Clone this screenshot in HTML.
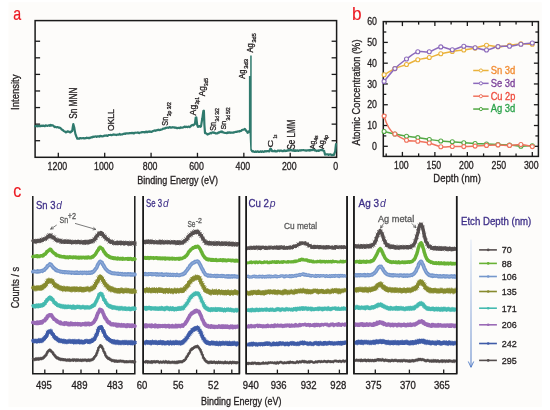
<!DOCTYPE html><html><head><meta charset="utf-8"><style>html,body{margin:0;padding:0;background:#fff;}svg{display:block;will-change:transform;}</style></head><body><svg width="550" height="410" viewBox="0 0 550 410" font-family="Liberation Sans, sans-serif">
<rect x="0" y="0" width="550" height="410" fill="#ffffff"/>
<rect x="8.5" y="2.2" width="533.3" height="405.0" fill="#fdfcfa"/>
<text x="13.3" y="19.7" font-size="18.2" fill="#ec1c24" stroke="#ec1c24" stroke-width="0.2" text-anchor="start" textLength="7.9" lengthAdjust="spacingAndGlyphs" >a</text>
<text x="351.9" y="20.3" font-size="19.0" fill="#ec1c24" stroke="#ec1c24" stroke-width="0.15" text-anchor="start" textLength="9.6" lengthAdjust="spacingAndGlyphs" >b</text>
<text x="13.2" y="197.3" font-size="18.4" fill="#ec1c24" stroke="#ec1c24" stroke-width="0.2" text-anchor="start" textLength="8.0" lengthAdjust="spacingAndGlyphs" >c</text>
<rect x="35.1" y="20.6" width="301.5" height="136.70000000000002" fill="none" stroke="#1a1a1a" stroke-width="1.5"/>
<line x1="35.1" y1="140.72000000000003" x2="40.1" y2="140.72000000000003" stroke="#1a1a1a" stroke-width="1.3"/>
<line x1="331.6" y1="140.72000000000003" x2="336.6" y2="140.72000000000003" stroke="#1a1a1a" stroke-width="1.3"/>
<line x1="35.1" y1="124.14000000000001" x2="40.1" y2="124.14000000000001" stroke="#1a1a1a" stroke-width="1.3"/>
<line x1="331.6" y1="124.14000000000001" x2="336.6" y2="124.14000000000001" stroke="#1a1a1a" stroke-width="1.3"/>
<line x1="35.1" y1="107.56000000000002" x2="40.1" y2="107.56000000000002" stroke="#1a1a1a" stroke-width="1.3"/>
<line x1="331.6" y1="107.56000000000002" x2="336.6" y2="107.56000000000002" stroke="#1a1a1a" stroke-width="1.3"/>
<line x1="35.1" y1="90.98000000000002" x2="40.1" y2="90.98000000000002" stroke="#1a1a1a" stroke-width="1.3"/>
<line x1="331.6" y1="90.98000000000002" x2="336.6" y2="90.98000000000002" stroke="#1a1a1a" stroke-width="1.3"/>
<line x1="35.1" y1="74.40000000000002" x2="40.1" y2="74.40000000000002" stroke="#1a1a1a" stroke-width="1.3"/>
<line x1="331.6" y1="74.40000000000002" x2="336.6" y2="74.40000000000002" stroke="#1a1a1a" stroke-width="1.3"/>
<line x1="35.1" y1="57.82000000000002" x2="40.1" y2="57.82000000000002" stroke="#1a1a1a" stroke-width="1.3"/>
<line x1="331.6" y1="57.82000000000002" x2="336.6" y2="57.82000000000002" stroke="#1a1a1a" stroke-width="1.3"/>
<line x1="35.1" y1="41.24000000000002" x2="40.1" y2="41.24000000000002" stroke="#1a1a1a" stroke-width="1.3"/>
<line x1="331.6" y1="41.24000000000002" x2="336.6" y2="41.24000000000002" stroke="#1a1a1a" stroke-width="1.3"/>
<line x1="58.32000000000005" y1="157.3" x2="58.32000000000005" y2="152.8" stroke="#1a1a1a" stroke-width="1.3"/>
<line x1="104.70000000000002" y1="157.3" x2="104.70000000000002" y2="152.8" stroke="#1a1a1a" stroke-width="1.3"/>
<line x1="151.08000000000004" y1="157.3" x2="151.08000000000004" y2="152.8" stroke="#1a1a1a" stroke-width="1.3"/>
<line x1="197.46000000000004" y1="157.3" x2="197.46000000000004" y2="152.8" stroke="#1a1a1a" stroke-width="1.3"/>
<line x1="243.84000000000003" y1="157.3" x2="243.84000000000003" y2="152.8" stroke="#1a1a1a" stroke-width="1.3"/>
<line x1="290.22" y1="157.3" x2="290.22" y2="152.8" stroke="#1a1a1a" stroke-width="1.3"/>
<text x="57.42" y="170.4" font-size="10.5" fill="#231f20" stroke="#231f20" stroke-width="0.3" text-anchor="middle" textLength="19.6" lengthAdjust="spacingAndGlyphs" >1200</text>
<text x="103.8" y="170.4" font-size="10.5" fill="#231f20" stroke="#231f20" stroke-width="0.3" text-anchor="middle" textLength="19.6" lengthAdjust="spacingAndGlyphs" >1000</text>
<text x="150.18" y="170.4" font-size="10.5" fill="#231f20" stroke="#231f20" stroke-width="0.3" text-anchor="middle" textLength="14.7" lengthAdjust="spacingAndGlyphs" >800</text>
<text x="196.56" y="170.4" font-size="10.5" fill="#231f20" stroke="#231f20" stroke-width="0.3" text-anchor="middle" textLength="14.7" lengthAdjust="spacingAndGlyphs" >600</text>
<text x="242.94" y="170.4" font-size="10.5" fill="#231f20" stroke="#231f20" stroke-width="0.3" text-anchor="middle" textLength="14.7" lengthAdjust="spacingAndGlyphs" >400</text>
<text x="289.32" y="170.4" font-size="10.5" fill="#231f20" stroke="#231f20" stroke-width="0.3" text-anchor="middle" textLength="14.7" lengthAdjust="spacingAndGlyphs" >200</text>
<text x="335.7" y="170.4" font-size="10.5" fill="#231f20" stroke="#231f20" stroke-width="0.3" text-anchor="middle" textLength="4.9" lengthAdjust="spacingAndGlyphs" >0</text>
<text x="137.3" y="184.4" font-size="10.0" fill="#231f20" stroke="#231f20" stroke-width="0.3" text-anchor="start" textLength="80.7" lengthAdjust="spacingAndGlyphs" >Binding Energy (eV)</text>
<text transform="translate(19.4,109.9) rotate(-90)" font-size="10.4" fill="#231f20" stroke="#231f20" stroke-width="0.3" text-anchor="start" textLength="35.4" lengthAdjust="spacingAndGlyphs" >Intensity</text>
<polyline points="35.00,126.20 35.70,126.04 36.40,125.89 37.10,126.34 37.80,125.82 38.50,126.23 39.20,126.08 39.50,126.20 39.90,125.78 40.60,126.16 41.30,125.70 42.00,126.03 42.70,125.67 43.40,125.65 43.90,126.00 44.10,125.91 44.80,126.18 45.50,125.46 46.20,125.46 46.90,125.73 47.60,125.93 48.30,125.51 49.00,125.26 49.40,125.30 49.70,125.73 50.40,124.89 51.10,125.62 51.80,125.11 52.10,125.30 52.50,125.23 53.20,125.65 53.90,126.26 54.60,127.16 54.80,127.00 55.30,126.76 56.00,127.18 56.70,127.30 57.40,127.12 58.10,127.30 58.80,127.68 59.50,127.58 60.20,127.91 60.80,128.60 60.90,128.42 61.60,129.41 62.30,129.76 63.00,130.23 63.50,130.80 63.70,131.00 64.40,131.33 65.10,131.64 65.70,132.20 65.80,132.43 66.50,132.09 67.20,131.42 67.90,131.40 68.60,131.67 69.30,131.84 70.00,132.36 70.60,132.20 70.70,132.31 71.40,131.21 72.10,131.13 72.30,130.50 72.80,127.01 73.30,124.20 73.50,124.82 74.20,127.30 74.90,131.35 75.50,134.40 75.60,134.34 76.30,136.41 77.00,137.78 77.20,138.70 77.70,138.76 78.40,138.72 79.10,138.41 79.80,138.56 79.90,138.20 80.50,138.02 81.20,138.34 81.90,138.23 82.60,138.20 83.30,138.07 84.00,138.40 84.70,138.47 85.40,138.03 86.10,138.18 86.80,137.62 87.50,138.00 88.20,138.07 88.90,137.90 89.60,138.10 90.30,137.83 91.00,137.23 91.70,137.21 92.40,137.35 93.00,137.10 93.10,136.66 93.80,136.97 94.50,136.63 95.20,136.50 95.90,136.36 96.60,136.92 97.30,136.26 98.00,136.29 98.70,136.34 99.40,136.69 100.10,135.89 100.80,136.14 101.50,136.15 102.20,136.37 102.90,136.23 103.60,136.19 104.30,135.58 105.00,135.70 105.70,135.56 106.40,135.44 107.10,135.85 107.80,135.85 108.50,135.06 109.20,135.02 109.90,135.00 110.60,134.94 111.30,135.10 112.00,135.13 112.70,134.77 113.40,134.47 114.10,134.78 114.80,134.67 115.50,134.78 116.20,135.06 116.90,134.76 117.60,134.54 118.30,134.56 119.00,134.55 119.70,133.93 120.00,134.30 120.40,134.63 121.10,134.46 121.80,134.48 122.50,134.36 123.20,133.93 123.90,133.88 124.60,133.55 125.30,133.97 126.00,133.40 126.70,133.34 127.40,133.41 128.10,133.31 128.80,133.41 129.50,133.09 130.20,132.98 130.90,133.06 131.60,132.96 132.30,133.13 133.00,132.77 133.70,133.47 134.40,133.18 135.10,132.70 135.80,132.73 136.50,132.76 137.20,132.72 137.90,132.44 138.60,133.03 139.30,133.10 140.00,132.60 140.70,132.51 141.40,132.46 142.10,132.04 142.80,131.99 143.50,132.14 144.20,132.01 144.90,132.45 145.60,131.79 146.30,131.60 147.00,132.38 147.70,131.93 148.40,131.53 149.10,131.82 149.80,131.29 150.00,131.70 150.50,131.62 151.20,131.87 151.90,131.62 152.60,131.32 153.30,130.78 154.00,130.73 154.70,130.40 155.40,130.79 156.10,130.43 156.80,130.50 157.50,129.95 158.20,129.70 158.90,130.08 159.60,130.09 160.30,129.82 161.00,129.63 161.70,129.49 162.40,129.27 163.10,128.66 163.80,128.77 164.50,128.48 165.00,128.50 165.20,128.02 165.90,127.81 166.60,127.82 167.30,127.59 168.00,127.77 168.70,127.80 169.40,127.13 170.00,127.00 170.10,127.41 170.80,127.57 171.50,127.65 172.20,127.23 172.90,127.21 173.60,127.33 174.30,127.42 175.00,127.80 175.70,127.53 176.40,127.91 177.10,128.16 177.80,128.11 178.50,127.78 179.20,127.94 179.90,128.07 180.00,127.80 180.60,127.31 181.30,127.68 182.00,127.77 182.70,127.51 183.40,127.35 184.10,126.96 184.80,126.55 185.00,126.80 185.50,127.04 186.20,126.60 186.90,126.99 187.60,127.12 188.30,126.57 189.00,126.55 189.70,127.01 190.00,126.60 190.40,126.59 191.10,125.72 191.80,125.31 192.50,124.96 193.20,125.27 193.90,124.81 194.60,123.84 194.90,124.00 195.30,121.04 195.70,117.50 196.00,117.93 196.30,117.50 196.70,120.97 197.20,125.00 197.40,125.38 197.90,126.80 198.10,126.81 198.80,126.32 199.50,126.10 200.20,126.85 200.90,126.45 201.00,126.30 201.60,122.56 202.30,118.53 202.80,115.00 203.00,113.54 203.40,110.80 203.70,111.13 203.90,110.80 204.40,125.00 205.00,132.80 205.10,133.16 205.80,133.08 206.50,133.60 207.20,134.11 207.50,134.50 207.90,134.11 208.60,134.14 209.30,133.56 210.00,133.43 210.70,132.89 211.40,133.31 212.10,132.53 212.80,132.34 213.00,132.30 213.50,132.52 214.20,133.00 214.90,132.76 215.60,133.41 216.30,133.23 216.90,133.40 217.00,133.39 217.70,133.14 218.40,132.45 219.10,132.58 219.80,132.11 220.50,131.70 221.20,132.18 221.80,131.70 221.90,131.45 222.60,132.00 223.30,132.51 224.00,132.64 224.70,132.72 225.00,133.00 225.40,132.99 226.10,132.96 226.80,133.12 227.50,132.45 228.20,132.81 228.90,132.47 229.60,132.44 230.30,132.83 231.00,132.54 231.70,132.53 232.40,132.66 233.10,132.74 233.80,132.26 234.00,132.30 234.50,132.29 235.20,132.04 235.90,131.90 236.60,131.91 237.30,131.54 238.00,131.46 238.70,131.26 239.40,131.53 240.00,131.00 240.10,131.13 240.80,130.97 241.50,130.71 242.20,129.78 242.90,129.73 243.60,129.76 244.30,129.34 244.60,128.90 245.00,129.09 245.70,129.99 246.40,131.19 247.10,131.77 247.60,132.80 247.80,132.24 248.40,131.50" fill="none" stroke="#2f7a6d" stroke-width="2.2" stroke-linejoin="round" stroke-linecap="round" />
<polyline points="252.30,151.20 253.00,151.03 253.60,151.60 253.70,151.75 254.40,151.86 255.10,151.96 255.80,151.29 256.50,151.79 257.20,151.74 257.90,151.28 258.60,151.94 259.30,152.02 260.00,151.60 260.70,151.32 261.40,151.95 262.10,151.42 262.80,151.47 263.50,151.89 264.20,151.72 264.90,151.09 265.60,151.30 266.30,151.35 267.00,151.16 267.70,151.00 268.40,151.08 269.10,151.42 269.50,151.20 269.80,149.87 270.30,148.80 270.50,148.85 271.00,148.80 271.20,149.23 271.90,150.53 272.00,151.20 272.60,151.03 273.30,151.26 274.00,151.14 274.70,150.71 275.40,151.51 276.10,151.31 276.80,151.44 277.50,150.64 278.20,150.76 278.90,150.53 279.60,151.17 280.30,150.68 281.00,150.53 281.70,150.77 282.40,151.18 283.10,151.07 283.80,150.54 284.50,150.42 285.20,151.08 285.90,150.74 286.60,150.83 287.30,150.26 288.00,150.60 288.70,150.06 289.40,150.49 290.10,150.11 290.80,149.66 291.00,150.00 291.50,150.49 292.20,150.36 292.90,150.65 293.60,150.15 294.00,150.60 294.30,150.92 295.00,150.20 295.70,150.92 296.40,150.54 297.10,150.44 297.80,150.62 298.50,150.96 299.20,150.36 299.90,150.23 300.60,150.58 301.30,150.32 302.00,150.20 302.70,150.24 303.40,150.14 304.10,150.27 304.80,150.36 305.50,150.35 306.20,150.76 306.90,150.33 307.60,150.52 308.30,150.22 309.00,150.37 309.70,150.07 310.00,150.50 310.40,150.18 311.10,149.79 311.80,150.26 312.50,149.92 313.20,149.42 313.60,149.60 313.90,149.73 314.60,150.49 315.30,150.10 316.00,150.80 316.70,151.04 317.40,150.65 318.10,150.66 318.80,150.91 319.00,150.60 319.50,150.34 320.20,150.21 320.90,150.14 321.60,150.17 322.00,149.60 322.30,149.65 323.00,150.54 323.70,150.87 324.20,151.00 324.40,152.02 325.00,154.60 325.10,154.52 325.80,154.48 326.50,154.23 327.20,154.32 327.90,154.28 328.60,154.90 329.30,154.48 330.00,154.41 330.70,154.35 331.40,155.05 332.10,155.09 332.80,154.93 333.50,154.59 334.00,154.80 334.20,154.02 334.90,152.14 335.20,151.50 335.60,147.71 336.00,144.00" fill="none" stroke="#2f7a6d" stroke-width="2.2" stroke-linejoin="round" stroke-linecap="round" />
<path d="M247.6,133.6 L248.9,130 L248.9,76 L250.2,76 L250.2,55.6 L251.7,55.6 L251.7,148.5 L253.3,152.3 L252.2,152.4 L250.3,150.5 L249.5,133 Z" fill="#2f7a6d"/>
<text transform="translate(77.2,118.8) rotate(-90)" font-size="10.0" fill="#231f20" stroke="#231f20" stroke-width="0.3" text-anchor="start" textLength="31.2" lengthAdjust="spacingAndGlyphs" >Sn MNN</text>
<text transform="translate(113.5,131.1) rotate(-90)" font-size="9.8" fill="#231f20" stroke="#231f20" stroke-width="0.3" text-anchor="start" textLength="22.0" lengthAdjust="spacingAndGlyphs" >OKLL</text>
<text transform="translate(168.1,125.7) rotate(-90)" font-size="8.8" fill="#231f20" stroke="#231f20" stroke-width="0.3" text-anchor="start" textLength="8.9" lengthAdjust="spacingAndGlyphs" >Sn</text>
<text transform="translate(171.4,116.3) rotate(-90)" font-size="5.6" fill="#231f20" stroke="#231f20" stroke-width="0.3" text-anchor="start" textLength="14.0" lengthAdjust="spacingAndGlyphs" >3p 3/2</text>
<text transform="translate(195.5,115.4) rotate(-90)" font-size="8.9" fill="#231f20" stroke="#231f20" stroke-width="0.3" text-anchor="start" textLength="10.7" lengthAdjust="spacingAndGlyphs" >Ag</text>
<text transform="translate(199.3,104.4) rotate(-90)" font-size="5.6" fill="#231f20" stroke="#231f20" stroke-width="0.3" text-anchor="start" textLength="7.3" lengthAdjust="spacingAndGlyphs" >3p1</text>
<text transform="translate(204.9,96.2) rotate(-90)" font-size="8.4" fill="#231f20" stroke="#231f20" stroke-width="0.3" text-anchor="start" textLength="10.2" lengthAdjust="spacingAndGlyphs" >Ag</text>
<text transform="translate(208.3,86.0) rotate(-90)" font-size="5.4" fill="#231f20" stroke="#231f20" stroke-width="0.3" text-anchor="start" textLength="7.9" lengthAdjust="spacingAndGlyphs" >3d5</text>
<text transform="translate(215.7,130.8) rotate(-90)" font-size="8.4" fill="#231f20" stroke="#231f20" stroke-width="0.3" text-anchor="start" textLength="9.0" lengthAdjust="spacingAndGlyphs" >Sn</text>
<text transform="translate(218.7,121.4) rotate(-90)" font-size="5.4" fill="#231f20" stroke="#231f20" stroke-width="0.3" text-anchor="start" textLength="13.3" lengthAdjust="spacingAndGlyphs" >3d 3/2</text>
<text transform="translate(225.9,129.5) rotate(-90)" font-size="8.0" fill="#231f20" stroke="#231f20" stroke-width="0.3" text-anchor="start" textLength="8.6" lengthAdjust="spacingAndGlyphs" >Sn</text>
<text transform="translate(229.6,120.5) rotate(-90)" font-size="5.4" fill="#231f20" stroke="#231f20" stroke-width="0.3" text-anchor="start" textLength="13.2" lengthAdjust="spacingAndGlyphs" >3d 5/2</text>
<text transform="translate(244.6,78.7) rotate(-90)" font-size="8.4" fill="#231f20" stroke="#231f20" stroke-width="0.3" text-anchor="start" textLength="9.2" lengthAdjust="spacingAndGlyphs" >Ag</text>
<text transform="translate(248.3,68.8) rotate(-90)" font-size="5.4" fill="#231f20" stroke="#231f20" stroke-width="0.3" text-anchor="start" textLength="9.8" lengthAdjust="spacingAndGlyphs" >3d3</text>
<text transform="translate(253.2,52.4) rotate(-90)" font-size="8.4" fill="#231f20" stroke="#231f20" stroke-width="0.3" text-anchor="start" textLength="9.2" lengthAdjust="spacingAndGlyphs" >Ag</text>
<text transform="translate(256.3,42.5) rotate(-90)" font-size="5.4" fill="#231f20" stroke="#231f20" stroke-width="0.3" text-anchor="start" textLength="9.2" lengthAdjust="spacingAndGlyphs" >3d5</text>
<text transform="translate(273.0,147.5) rotate(-90)" font-size="7.5" fill="#231f20" stroke="#231f20" stroke-width="0.3" text-anchor="start" textLength="7.6" lengthAdjust="spacingAndGlyphs" >C</text>
<text transform="translate(277.0,138.6) rotate(-90)" font-size="5.0" fill="#231f20" stroke="#231f20" stroke-width="0.3" text-anchor="start" textLength="3.8" lengthAdjust="spacingAndGlyphs" >1s</text>
<text transform="translate(294.8,149.5) rotate(-90)" font-size="10.0" fill="#231f20" stroke="#231f20" stroke-width="0.3" text-anchor="start" textLength="30.0" lengthAdjust="spacingAndGlyphs" >Se LMM</text>
<text transform="translate(315.0,149.0) rotate(-90)" font-size="8.0" fill="#231f20" stroke="#231f20" stroke-width="0.3" text-anchor="start" textLength="8.4" lengthAdjust="spacingAndGlyphs" >Ag</text>
<text transform="translate(318.0,140.8) rotate(-90)" font-size="5.0" fill="#231f20" stroke="#231f20" stroke-width="0.3" text-anchor="start" textLength="5.3" lengthAdjust="spacingAndGlyphs" >4s</text>
<text transform="translate(324.3,149.0) rotate(-90)" font-size="8.0" fill="#231f20" stroke="#231f20" stroke-width="0.3" text-anchor="start" textLength="8.6" lengthAdjust="spacingAndGlyphs" >Ag</text>
<text transform="translate(327.6,140.4) rotate(-90)" font-size="5.0" fill="#231f20" stroke="#231f20" stroke-width="0.3" text-anchor="start" textLength="5.2" lengthAdjust="spacingAndGlyphs" >4p</text>
<rect x="383.3" y="21.6" width="155.09999999999997" height="134.8" fill="none" stroke="#1a1a1a" stroke-width="1.5"/>
<line x1="383.3" y1="146.3" x2="387.8" y2="146.3" stroke="#1a1a1a" stroke-width="1.3"/>
<line x1="533.9" y1="146.3" x2="538.4" y2="146.3" stroke="#1a1a1a" stroke-width="1.3"/>
<line x1="383.3" y1="135.91000000000003" x2="386.3" y2="135.91000000000003" stroke="#1a1a1a" stroke-width="1.3"/>
<line x1="535.4" y1="135.91000000000003" x2="538.4" y2="135.91000000000003" stroke="#1a1a1a" stroke-width="1.3"/>
<line x1="383.3" y1="125.52000000000001" x2="387.8" y2="125.52000000000001" stroke="#1a1a1a" stroke-width="1.3"/>
<line x1="533.9" y1="125.52000000000001" x2="538.4" y2="125.52000000000001" stroke="#1a1a1a" stroke-width="1.3"/>
<line x1="383.3" y1="115.13000000000001" x2="386.3" y2="115.13000000000001" stroke="#1a1a1a" stroke-width="1.3"/>
<line x1="535.4" y1="115.13000000000001" x2="538.4" y2="115.13000000000001" stroke="#1a1a1a" stroke-width="1.3"/>
<line x1="383.3" y1="104.74000000000001" x2="387.8" y2="104.74000000000001" stroke="#1a1a1a" stroke-width="1.3"/>
<line x1="533.9" y1="104.74000000000001" x2="538.4" y2="104.74000000000001" stroke="#1a1a1a" stroke-width="1.3"/>
<line x1="383.3" y1="94.35000000000002" x2="386.3" y2="94.35000000000002" stroke="#1a1a1a" stroke-width="1.3"/>
<line x1="535.4" y1="94.35000000000002" x2="538.4" y2="94.35000000000002" stroke="#1a1a1a" stroke-width="1.3"/>
<line x1="383.3" y1="83.96000000000001" x2="387.8" y2="83.96000000000001" stroke="#1a1a1a" stroke-width="1.3"/>
<line x1="533.9" y1="83.96000000000001" x2="538.4" y2="83.96000000000001" stroke="#1a1a1a" stroke-width="1.3"/>
<line x1="383.3" y1="73.57000000000002" x2="386.3" y2="73.57000000000002" stroke="#1a1a1a" stroke-width="1.3"/>
<line x1="535.4" y1="73.57000000000002" x2="538.4" y2="73.57000000000002" stroke="#1a1a1a" stroke-width="1.3"/>
<line x1="383.3" y1="63.18000000000002" x2="387.8" y2="63.18000000000002" stroke="#1a1a1a" stroke-width="1.3"/>
<line x1="533.9" y1="63.18000000000002" x2="538.4" y2="63.18000000000002" stroke="#1a1a1a" stroke-width="1.3"/>
<line x1="383.3" y1="52.79000000000002" x2="386.3" y2="52.79000000000002" stroke="#1a1a1a" stroke-width="1.3"/>
<line x1="535.4" y1="52.79000000000002" x2="538.4" y2="52.79000000000002" stroke="#1a1a1a" stroke-width="1.3"/>
<line x1="383.3" y1="42.40000000000002" x2="387.8" y2="42.40000000000002" stroke="#1a1a1a" stroke-width="1.3"/>
<line x1="533.9" y1="42.40000000000002" x2="538.4" y2="42.40000000000002" stroke="#1a1a1a" stroke-width="1.3"/>
<line x1="383.3" y1="32.01000000000002" x2="386.3" y2="32.01000000000002" stroke="#1a1a1a" stroke-width="1.3"/>
<line x1="535.4" y1="32.01000000000002" x2="538.4" y2="32.01000000000002" stroke="#1a1a1a" stroke-width="1.3"/>
<line x1="386.16249999999997" y1="156.4" x2="386.16249999999997" y2="153.4" stroke="#1a1a1a" stroke-width="1.3"/>
<line x1="386.16249999999997" y1="21.6" x2="386.16249999999997" y2="24.6" stroke="#1a1a1a" stroke-width="1.3"/>
<line x1="402.4" y1="156.4" x2="402.4" y2="151.9" stroke="#1a1a1a" stroke-width="1.3"/>
<line x1="402.4" y1="21.6" x2="402.4" y2="26.1" stroke="#1a1a1a" stroke-width="1.3"/>
<line x1="418.6375" y1="156.4" x2="418.6375" y2="153.4" stroke="#1a1a1a" stroke-width="1.3"/>
<line x1="418.6375" y1="21.6" x2="418.6375" y2="24.6" stroke="#1a1a1a" stroke-width="1.3"/>
<line x1="434.875" y1="156.4" x2="434.875" y2="151.9" stroke="#1a1a1a" stroke-width="1.3"/>
<line x1="434.875" y1="21.6" x2="434.875" y2="26.1" stroke="#1a1a1a" stroke-width="1.3"/>
<line x1="451.11249999999995" y1="156.4" x2="451.11249999999995" y2="153.4" stroke="#1a1a1a" stroke-width="1.3"/>
<line x1="451.11249999999995" y1="21.6" x2="451.11249999999995" y2="24.6" stroke="#1a1a1a" stroke-width="1.3"/>
<line x1="467.34999999999997" y1="156.4" x2="467.34999999999997" y2="151.9" stroke="#1a1a1a" stroke-width="1.3"/>
<line x1="467.34999999999997" y1="21.6" x2="467.34999999999997" y2="26.1" stroke="#1a1a1a" stroke-width="1.3"/>
<line x1="483.5875" y1="156.4" x2="483.5875" y2="153.4" stroke="#1a1a1a" stroke-width="1.3"/>
<line x1="483.5875" y1="21.6" x2="483.5875" y2="24.6" stroke="#1a1a1a" stroke-width="1.3"/>
<line x1="499.825" y1="156.4" x2="499.825" y2="151.9" stroke="#1a1a1a" stroke-width="1.3"/>
<line x1="499.825" y1="21.6" x2="499.825" y2="26.1" stroke="#1a1a1a" stroke-width="1.3"/>
<line x1="516.0625" y1="156.4" x2="516.0625" y2="153.4" stroke="#1a1a1a" stroke-width="1.3"/>
<line x1="516.0625" y1="21.6" x2="516.0625" y2="24.6" stroke="#1a1a1a" stroke-width="1.3"/>
<line x1="532.3" y1="156.4" x2="532.3" y2="151.9" stroke="#1a1a1a" stroke-width="1.3"/>
<line x1="532.3" y1="21.6" x2="532.3" y2="26.1" stroke="#1a1a1a" stroke-width="1.3"/>
<text x="377.0" y="149.9" font-size="10.4" fill="#231f20" stroke="#231f20" stroke-width="0.3" text-anchor="end" textLength="4.9" lengthAdjust="spacingAndGlyphs" >0</text>
<text x="377.0" y="129.12" font-size="10.4" fill="#231f20" stroke="#231f20" stroke-width="0.3" text-anchor="end" textLength="9.8" lengthAdjust="spacingAndGlyphs" >10</text>
<text x="377.0" y="108.34" font-size="10.4" fill="#231f20" stroke="#231f20" stroke-width="0.3" text-anchor="end" textLength="9.8" lengthAdjust="spacingAndGlyphs" >20</text>
<text x="377.0" y="87.56" font-size="10.4" fill="#231f20" stroke="#231f20" stroke-width="0.3" text-anchor="end" textLength="9.8" lengthAdjust="spacingAndGlyphs" >30</text>
<text x="377.0" y="66.78" font-size="10.4" fill="#231f20" stroke="#231f20" stroke-width="0.3" text-anchor="end" textLength="9.8" lengthAdjust="spacingAndGlyphs" >40</text>
<text x="377.0" y="46.0" font-size="10.4" fill="#231f20" stroke="#231f20" stroke-width="0.3" text-anchor="end" textLength="9.8" lengthAdjust="spacingAndGlyphs" >50</text>
<text x="377.0" y="25.22" font-size="10.4" fill="#231f20" stroke="#231f20" stroke-width="0.3" text-anchor="end" textLength="9.8" lengthAdjust="spacingAndGlyphs" >60</text>
<text x="401.4" y="169.0" font-size="10.4" fill="#231f20" stroke="#231f20" stroke-width="0.3" text-anchor="middle" textLength="14.6" lengthAdjust="spacingAndGlyphs" >100</text>
<text x="433.88" y="169.0" font-size="10.4" fill="#231f20" stroke="#231f20" stroke-width="0.3" text-anchor="middle" textLength="14.6" lengthAdjust="spacingAndGlyphs" >150</text>
<text x="466.35" y="169.0" font-size="10.4" fill="#231f20" stroke="#231f20" stroke-width="0.3" text-anchor="middle" textLength="14.6" lengthAdjust="spacingAndGlyphs" >200</text>
<text x="498.82" y="169.0" font-size="10.4" fill="#231f20" stroke="#231f20" stroke-width="0.3" text-anchor="middle" textLength="14.6" lengthAdjust="spacingAndGlyphs" >250</text>
<text x="531.3" y="169.0" font-size="10.4" fill="#231f20" stroke="#231f20" stroke-width="0.3" text-anchor="middle" textLength="14.6" lengthAdjust="spacingAndGlyphs" >300</text>
<text transform="translate(359.5,145.5) rotate(-90)" font-size="10.6" fill="#231f20" stroke="#231f20" stroke-width="0.3" text-anchor="start" textLength="106" lengthAdjust="spacingAndGlyphs" >Atomic Concentration (%)</text>
<text x="433.3" y="182.0" font-size="10.4" fill="#231f20" stroke="#231f20" stroke-width="0.3" text-anchor="start" textLength="47.6" lengthAdjust="spacingAndGlyphs" >Depth (nm)</text>
<path d="M384.10,74.80 C386.04,73.68 390.87,70.45 394.90,68.60 C398.93,66.75 402.38,66.08 406.50,64.50 C410.62,62.92 413.70,61.06 417.80,59.80 C421.90,58.54 425.16,58.60 429.30,57.50 C433.44,56.40 436.66,54.80 440.80,53.70 C444.94,52.60 448.16,52.07 452.30,51.40 C456.44,50.73 459.70,50.59 463.80,50.00 C467.90,49.41 471.01,48.95 475.10,48.10 C479.19,47.25 482.38,45.53 486.50,45.30 C490.62,45.07 493.86,46.80 498.00,46.80 C502.14,46.80 505.38,45.82 509.50,45.30 C513.62,44.78 516.80,44.08 520.90,43.90 C525.00,43.72 530.25,44.23 532.30,44.30" fill="none" stroke="#eab23b" stroke-width="1.5"/>
<path d="M384.10,81.40 C386.04,79.10 390.87,72.63 394.90,68.60 C398.93,64.57 402.38,62.02 406.50,59.00 C410.62,55.98 413.70,53.10 417.80,51.80 C421.90,50.50 425.16,52.68 429.30,51.80 C433.44,50.92 436.66,47.28 440.80,46.90 C444.94,46.52 448.16,49.83 452.30,49.70 C456.44,49.57 459.70,46.54 463.80,46.20 C467.90,45.86 471.01,47.12 475.10,47.80 C479.19,48.48 482.38,50.22 486.50,50.00 C490.62,49.78 493.86,47.28 498.00,46.60 C502.14,45.92 505.38,46.61 509.50,46.20 C513.62,45.79 516.80,44.88 520.90,44.30 C525.00,43.72 530.25,43.23 532.30,43.00" fill="none" stroke="#8c6abc" stroke-width="1.5"/>
<path d="M384.10,131.50 C386.04,131.95 390.87,133.15 394.90,134.00 C398.93,134.85 402.38,135.55 406.50,136.20 C410.62,136.85 413.70,137.01 417.80,137.60 C421.90,138.19 425.16,138.89 429.30,139.50 C433.44,140.11 436.66,140.60 440.80,141.00 C444.94,141.40 448.16,141.38 452.30,141.70 C456.44,142.02 459.70,142.48 463.80,142.80 C467.90,143.12 471.01,143.28 475.10,143.50 C479.19,143.72 482.38,143.80 486.50,144.00 C490.62,144.20 493.86,144.42 498.00,144.60 C502.14,144.78 505.38,144.71 509.50,145.00 C513.62,145.29 516.80,146.07 520.90,146.20 C525.00,146.33 530.25,145.79 532.30,145.70" fill="none" stroke="#52a844" stroke-width="1.5"/>
<path d="M384.1,116.1 C386.2,123.5 389.8,131.2 394.8,134.0 C396.99,135.13 402.38,138.99 406.50,140.30 C410.62,141.61 413.70,140.81 417.80,141.30 C421.90,141.79 425.16,142.03 429.30,143.00 C433.44,143.97 436.66,146.07 440.80,146.70 C444.94,147.33 448.16,146.52 452.30,146.50 C456.44,146.48 459.70,146.67 463.80,146.60 C467.90,146.53 471.01,146.32 475.10,146.10 C479.19,145.88 482.38,145.62 486.50,145.40 C490.62,145.18 493.86,144.90 498.00,144.90 C502.14,144.90 505.38,145.47 509.50,145.40 C513.62,145.33 516.80,144.28 520.90,144.50 C525.00,144.72 530.25,146.22 532.30,146.60" fill="none" stroke="#f0735e" stroke-width="1.5"/>
<circle cx="384.1" cy="74.8" r="2.0" fill="#fdfcf9" stroke="#eab23b" stroke-width="1.1"/>
<circle cx="394.9" cy="68.6" r="2.0" fill="#fdfcf9" stroke="#eab23b" stroke-width="1.1"/>
<circle cx="406.5" cy="64.5" r="2.0" fill="#fdfcf9" stroke="#eab23b" stroke-width="1.1"/>
<circle cx="417.8" cy="59.8" r="2.0" fill="#fdfcf9" stroke="#eab23b" stroke-width="1.1"/>
<circle cx="429.3" cy="57.5" r="2.0" fill="#fdfcf9" stroke="#eab23b" stroke-width="1.1"/>
<circle cx="440.8" cy="53.7" r="2.0" fill="#fdfcf9" stroke="#eab23b" stroke-width="1.1"/>
<circle cx="452.3" cy="51.4" r="2.0" fill="#fdfcf9" stroke="#eab23b" stroke-width="1.1"/>
<circle cx="463.8" cy="50.0" r="2.0" fill="#fdfcf9" stroke="#eab23b" stroke-width="1.1"/>
<circle cx="475.1" cy="48.1" r="2.0" fill="#fdfcf9" stroke="#eab23b" stroke-width="1.1"/>
<circle cx="486.5" cy="45.3" r="2.0" fill="#fdfcf9" stroke="#eab23b" stroke-width="1.1"/>
<circle cx="498.0" cy="46.8" r="2.0" fill="#fdfcf9" stroke="#eab23b" stroke-width="1.1"/>
<circle cx="509.5" cy="45.3" r="2.0" fill="#fdfcf9" stroke="#eab23b" stroke-width="1.1"/>
<circle cx="520.9" cy="43.9" r="2.0" fill="#fdfcf9" stroke="#eab23b" stroke-width="1.1"/>
<circle cx="532.3" cy="44.3" r="2.0" fill="#fdfcf9" stroke="#eab23b" stroke-width="1.1"/>
<circle cx="384.1" cy="81.4" r="2.0" fill="#fdfcf9" stroke="#8c6abc" stroke-width="1.1"/>
<circle cx="394.9" cy="68.6" r="2.0" fill="#fdfcf9" stroke="#8c6abc" stroke-width="1.1"/>
<circle cx="406.5" cy="59.0" r="2.0" fill="#fdfcf9" stroke="#8c6abc" stroke-width="1.1"/>
<circle cx="417.8" cy="51.8" r="2.0" fill="#fdfcf9" stroke="#8c6abc" stroke-width="1.1"/>
<circle cx="429.3" cy="51.8" r="2.0" fill="#fdfcf9" stroke="#8c6abc" stroke-width="1.1"/>
<circle cx="440.8" cy="46.9" r="2.0" fill="#fdfcf9" stroke="#8c6abc" stroke-width="1.1"/>
<circle cx="452.3" cy="49.7" r="2.0" fill="#fdfcf9" stroke="#8c6abc" stroke-width="1.1"/>
<circle cx="463.8" cy="46.2" r="2.0" fill="#fdfcf9" stroke="#8c6abc" stroke-width="1.1"/>
<circle cx="475.1" cy="47.8" r="2.0" fill="#fdfcf9" stroke="#8c6abc" stroke-width="1.1"/>
<circle cx="486.5" cy="50.0" r="2.0" fill="#fdfcf9" stroke="#8c6abc" stroke-width="1.1"/>
<circle cx="498.0" cy="46.6" r="2.0" fill="#fdfcf9" stroke="#8c6abc" stroke-width="1.1"/>
<circle cx="509.5" cy="46.2" r="2.0" fill="#fdfcf9" stroke="#8c6abc" stroke-width="1.1"/>
<circle cx="520.9" cy="44.3" r="2.0" fill="#fdfcf9" stroke="#8c6abc" stroke-width="1.1"/>
<circle cx="532.3" cy="43.0" r="2.0" fill="#fdfcf9" stroke="#8c6abc" stroke-width="1.1"/>
<circle cx="384.1" cy="131.5" r="2.0" fill="#fdfcf9" stroke="#52a844" stroke-width="1.1"/>
<circle cx="394.9" cy="134.0" r="2.0" fill="#fdfcf9" stroke="#52a844" stroke-width="1.1"/>
<circle cx="406.5" cy="136.2" r="2.0" fill="#fdfcf9" stroke="#52a844" stroke-width="1.1"/>
<circle cx="417.8" cy="137.6" r="2.0" fill="#fdfcf9" stroke="#52a844" stroke-width="1.1"/>
<circle cx="429.3" cy="139.5" r="2.0" fill="#fdfcf9" stroke="#52a844" stroke-width="1.1"/>
<circle cx="440.8" cy="141.0" r="2.0" fill="#fdfcf9" stroke="#52a844" stroke-width="1.1"/>
<circle cx="452.3" cy="141.7" r="2.0" fill="#fdfcf9" stroke="#52a844" stroke-width="1.1"/>
<circle cx="463.8" cy="142.8" r="2.0" fill="#fdfcf9" stroke="#52a844" stroke-width="1.1"/>
<circle cx="475.1" cy="143.5" r="2.0" fill="#fdfcf9" stroke="#52a844" stroke-width="1.1"/>
<circle cx="486.5" cy="144.0" r="2.0" fill="#fdfcf9" stroke="#52a844" stroke-width="1.1"/>
<circle cx="498.0" cy="144.6" r="2.0" fill="#fdfcf9" stroke="#52a844" stroke-width="1.1"/>
<circle cx="509.5" cy="145.0" r="2.0" fill="#fdfcf9" stroke="#52a844" stroke-width="1.1"/>
<circle cx="520.9" cy="146.2" r="2.0" fill="#fdfcf9" stroke="#52a844" stroke-width="1.1"/>
<circle cx="532.3" cy="145.7" r="2.0" fill="#fdfcf9" stroke="#52a844" stroke-width="1.1"/>
<circle cx="384.1" cy="116.1" r="2.0" fill="#fdfcf9" stroke="#f0735e" stroke-width="1.1"/>
<circle cx="394.9" cy="134.0" r="2.0" fill="#fdfcf9" stroke="#f0735e" stroke-width="1.1"/>
<circle cx="406.5" cy="140.3" r="2.0" fill="#fdfcf9" stroke="#f0735e" stroke-width="1.1"/>
<circle cx="417.8" cy="141.3" r="2.0" fill="#fdfcf9" stroke="#f0735e" stroke-width="1.1"/>
<circle cx="429.3" cy="143.0" r="2.0" fill="#fdfcf9" stroke="#f0735e" stroke-width="1.1"/>
<circle cx="440.8" cy="146.7" r="2.0" fill="#fdfcf9" stroke="#f0735e" stroke-width="1.1"/>
<circle cx="452.3" cy="146.5" r="2.0" fill="#fdfcf9" stroke="#f0735e" stroke-width="1.1"/>
<circle cx="463.8" cy="146.6" r="2.0" fill="#fdfcf9" stroke="#f0735e" stroke-width="1.1"/>
<circle cx="475.1" cy="146.1" r="2.0" fill="#fdfcf9" stroke="#f0735e" stroke-width="1.1"/>
<circle cx="486.5" cy="145.4" r="2.0" fill="#fdfcf9" stroke="#f0735e" stroke-width="1.1"/>
<circle cx="498.0" cy="144.9" r="2.0" fill="#fdfcf9" stroke="#f0735e" stroke-width="1.1"/>
<circle cx="509.5" cy="145.4" r="2.0" fill="#fdfcf9" stroke="#f0735e" stroke-width="1.1"/>
<circle cx="520.9" cy="144.5" r="2.0" fill="#fdfcf9" stroke="#f0735e" stroke-width="1.1"/>
<circle cx="532.3" cy="146.6" r="2.0" fill="#fdfcf9" stroke="#f0735e" stroke-width="1.1"/>
<line x1="473.2" y1="70.5" x2="488.6" y2="70.5" stroke="#eab23b" stroke-width="1.5"/>
<circle cx="480.9" cy="70.5" r="1.6" fill="#fdfcf9" stroke="#eab23b" stroke-width="1.0"/>
<text x="490.7" y="73.9" font-size="10.2" fill="#f28b30" stroke="#f28b30" stroke-width="0.3" text-anchor="start" textLength="24.6" lengthAdjust="spacingAndGlyphs" >Sn 3d</text>
<line x1="473.2" y1="83.35" x2="488.6" y2="83.35" stroke="#8c6abc" stroke-width="1.5"/>
<circle cx="480.9" cy="83.35" r="1.6" fill="#fdfcf9" stroke="#8c6abc" stroke-width="1.0"/>
<text x="490.7" y="86.75" font-size="10.2" fill="#7a3f98" stroke="#7a3f98" stroke-width="0.3" text-anchor="start" textLength="24.6" lengthAdjust="spacingAndGlyphs" >Se 3d</text>
<line x1="473.2" y1="96.2" x2="488.6" y2="96.2" stroke="#f0735e" stroke-width="1.5"/>
<circle cx="480.9" cy="96.2" r="1.6" fill="#fdfcf9" stroke="#f0735e" stroke-width="1.0"/>
<text x="490.7" y="99.6" font-size="10.2" fill="#ee4a3c" stroke="#ee4a3c" stroke-width="0.3" text-anchor="start" textLength="24.6" lengthAdjust="spacingAndGlyphs" >Cu 2p</text>
<line x1="473.2" y1="109.05" x2="488.6" y2="109.05" stroke="#52a844" stroke-width="1.5"/>
<circle cx="480.9" cy="109.05" r="1.6" fill="#fdfcf9" stroke="#52a844" stroke-width="1.0"/>
<text x="490.7" y="112.45" font-size="10.2" fill="#2ba24a" stroke="#2ba24a" stroke-width="0.3" text-anchor="start" textLength="24.6" lengthAdjust="spacingAndGlyphs" >Ag 3d</text>
<path d="M32.8,196.1 L32.8,373.8 L134.8,373.8 L134.8,196.1" fill="none" stroke="#1a1a1a" stroke-width="1.5"/>
<path d="M143.2,196.1 L143.2,373.8 L239.4,373.8 L239.4,196.1" fill="none" stroke="#1a1a1a" stroke-width="1.5"/>
<path d="M246.2,196.1 L246.2,373.8 L347.1,373.8 L347.1,196.1" fill="none" stroke="#1a1a1a" stroke-width="1.5"/>
<path d="M353.9,196.1 L353.9,373.8 L456.7,373.8 L456.7,196.1" fill="none" stroke="#1a1a1a" stroke-width="1.5"/>
<line x1="44.8" y1="373.8" x2="44.8" y2="369.6" stroke="#1a1a1a" stroke-width="1.3"/>
<line x1="63.1" y1="373.8" x2="63.1" y2="369.6" stroke="#1a1a1a" stroke-width="1.3"/>
<line x1="81.0" y1="373.8" x2="81.0" y2="369.6" stroke="#1a1a1a" stroke-width="1.3"/>
<line x1="98.8" y1="373.8" x2="98.8" y2="369.6" stroke="#1a1a1a" stroke-width="1.3"/>
<line x1="116.6" y1="373.8" x2="116.6" y2="369.6" stroke="#1a1a1a" stroke-width="1.3"/>
<line x1="161.4" y1="373.8" x2="161.4" y2="369.6" stroke="#1a1a1a" stroke-width="1.3"/>
<line x1="179.0" y1="373.8" x2="179.0" y2="369.6" stroke="#1a1a1a" stroke-width="1.3"/>
<line x1="196.6" y1="373.8" x2="196.6" y2="369.6" stroke="#1a1a1a" stroke-width="1.3"/>
<line x1="214.2" y1="373.8" x2="214.2" y2="369.6" stroke="#1a1a1a" stroke-width="1.3"/>
<line x1="231.8" y1="373.8" x2="231.8" y2="369.6" stroke="#1a1a1a" stroke-width="1.3"/>
<line x1="277.4" y1="373.8" x2="277.4" y2="369.6" stroke="#1a1a1a" stroke-width="1.3"/>
<line x1="308.4" y1="373.8" x2="308.4" y2="369.6" stroke="#1a1a1a" stroke-width="1.3"/>
<line x1="339.4" y1="373.8" x2="339.4" y2="369.6" stroke="#1a1a1a" stroke-width="1.3"/>
<line x1="375.3" y1="373.8" x2="375.3" y2="369.6" stroke="#1a1a1a" stroke-width="1.3"/>
<line x1="409.4" y1="373.8" x2="409.4" y2="369.6" stroke="#1a1a1a" stroke-width="1.3"/>
<line x1="443.7" y1="373.8" x2="443.7" y2="369.6" stroke="#1a1a1a" stroke-width="1.3"/>
<text x="43.9" y="389.0" font-size="10.2" fill="#231f20" stroke="#231f20" stroke-width="0.3" text-anchor="middle" textLength="15.9" lengthAdjust="spacingAndGlyphs" >495</text>
<text x="79.5" y="389.0" font-size="10.2" fill="#231f20" stroke="#231f20" stroke-width="0.3" text-anchor="middle" textLength="15.9" lengthAdjust="spacingAndGlyphs" >489</text>
<text x="115.0" y="389.0" font-size="10.2" fill="#231f20" stroke="#231f20" stroke-width="0.3" text-anchor="middle" textLength="15.9" lengthAdjust="spacingAndGlyphs" >483</text>
<text x="142.0" y="389.0" font-size="10.2" fill="#231f20" stroke="#231f20" stroke-width="0.3" text-anchor="middle" textLength="10.6" lengthAdjust="spacingAndGlyphs" >60</text>
<text x="178.2" y="389.0" font-size="10.2" fill="#231f20" stroke="#231f20" stroke-width="0.3" text-anchor="middle" textLength="10.6" lengthAdjust="spacingAndGlyphs" >56</text>
<text x="213.4" y="389.0" font-size="10.2" fill="#231f20" stroke="#231f20" stroke-width="0.3" text-anchor="middle" textLength="10.6" lengthAdjust="spacingAndGlyphs" >52</text>
<text x="250.8" y="389.0" font-size="10.2" fill="#231f20" stroke="#231f20" stroke-width="0.3" text-anchor="middle" textLength="15.9" lengthAdjust="spacingAndGlyphs" >940</text>
<text x="278.6" y="389.0" font-size="10.2" fill="#231f20" stroke="#231f20" stroke-width="0.3" text-anchor="middle" textLength="15.9" lengthAdjust="spacingAndGlyphs" >936</text>
<text x="308.6" y="389.0" font-size="10.2" fill="#231f20" stroke="#231f20" stroke-width="0.3" text-anchor="middle" textLength="15.9" lengthAdjust="spacingAndGlyphs" >932</text>
<text x="338.3" y="389.0" font-size="10.2" fill="#231f20" stroke="#231f20" stroke-width="0.3" text-anchor="middle" textLength="15.9" lengthAdjust="spacingAndGlyphs" >928</text>
<text x="373.5" y="389.0" font-size="10.2" fill="#231f20" stroke="#231f20" stroke-width="0.3" text-anchor="middle" textLength="15.9" lengthAdjust="spacingAndGlyphs" >375</text>
<text x="407.9" y="389.0" font-size="10.2" fill="#231f20" stroke="#231f20" stroke-width="0.3" text-anchor="middle" textLength="15.9" lengthAdjust="spacingAndGlyphs" >370</text>
<text x="441.9" y="389.0" font-size="10.2" fill="#231f20" stroke="#231f20" stroke-width="0.3" text-anchor="middle" textLength="15.9" lengthAdjust="spacingAndGlyphs" >365</text>
<text x="201.0" y="405.0" font-size="10.0" fill="#231f20" stroke="#231f20" stroke-width="0.3" text-anchor="start" textLength="80.4" lengthAdjust="spacingAndGlyphs" >Binding Energy (eV)</text>
<text transform="translate(19.0,308.3) rotate(-90)" font-size="10.4" fill="#231f20" stroke="#231f20" stroke-width="0.3" text-anchor="start" textLength="41.5" lengthAdjust="spacingAndGlyphs" >Counts / s</text>
<text x="36.0" y="209.2" font-size="10.6" fill="#3e2f88" stroke="#3e2f88" stroke-width="0.3" text-anchor="start" textLength="19.5" lengthAdjust="spacingAndGlyphs" >Sn 3</text>
<text x="56.3" y="209.2" font-size="10.6" fill="#3e2f88" font-style="italic" textLength="5.6" lengthAdjust="spacingAndGlyphs">d</text>
<text x="146.1" y="207.4" font-size="10.6" fill="#3e2f88" stroke="#3e2f88" stroke-width="0.3" text-anchor="start" textLength="16.0" lengthAdjust="spacingAndGlyphs" >Se 3</text>
<text x="162.9" y="207.4" font-size="10.6" fill="#3e2f88" font-style="italic" textLength="5.6" lengthAdjust="spacingAndGlyphs">d</text>
<text x="248.4" y="206.8" font-size="10.6" fill="#3e2f88" stroke="#3e2f88" stroke-width="0.3" text-anchor="start" textLength="20.5" lengthAdjust="spacingAndGlyphs" >Cu 2</text>
<text x="269.7" y="206.8" font-size="10.6" fill="#3e2f88" font-style="italic" textLength="5.8" lengthAdjust="spacingAndGlyphs">p</text>
<text x="358.6" y="206.8" font-size="10.6" fill="#3e2f88" stroke="#3e2f88" stroke-width="0.3" text-anchor="start" textLength="20.5" lengthAdjust="spacingAndGlyphs" >Ag 3</text>
<text x="379.90000000000003" y="206.8" font-size="10.6" fill="#3e2f88" font-style="italic" textLength="5.8" lengthAdjust="spacingAndGlyphs">d</text>
<text x="59.6" y="222.8" font-size="9.4" fill="#5a5a5a" stroke="#5a5a5a" stroke-width="0.3" text-anchor="start" textLength="8.6" lengthAdjust="spacingAndGlyphs" >Sn</text>
<text x="67.7" y="218.7" font-size="8.2" fill="#5a5a5a" stroke="#5a5a5a" stroke-width="0.3" text-anchor="start" textLength="8.3" lengthAdjust="spacingAndGlyphs" >+2</text>
<text x="187.5" y="227.2" font-size="9.4" fill="#5a5a5a" stroke="#5a5a5a" stroke-width="0.3" text-anchor="start" textLength="8.0" lengthAdjust="spacingAndGlyphs" >Se</text>
<text x="195.8" y="222.6" font-size="8.0" fill="#5a5a5a" stroke="#5a5a5a" stroke-width="0.3" text-anchor="start" textLength="6.2" lengthAdjust="spacingAndGlyphs" >-2</text>
<text x="284.0" y="228.7" font-size="9.6" fill="#5a5a5a" stroke="#5a5a5a" stroke-width="0.3" text-anchor="start" textLength="33.2" lengthAdjust="spacingAndGlyphs" >Cu metal</text>
<text x="378.0" y="221.6" font-size="9.4" fill="#5a5a5a" stroke="#5a5a5a" stroke-width="0.3" text-anchor="start" textLength="36.2" lengthAdjust="spacingAndGlyphs" >Ag metal</text>
<line x1="56.7" y1="225.0" x2="50.6" y2="229.2" stroke="#444444" stroke-width="0.7"/>
<path d="M52.18,226.42 L50.6,229.2 L53.76,228.71" fill="none" stroke="#444444" stroke-width="0.7"/>
<line x1="75.0" y1="223.4" x2="95.8" y2="229.4" stroke="#444444" stroke-width="0.7"/>
<path d="M92.65,229.94 L95.8,229.4 L93.42,227.26" fill="none" stroke="#444444" stroke-width="0.7"/>
<line x1="383.6" y1="223.4" x2="380.6" y2="228.2" stroke="#444444" stroke-width="0.7"/>
<path d="M380.95,225.02 L380.6,228.2 L383.31,226.49" fill="none" stroke="#444444" stroke-width="0.7"/>
<line x1="411.8" y1="223.4" x2="416.0" y2="227.8" stroke="#444444" stroke-width="0.7"/>
<path d="M413.00,226.68 L416.0,227.8 L415.02,224.75" fill="none" stroke="#444444" stroke-width="0.7"/>
<polyline points="32.90,240.77 33.40,241.16 33.90,240.91 34.40,241.85 34.90,241.86 35.40,241.29 35.90,240.87 36.40,241.83 36.90,240.93 37.40,240.98 37.90,240.47 38.40,240.95 38.90,241.04 39.40,241.02 39.90,240.54 40.40,240.86 40.90,240.08 41.40,240.30 41.90,239.91 42.40,240.14 42.90,239.44 43.40,239.17 43.90,239.27 44.40,238.86 44.90,238.99 45.40,238.55 45.90,238.46 46.40,237.93 46.90,237.61 47.40,237.44 47.90,236.42 48.40,236.02 48.90,236.67 49.40,235.38 49.90,236.10 50.40,236.04 50.90,235.36 51.40,236.65 51.90,237.01 52.40,236.98 52.90,237.48 53.40,237.95 53.90,237.41 54.40,238.29 54.90,238.62 55.40,239.41 55.90,239.69 56.40,240.03 56.90,239.98 57.40,240.66 57.90,240.61 58.40,240.84 58.90,240.41 59.40,240.32 59.90,240.61 60.40,241.05 60.90,240.82 61.40,241.90 61.90,241.61 62.40,241.77 62.90,241.83 63.40,241.95 63.90,241.74 64.40,241.12 64.90,242.22 65.40,242.18 65.90,241.87 66.40,241.94 66.90,242.12 67.40,241.34 67.90,242.26 68.40,241.63 68.90,241.40 69.40,241.67 69.90,242.31 70.40,241.62 70.90,242.35 71.40,242.68 71.90,242.04 72.40,241.91 72.90,242.05 73.40,242.33 73.90,242.46 74.40,242.26 74.90,242.31 75.40,241.55 75.90,241.66 76.40,241.81 76.90,242.48 77.40,241.89 77.90,242.25 78.40,241.51 78.90,241.58 79.40,241.87 79.90,242.42 80.40,242.45 80.90,242.43 81.40,241.91 81.90,242.22 82.40,242.15 82.90,242.15 83.40,241.68 83.90,242.72 84.40,241.78 84.90,242.82 85.40,242.76 85.90,241.51 86.40,242.09 86.90,242.55 87.40,242.73 87.90,241.99 88.40,241.70 88.90,241.56 89.40,242.48 89.90,241.40 90.40,241.79 90.90,241.05 91.40,241.39 91.90,241.76 92.40,240.39 92.90,241.02 93.40,240.25 93.90,240.35 94.40,239.65 94.90,238.50 95.40,238.84 95.90,237.68 96.40,236.43 96.90,235.74 97.40,235.73 97.90,235.03 98.40,234.23 98.90,233.48 99.40,233.33 99.90,233.00 100.40,233.58 100.90,232.49 101.40,233.70 101.90,234.15 102.40,233.63 102.90,235.23 103.40,235.51 103.90,236.36 104.40,236.12 104.90,236.82 105.40,237.42 105.90,238.78 106.40,238.74 106.90,238.92 107.40,239.46 107.90,239.68 108.40,239.76 108.90,240.18 109.40,241.49 109.90,241.03 110.40,242.16 110.90,241.46 111.40,241.67 111.90,242.17 112.40,241.88 112.90,242.25 113.40,243.14 113.90,243.13 114.40,243.11 114.90,242.92 115.40,243.36 115.90,243.44 116.40,242.95 116.90,243.21 117.40,242.34 117.90,243.29 118.40,242.93 118.90,243.36 119.40,243.24 119.90,242.78 120.40,242.48 120.90,243.68 121.40,242.62 121.90,243.11 122.40,242.95 122.90,242.91 123.40,243.52 123.90,243.85 124.40,242.90 124.90,243.45 125.40,242.99 125.90,243.35 126.40,243.15 126.90,242.86 127.40,242.86 127.90,242.94 128.40,243.90 128.90,243.36 129.40,243.00 129.90,243.94 130.40,244.07 130.90,243.35 131.40,242.94 131.90,243.03 132.40,242.90 132.90,243.26 133.40,242.93 133.90,243.14 134.40,243.18 134.90,243.62" fill="none" stroke="#564f4f" stroke-width="3.4" stroke-linejoin="round" stroke-linecap="round" />
<path d="M32.4,239.9L36.4,243.8M32.4,243.8L36.4,239.9M33.9,238.9L37.9,242.8M33.9,242.8L37.9,238.9M35.4,239.0L39.4,242.9M35.4,242.9L39.4,239.0M36.9,239.1L40.9,243.0M36.9,243.0L40.9,239.1M38.4,238.9L42.4,242.8M38.4,242.8L42.4,238.9M39.9,237.9L43.9,241.9M39.9,241.9L43.9,237.9M41.4,237.2L45.4,241.1M41.4,241.1L45.4,237.2M42.9,237.0L46.9,241.0M42.9,241.0L46.9,237.0M44.4,236.0L48.4,239.9M44.4,239.9L48.4,236.0M45.9,234.5L49.9,238.4M45.9,238.4L49.9,234.5M47.4,233.4L51.4,237.3M47.4,237.3L51.4,233.4M48.9,233.4L52.9,237.3M48.9,237.3L52.9,233.4M50.4,235.0L54.4,238.9M50.4,238.9L54.4,235.0M51.9,235.4L55.9,239.4M51.9,239.4L55.9,235.4M53.4,237.4L57.4,241.4M53.4,241.4L57.4,237.4M54.9,238.0L58.9,241.9M54.9,241.9L58.9,238.0M56.4,238.9L60.4,242.8M56.4,242.8L60.4,238.9M57.9,238.6L61.9,242.6M57.9,242.6L61.9,238.6M59.4,239.9L63.4,243.9M59.4,243.9L63.4,239.9M60.9,239.9L64.9,243.8M60.9,243.8L64.9,239.9M62.4,239.2L66.4,243.1M62.4,243.1L66.4,239.2M63.9,239.9L67.9,243.8M63.9,243.8L67.9,239.9M65.4,239.4L69.4,243.3M65.4,243.3L69.4,239.4M66.9,239.4L70.9,243.4M66.9,243.4L70.9,239.4M68.4,239.7L72.4,243.6M68.4,243.6L72.4,239.7M69.9,240.1L73.9,244.0M69.9,244.0L73.9,240.1M71.4,240.4L75.4,244.3M71.4,244.3L75.4,240.4M72.9,240.3L76.9,244.3M72.9,244.3L76.9,240.3M74.4,239.8L78.4,243.8M74.4,243.8L78.4,239.8M75.9,240.3L79.9,244.2M75.9,244.2L79.9,240.3M77.4,239.9L81.4,243.8M77.4,243.8L81.4,239.9M78.9,240.5L82.9,244.4M78.9,244.4L82.9,240.5M80.4,240.2L84.4,244.1M80.4,244.1L84.4,240.2M81.9,240.8L85.9,244.7M81.9,244.7L85.9,240.8M83.4,240.8L87.4,244.7M83.4,244.7L87.4,240.8M84.9,240.6L88.9,244.5M84.9,244.5L88.9,240.6M86.4,239.7L90.4,243.7M86.4,243.7L90.4,239.7M87.9,239.4L91.9,243.4M87.9,243.4L91.9,239.4M89.4,239.4L93.4,243.3M89.4,243.3L93.4,239.4M90.9,239.1L94.9,243.0M90.9,243.0L94.9,239.1M92.4,237.7L96.4,241.6M92.4,241.6L96.4,237.7M93.9,235.7L97.9,239.6M93.9,239.6L97.9,235.7M95.4,233.8L99.4,237.7M95.4,237.7L99.4,233.8M96.9,231.5L100.9,235.4M96.9,235.4L100.9,231.5M98.4,231.6L102.4,235.5M98.4,235.5L102.4,231.6M99.9,232.2L103.9,236.1M99.9,236.1L103.9,232.2M101.4,233.6L105.4,237.5M101.4,237.5L105.4,233.6M102.9,234.9L106.9,238.8M102.9,238.8L106.9,234.9M104.4,236.8L108.4,240.7M104.4,240.7L108.4,236.8M105.9,237.7L109.9,241.6M105.9,241.6L109.9,237.7M107.4,239.5L111.4,243.4M107.4,243.4L111.4,239.5M108.9,239.5L112.9,243.4M108.9,243.4L112.9,239.5M110.4,239.9L114.4,243.8M110.4,243.8L114.4,239.9M111.9,241.2L115.9,245.1M111.9,245.1L115.9,241.2M113.4,241.4L117.4,245.3M113.4,245.3L117.4,241.4M114.9,241.3L118.9,245.2M114.9,245.2L118.9,241.3M116.4,241.0L120.4,244.9M116.4,244.9L120.4,241.0M117.9,240.8L121.9,244.7M117.9,244.7L121.9,240.8M119.4,240.7L123.4,244.6M119.4,244.6L123.4,240.7M120.9,240.9L124.9,244.9M120.9,244.9L124.9,240.9M122.4,240.9L126.4,244.9M122.4,244.9L126.4,240.9M123.9,241.4L127.9,245.3M123.9,245.3L127.9,241.4M125.4,240.9L129.4,244.8M125.4,244.8L129.4,240.9M126.9,241.4L130.9,245.3M126.9,245.3L130.9,241.4M128.4,242.1L132.4,246.0M128.4,246.0L132.4,242.1M129.9,241.1L133.9,245.0M129.9,245.0L133.9,241.1M131.4,241.0L135.4,244.9M131.4,244.9L135.4,241.0M132.9,241.7L136.9,245.6M132.9,245.6L136.9,241.7" fill="none" stroke="#564f4f" stroke-width="0.8"/>
<polyline points="32.90,256.60 33.40,256.49 33.90,256.19 34.40,256.19 34.90,256.29 35.40,256.16 35.90,256.13 36.40,255.88 36.90,256.07 37.40,256.69 37.90,255.92 38.40,256.25 38.90,256.34 39.40,256.53 39.90,255.91 40.40,255.90 40.90,255.81 41.40,255.86 41.90,255.78 42.40,256.08 42.90,255.79 43.40,255.56 43.90,254.50 44.40,254.15 44.90,254.35 45.40,254.05 45.90,253.14 46.40,252.68 46.90,251.56 47.40,251.32 47.90,251.23 48.40,250.62 48.90,250.24 49.40,250.08 49.90,249.34 50.40,249.31 50.90,249.61 51.40,250.33 51.90,250.96 52.40,251.72 52.90,252.07 53.40,252.54 53.90,253.17 54.40,253.37 54.90,253.91 55.40,253.85 55.90,254.88 56.40,254.70 56.90,255.61 57.40,255.61 57.90,255.53 58.40,255.57 58.90,255.85 59.40,256.35 59.90,256.54 60.40,256.14 60.90,256.20 61.40,256.70 61.90,256.83 62.40,256.72 62.90,256.63 63.40,257.02 63.90,256.53 64.40,256.83 64.90,257.01 65.40,257.49 65.90,257.23 66.40,257.47 66.90,257.12 67.40,256.93 67.90,256.96 68.40,257.62 68.90,257.40 69.40,257.06 69.90,256.82 70.40,257.27 70.90,257.44 71.40,257.23 71.90,257.10 72.40,257.48 72.90,257.73 73.40,257.11 73.90,256.95 74.40,257.24 74.90,257.33 75.40,257.57 75.90,257.15 76.40,257.70 76.90,257.66 77.40,257.46 77.90,257.20 78.40,257.90 78.90,257.32 79.40,257.78 79.90,257.26 80.40,257.26 80.90,257.76 81.40,257.34 81.90,257.94 82.40,257.54 82.90,257.26 83.40,257.30 83.90,257.48 84.40,257.70 84.90,257.96 85.40,257.24 85.90,257.46 86.40,257.29 86.90,257.97 87.40,257.21 87.90,257.12 88.40,257.11 88.90,257.38 89.40,257.80 89.90,257.75 90.40,257.55 90.90,257.71 91.40,257.55 91.90,256.87 92.40,256.56 92.90,257.01 93.40,256.55 93.90,255.55 94.40,255.68 94.90,254.90 95.40,254.29 95.90,253.56 96.40,252.64 96.90,251.65 97.40,251.02 97.90,250.19 98.40,249.86 98.90,248.32 99.40,248.42 99.90,247.30 100.40,247.25 100.90,247.76 101.40,248.10 101.90,248.31 102.40,248.66 102.90,249.82 103.40,250.54 103.90,251.83 104.40,251.95 104.90,252.82 105.40,253.96 105.90,253.78 106.40,254.65 106.90,255.48 107.40,255.86 107.90,255.57 108.40,255.89 108.90,256.20 109.40,257.23 109.90,256.87 110.40,257.51 110.90,257.83 111.40,257.49 111.90,257.57 112.40,258.31 112.90,258.11 113.40,257.89 113.90,258.37 114.40,258.08 114.90,258.10 115.40,257.91 115.90,258.63 116.40,258.81 116.90,258.59 117.40,258.90 117.90,258.10 118.40,258.31 118.90,258.55 119.40,259.01 119.90,259.03 120.40,258.54 120.90,258.44 121.40,258.62 121.90,258.70 122.40,259.11 122.90,258.45 123.40,259.03 123.90,258.99 124.40,259.08 124.90,259.06 125.40,258.93 125.90,258.69 126.40,258.70 126.90,258.76 127.40,259.15 127.90,258.54 128.40,258.66 128.90,259.17 129.40,258.74 129.90,258.59 130.40,258.58 130.90,259.06 131.40,258.87 131.90,259.47 132.40,259.40 132.90,259.51 133.40,258.88 133.90,258.73 134.40,258.76 134.90,259.13" fill="none" stroke="#68b234" stroke-width="3.5" stroke-linejoin="round" stroke-linecap="round" />
<polyline points="32.90,271.64 33.40,271.41 33.90,271.22 34.40,271.39 34.90,271.58 35.40,271.63 35.90,271.69 36.40,271.78 36.90,271.62 37.40,271.12 37.90,271.76 38.40,271.25 38.90,271.48 39.40,271.28 39.90,271.57 40.40,271.03 40.90,271.00 41.40,270.90 41.90,270.69 42.40,271.18 42.90,270.70 43.40,270.21 43.90,269.96 44.40,270.12 44.90,269.25 45.40,268.51 45.90,268.48 46.40,267.75 46.90,267.43 47.40,266.00 47.90,265.73 48.40,265.50 48.90,265.09 49.40,264.88 49.90,264.00 50.40,264.33 50.90,264.45 51.40,264.92 51.90,266.13 52.40,266.34 52.90,267.23 53.40,267.29 53.90,268.29 54.40,268.42 54.90,268.72 55.40,269.61 55.90,270.14 56.40,269.72 56.90,270.47 57.40,270.75 57.90,270.63 58.40,270.97 58.90,270.95 59.40,271.17 59.90,271.36 60.40,271.79 60.90,271.95 61.40,271.64 61.90,271.55 62.40,271.90 62.90,272.28 63.40,271.89 63.90,272.05 64.40,271.99 64.90,272.56 65.40,272.37 65.90,271.96 66.40,272.02 66.90,272.30 67.40,272.47 67.90,272.57 68.40,272.09 68.90,272.18 69.40,272.67 69.90,272.43 70.40,272.34 70.90,272.38 71.40,272.97 71.90,272.41 72.40,272.66 72.90,272.48 73.40,272.55 73.90,272.97 74.40,273.10 74.90,272.55 75.40,272.41 75.90,272.90 76.40,272.44 76.90,272.27 77.40,273.09 77.90,272.67 78.40,273.04 78.90,272.68 79.40,273.12 79.90,272.75 80.40,272.49 80.90,272.36 81.40,272.85 81.90,272.94 82.40,273.19 82.90,272.45 83.40,272.94 83.90,272.72 84.40,272.84 84.90,272.52 85.40,272.64 85.90,272.85 86.40,273.21 86.90,272.47 87.40,272.80 87.90,273.07 88.40,273.19 88.90,272.47 89.40,272.37 89.90,273.06 90.40,273.02 90.90,272.49 91.40,271.99 91.90,272.63 92.40,271.95 92.90,272.16 93.40,271.59 93.90,271.38 94.40,270.30 94.90,270.29 95.40,269.12 95.90,268.52 96.40,268.07 96.90,267.14 97.40,265.59 97.90,264.63 98.40,263.84 98.90,263.08 99.40,262.25 99.90,261.53 100.40,261.43 100.90,261.96 101.40,262.50 101.90,262.33 102.40,263.57 102.90,264.59 103.40,264.84 103.90,266.44 104.40,266.63 104.90,267.85 105.40,268.53 105.90,269.25 106.40,269.55 106.90,270.16 107.40,270.76 107.90,271.03 108.40,271.59 108.90,271.72 109.40,271.99 109.90,271.87 110.40,272.63 110.90,272.71 111.40,272.66 111.90,273.29 112.40,273.44 112.90,273.27 113.40,273.12 113.90,273.47 114.40,273.22 114.90,273.30 115.40,273.62 115.90,273.36 116.40,273.72 116.90,273.82 117.40,273.43 117.90,273.99 118.40,273.52 118.90,274.14 119.40,274.20 119.90,273.98 120.40,273.60 120.90,274.02 121.40,273.93 121.90,274.47 122.40,273.76 122.90,274.43 123.40,274.57 123.90,274.35 124.40,274.45 124.90,273.91 125.40,274.63 125.90,274.21 126.40,274.65 126.90,274.63 127.40,273.97 127.90,274.55 128.40,274.70 128.90,273.94 129.40,274.21 129.90,274.59 130.40,274.07 130.90,274.75 131.40,274.21 131.90,274.71 132.40,274.13 132.90,274.46 133.40,274.86 133.90,274.23 134.40,274.30 134.90,274.53" fill="none" stroke="#7597cc" stroke-width="3.8" stroke-linejoin="round" stroke-linecap="round" />
<polyline points="32.90,271.64 33.40,271.41 33.90,271.22 34.40,271.39 34.90,271.58 35.40,271.63 35.90,271.69 36.40,271.78 36.90,271.62 37.40,271.12 37.90,271.76 38.40,271.25 38.90,271.48 39.40,271.28 39.90,271.57 40.40,271.03 40.90,271.00 41.40,270.90 41.90,270.69 42.40,271.18 42.90,270.70 43.40,270.21 43.90,269.96 44.40,270.12 44.90,269.25 45.40,268.51 45.90,268.48 46.40,267.75 46.90,267.43 47.40,266.00 47.90,265.73 48.40,265.50 48.90,265.09 49.40,264.88 49.90,264.00 50.40,264.33 50.90,264.45 51.40,264.92 51.90,266.13 52.40,266.34 52.90,267.23 53.40,267.29 53.90,268.29 54.40,268.42 54.90,268.72 55.40,269.61 55.90,270.14 56.40,269.72 56.90,270.47 57.40,270.75 57.90,270.63 58.40,270.97 58.90,270.95 59.40,271.17 59.90,271.36 60.40,271.79 60.90,271.95 61.40,271.64 61.90,271.55 62.40,271.90 62.90,272.28 63.40,271.89 63.90,272.05 64.40,271.99 64.90,272.56 65.40,272.37 65.90,271.96 66.40,272.02 66.90,272.30 67.40,272.47 67.90,272.57 68.40,272.09 68.90,272.18 69.40,272.67 69.90,272.43 70.40,272.34 70.90,272.38 71.40,272.97 71.90,272.41 72.40,272.66 72.90,272.48 73.40,272.55 73.90,272.97 74.40,273.10 74.90,272.55 75.40,272.41 75.90,272.90 76.40,272.44 76.90,272.27 77.40,273.09 77.90,272.67 78.40,273.04 78.90,272.68 79.40,273.12 79.90,272.75 80.40,272.49 80.90,272.36 81.40,272.85 81.90,272.94 82.40,273.19 82.90,272.45 83.40,272.94 83.90,272.72 84.40,272.84 84.90,272.52 85.40,272.64 85.90,272.85 86.40,273.21 86.90,272.47 87.40,272.80 87.90,273.07 88.40,273.19 88.90,272.47 89.40,272.37 89.90,273.06 90.40,273.02 90.90,272.49 91.40,271.99 91.90,272.63 92.40,271.95 92.90,272.16 93.40,271.59 93.90,271.38 94.40,270.30 94.90,270.29 95.40,269.12 95.90,268.52 96.40,268.07 96.90,267.14 97.40,265.59 97.90,264.63 98.40,263.84 98.90,263.08 99.40,262.25 99.90,261.53 100.40,261.43 100.90,261.96 101.40,262.50 101.90,262.33 102.40,263.57 102.90,264.59 103.40,264.84 103.90,266.44 104.40,266.63 104.90,267.85 105.40,268.53 105.90,269.25 106.40,269.55 106.90,270.16 107.40,270.76 107.90,271.03 108.40,271.59 108.90,271.72 109.40,271.99 109.90,271.87 110.40,272.63 110.90,272.71 111.40,272.66 111.90,273.29 112.40,273.44 112.90,273.27 113.40,273.12 113.90,273.47 114.40,273.22 114.90,273.30 115.40,273.62 115.90,273.36 116.40,273.72 116.90,273.82 117.40,273.43 117.90,273.99 118.40,273.52 118.90,274.14 119.40,274.20 119.90,273.98 120.40,273.60 120.90,274.02 121.40,273.93 121.90,274.47 122.40,273.76 122.90,274.43 123.40,274.57 123.90,274.35 124.40,274.45 124.90,273.91 125.40,274.63 125.90,274.21 126.40,274.65 126.90,274.63 127.40,273.97 127.90,274.55 128.40,274.70 128.90,273.94 129.40,274.21 129.90,274.59 130.40,274.07 130.90,274.75 131.40,274.21 131.90,274.71 132.40,274.13 132.90,274.46 133.40,274.86 133.90,274.23 134.40,274.30 134.90,274.53" fill="none" stroke="#9cb4df" stroke-width="0.9" stroke-linejoin="round" stroke-linecap="round" />
<polyline points="32.90,287.69 33.40,287.18 33.90,287.45 34.40,287.41 34.90,288.81 35.40,288.35 35.90,288.73 36.40,287.42 36.90,288.52 37.40,287.31 37.90,288.04 38.40,288.21 38.90,287.68 39.40,288.56 39.90,287.93 40.40,287.89 40.90,288.34 41.40,286.80 41.90,288.24 42.40,287.37 42.90,286.69 43.40,287.11 43.90,285.78 44.40,286.66 44.90,285.43 45.40,284.49 45.90,284.63 46.40,283.42 46.90,282.29 47.40,282.66 47.90,280.80 48.40,281.64 48.90,280.19 49.40,280.61 49.90,281.13 50.40,280.50 50.90,280.91 51.40,280.68 51.90,280.63 52.40,281.25 52.90,282.05 53.40,283.49 53.90,283.74 54.40,284.43 54.90,285.64 55.40,284.74 55.90,285.35 56.40,286.51 56.90,285.73 57.40,286.02 57.90,286.93 58.40,286.74 58.90,287.41 59.40,287.37 59.90,288.19 60.40,288.35 60.90,287.78 61.40,288.65 61.90,288.48 62.40,287.95 62.90,289.46 63.40,288.27 63.90,288.16 64.40,288.10 64.90,289.12 65.40,289.57 65.90,289.44 66.40,288.78 66.90,288.56 67.40,288.13 67.90,289.29 68.40,289.17 68.90,288.80 69.40,289.35 69.90,289.01 70.40,289.92 70.90,289.57 71.40,288.71 71.90,289.91 72.40,288.38 72.90,289.27 73.40,289.06 73.90,288.77 74.40,288.46 74.90,289.77 75.40,288.40 75.90,289.39 76.40,290.10 76.90,288.68 77.40,288.79 77.90,289.54 78.40,289.36 78.90,289.62 79.40,289.94 79.90,288.79 80.40,289.04 80.90,289.04 81.40,288.59 81.90,290.11 82.40,289.92 82.90,289.80 83.40,288.53 83.90,290.04 84.40,289.86 84.90,289.35 85.40,289.84 85.90,289.32 86.40,288.90 86.90,288.67 87.40,288.88 87.90,288.51 88.40,289.01 88.90,289.71 89.40,289.56 89.90,289.76 90.40,289.42 90.90,288.49 91.40,288.85 91.90,288.43 92.40,288.81 92.90,288.00 93.40,287.14 93.90,287.33 94.40,287.34 94.90,285.33 95.40,285.76 95.90,283.35 96.40,282.85 96.90,281.81 97.40,281.69 97.90,281.02 98.40,279.66 98.90,278.02 99.40,278.29 99.90,276.80 100.40,276.43 100.90,277.72 101.40,277.59 101.90,278.31 102.40,279.03 102.90,280.48 103.40,280.49 103.90,282.09 104.40,282.74 104.90,283.90 105.40,283.95 105.90,285.21 106.40,285.61 106.90,285.75 107.40,286.12 107.90,287.36 108.40,286.82 108.90,288.71 109.40,287.68 109.90,287.78 110.40,288.20 110.90,289.92 111.40,289.09 111.90,288.91 112.40,288.87 112.90,289.03 113.40,290.32 113.90,290.31 114.40,290.51 114.90,290.65 115.40,289.51 115.90,290.51 116.40,290.14 116.90,291.00 117.40,291.04 117.90,291.21 118.40,289.75 118.90,291.22 119.40,291.34 119.90,291.42 120.40,289.93 120.90,290.14 121.40,289.99 121.90,289.88 122.40,291.36 122.90,291.32 123.40,291.02 123.90,291.39 124.40,291.06 124.90,290.46 125.40,290.14 125.90,290.16 126.40,291.37 126.90,290.39 127.40,290.62 127.90,290.82 128.40,290.12 128.90,290.56 129.40,290.63 129.90,291.42 130.40,290.82 130.90,290.75 131.40,291.93 131.90,291.12 132.40,291.76 132.90,291.36 133.40,290.32 133.90,291.02 134.40,291.08 134.90,291.70" fill="none" stroke="#878a2e" stroke-width="3.5" stroke-linejoin="round" stroke-linecap="round" />
<path d="M33.9,284.7V290.1M31.6,286.1L36.2,288.8M31.6,288.8L36.2,286.1M34.9,286.1V291.5M32.6,287.5L37.2,290.2M32.6,290.2L37.2,287.5M35.9,286.0V291.4M33.6,287.4L38.2,290.1M33.6,290.1L38.2,287.4M36.9,285.8V291.2M34.6,287.2L39.2,289.9M34.6,289.9L39.2,287.2M37.9,285.3V290.7M35.6,286.7L40.2,289.4M35.6,289.4L40.2,286.7M38.9,285.0V290.4M36.6,286.3L41.2,289.0M36.6,289.0L41.2,286.3M39.9,285.2V290.6M37.6,286.6L42.2,289.3M37.6,289.3L42.2,286.6M40.9,285.6V291.0M38.6,287.0L43.2,289.7M38.6,289.7L43.2,287.0M41.9,285.5V290.9M39.6,286.9L44.2,289.6M39.6,289.6L44.2,286.9M42.9,284.0V289.4M40.6,285.3L45.2,288.0M40.6,288.0L45.2,285.3M43.9,283.1V288.5M41.6,284.4L46.2,287.1M41.6,287.1L46.2,284.4M44.9,282.7V288.1M42.6,284.1L47.2,286.8M42.6,286.8L47.2,284.1M45.9,281.9V287.3M43.6,283.3L48.2,286.0M43.6,286.0L48.2,283.3M46.9,279.6V285.0M44.6,280.9L49.2,283.6M44.6,283.6L49.2,280.9M47.9,278.1V283.5M45.6,279.4L50.2,282.1M45.6,282.1L50.2,279.4M48.9,277.5V282.9M46.6,278.8L51.2,281.5M46.6,281.5L51.2,278.8M49.9,278.4V283.8M47.6,279.8L52.2,282.5M47.6,282.5L52.2,279.8M50.9,278.2V283.6M48.6,279.6L53.2,282.3M48.6,282.3L53.2,279.6M51.9,277.9V283.3M49.6,279.3L54.2,282.0M49.6,282.0L54.2,279.3M52.9,279.4V284.8M50.6,280.7L55.2,283.4M50.6,283.4L55.2,280.7M53.9,281.0V286.4M51.6,282.4L56.2,285.1M51.6,285.1L56.2,282.4M54.9,282.9V288.3M52.6,284.3L57.2,287.0M52.6,287.0L57.2,284.3M55.9,282.7V288.1M53.6,284.0L58.2,286.7M53.6,286.7L58.2,284.0M56.9,283.0V288.4M54.6,284.4L59.2,287.1M54.6,287.1L59.2,284.4M57.9,284.2V289.6M55.6,285.6L60.2,288.3M55.6,288.3L60.2,285.6M58.9,284.7V290.1M56.6,286.1L61.2,288.8M56.6,288.8L61.2,286.1M59.9,285.5V290.9M57.6,286.8L62.2,289.5M57.6,289.5L62.2,286.8M60.9,285.1V290.5M58.6,286.4L63.2,289.1M58.6,289.1L63.2,286.4M61.9,285.8V291.2M59.6,287.1L64.2,289.8M59.6,289.8L64.2,287.1M62.9,286.8V292.2M60.6,288.1L65.2,290.8M60.6,290.8L65.2,288.1M63.9,285.5V290.9M61.6,286.8L66.2,289.5M61.6,289.5L66.2,286.8M64.9,286.4V291.8M62.6,287.8L67.2,290.5M62.6,290.5L67.2,287.8M65.9,286.7V292.1M63.6,288.1L68.2,290.8M63.6,290.8L68.2,288.1M66.9,285.9V291.3M64.6,287.2L69.2,289.9M64.6,289.9L69.2,287.2M67.9,286.6V292.0M65.6,287.9L70.2,290.6M65.6,290.6L70.2,287.9M68.9,286.1V291.5M66.6,287.5L71.2,290.2M66.6,290.2L71.2,287.5M69.9,286.3V291.7M67.6,287.7L72.2,290.4M67.6,290.4L72.2,287.7M70.9,286.9V292.3M68.6,288.2L73.2,290.9M68.6,290.9L73.2,288.2M71.9,287.2V292.6M69.6,288.6L74.2,291.3M69.6,291.3L74.2,288.6M72.9,286.6V292.0M70.6,287.9L75.2,290.6M70.6,290.6L75.2,287.9M73.9,286.1V291.5M71.6,287.4L76.2,290.1M71.6,290.1L76.2,287.4M74.9,287.1V292.5M72.6,288.4L77.2,291.1M72.6,291.1L77.2,288.4M75.9,286.7V292.1M73.6,288.0L78.2,290.7M73.6,290.7L78.2,288.0M76.9,286.0V291.4M74.6,287.3L79.2,290.0M74.6,290.0L79.2,287.3M77.9,286.8V292.2M75.6,288.2L80.2,290.9M75.6,290.9L80.2,288.2M78.9,286.9V292.3M76.6,288.3L81.2,291.0M76.6,291.0L81.2,288.3M79.9,286.1V291.5M77.6,287.4L82.2,290.1M77.6,290.1L82.2,287.4M80.9,286.3V291.7M78.6,287.7L83.2,290.4M78.6,290.4L83.2,287.7M81.9,287.4V292.8M79.6,288.8L84.2,291.5M79.6,291.5L84.2,288.8M82.9,287.1V292.5M80.6,288.5L85.2,291.2M80.6,291.2L85.2,288.5M83.9,287.3V292.7M81.6,288.7L86.2,291.4M81.6,291.4L86.2,288.7M84.9,286.7V292.1M82.6,288.0L87.2,290.7M82.6,290.7L87.2,288.0M85.9,286.6V292.0M83.6,288.0L88.2,290.7M83.6,290.7L88.2,288.0M86.9,286.0V291.4M84.6,287.3L89.2,290.0M84.6,290.0L89.2,287.3M87.9,285.8V291.2M85.6,287.2L90.2,289.9M85.6,289.9L90.2,287.2M88.9,287.0V292.4M86.6,288.4L91.2,291.1M86.6,291.1L91.2,288.4M89.9,287.1V292.5M87.6,288.4L92.2,291.1M87.6,291.1L92.2,288.4M90.9,285.8V291.2M88.6,287.1L93.2,289.8M88.6,289.8L93.2,287.1M91.9,285.7V291.1M89.6,287.1L94.2,289.8M89.6,289.8L94.2,287.1M92.9,285.3V290.7M90.6,286.7L95.2,289.4M90.6,289.4L95.2,286.7M93.9,284.6V290.0M91.6,286.0L96.2,288.7M91.6,288.7L96.2,286.0M94.9,282.6V288.0M92.6,284.0L97.2,286.7M92.6,286.7L97.2,284.0M95.9,280.6V286.0M93.6,282.0L98.2,284.7M93.6,284.7L98.2,282.0M96.9,279.1V284.5M94.6,280.5L99.2,283.2M94.6,283.2L99.2,280.5M97.9,278.3V283.7M95.6,279.7L100.2,282.4M95.6,282.4L100.2,279.7M98.9,275.3V280.7M96.6,276.7L101.2,279.4M96.6,279.4L101.2,276.7M99.9,274.1V279.5M97.6,275.4L102.2,278.1M97.6,278.1L102.2,275.4M100.9,275.0V280.4M98.6,276.4L103.2,279.1M98.6,279.1L103.2,276.4M101.9,275.6V281.0M99.6,277.0L104.2,279.7M99.6,279.7L104.2,277.0M102.9,277.8V283.2M100.6,279.1L105.2,281.8M100.6,281.8L105.2,279.1M103.9,279.4V284.8M101.6,280.7L106.2,283.4M101.6,283.4L106.2,280.7M104.9,281.2V286.6M102.6,282.5L107.2,285.2M102.6,285.2L107.2,282.5M105.9,282.5V287.9M103.6,283.9L108.2,286.6M103.6,286.6L108.2,283.9M106.9,283.0V288.4M104.6,284.4L109.2,287.1M104.6,287.1L109.2,284.4M107.9,284.7V290.1M105.6,286.0L110.2,288.7M105.6,288.7L110.2,286.0M108.9,286.0V291.4M106.6,287.4L111.2,290.1M106.6,290.1L111.2,287.4M109.9,285.1V290.5M107.6,286.4L112.2,289.1M107.6,289.1L112.2,286.4M110.9,287.2V292.6M108.6,288.6L113.2,291.3M108.6,291.3L113.2,288.6M111.9,286.2V291.6M109.6,287.6L114.2,290.3M109.6,290.3L114.2,287.6M112.9,286.3V291.7M110.6,287.7L115.2,290.4M110.6,290.4L115.2,287.7M113.9,287.6V293.0M111.6,289.0L116.2,291.7M111.6,291.7L116.2,289.0M114.9,288.0V293.4M112.6,289.3L117.2,292.0M112.6,292.0L117.2,289.3M115.9,287.8V293.2M113.6,289.2L118.2,291.9M113.6,291.9L118.2,289.2M116.9,288.3V293.7M114.6,289.7L119.2,292.4M114.6,292.4L119.2,289.7M117.9,288.5V293.9M115.6,289.9L120.2,292.6M115.6,292.6L120.2,289.9M118.9,288.5V293.9M116.6,289.9L121.2,292.6M116.6,292.6L121.2,289.9M119.9,288.7V294.1M117.6,290.1L122.2,292.8M117.6,292.8L122.2,290.1M120.9,287.4V292.8M118.6,288.8L123.2,291.5M118.6,291.5L123.2,288.8M121.9,287.2V292.6M119.6,288.5L124.2,291.2M119.6,291.2L124.2,288.5M122.9,288.6V294.0M120.6,290.0L125.2,292.7M120.6,292.7L125.2,290.0M123.9,288.7V294.1M121.6,290.0L126.2,292.7M121.6,292.7L126.2,290.0M124.9,287.8V293.2M122.6,289.1L127.2,291.8M122.6,291.8L127.2,289.1M125.9,287.5V292.9M123.6,288.8L128.2,291.5M123.6,291.5L128.2,288.8M126.9,287.7V293.1M124.6,289.0L129.2,291.7M124.6,291.7L129.2,289.0M127.9,288.1V293.5M125.6,289.5L130.2,292.2M125.6,292.2L130.2,289.5M128.9,287.9V293.3M126.6,289.2L131.2,291.9M126.6,291.9L131.2,289.2M129.9,288.7V294.1M127.6,290.1L132.2,292.8M127.6,292.8L132.2,290.1M130.9,288.1V293.5M128.6,289.4L133.2,292.1M128.6,292.1L133.2,289.4M131.9,288.4V293.8M129.6,289.8L134.2,292.5M129.6,292.5L134.2,289.8M132.9,288.7V294.1M130.6,290.0L135.2,292.7M130.6,292.7L135.2,290.0M133.9,288.3V293.7M131.6,289.7L136.2,292.4M131.6,292.4L136.2,289.7M134.9,289.0V294.4M132.6,290.4L137.2,293.1M132.6,293.1L137.2,290.4" fill="none" stroke="#878a2e" stroke-width="0.8"/>
<polyline points="32.90,305.78 33.40,306.33 33.90,306.08 34.40,305.59 34.90,306.58 35.40,305.40 35.90,306.51 36.40,305.51 36.90,305.25 37.40,305.54 37.90,306.38 38.40,306.69 38.90,305.18 39.40,305.88 39.90,305.83 40.40,306.23 40.90,305.20 41.40,305.56 41.90,305.17 42.40,305.72 42.90,304.59 43.40,305.32 43.90,303.93 44.40,303.37 44.90,303.59 45.40,302.68 45.90,301.42 46.40,301.51 46.90,299.91 47.40,300.24 47.90,299.37 48.40,298.86 48.90,298.09 49.40,297.34 49.90,297.29 50.40,297.40 50.90,298.48 51.40,297.74 51.90,299.57 52.40,298.92 52.90,299.88 53.40,300.65 53.90,302.28 54.40,302.27 54.90,302.64 55.40,303.92 55.90,303.38 56.40,304.13 56.90,304.60 57.40,305.25 57.90,305.53 58.40,305.61 58.90,305.37 59.40,305.53 59.90,305.43 60.40,306.63 60.90,306.48 61.40,306.71 61.90,305.93 62.40,306.43 62.90,307.01 63.40,306.77 63.90,306.13 64.40,306.68 64.90,307.37 65.40,306.41 65.90,306.37 66.40,306.56 66.90,307.20 67.40,307.44 67.90,306.41 68.40,306.43 68.90,306.59 69.40,306.73 69.90,307.04 70.40,306.51 70.90,306.78 71.40,306.58 71.90,307.80 72.40,307.44 72.90,306.49 73.40,307.82 73.90,306.52 74.40,306.96 74.90,307.89 75.40,307.61 75.90,307.53 76.40,307.09 76.90,306.73 77.40,307.42 77.90,306.61 78.40,306.78 78.90,307.06 79.40,306.53 79.90,307.09 80.40,307.70 80.90,307.56 81.40,307.27 81.90,307.47 82.40,307.22 82.90,306.73 83.40,307.43 83.90,307.13 84.40,307.64 84.90,307.89 85.40,307.16 85.90,307.37 86.40,307.63 86.90,307.11 87.40,306.80 87.90,307.54 88.40,307.75 88.90,307.55 89.40,307.39 89.90,307.56 90.40,307.21 90.90,307.04 91.40,306.61 91.90,306.21 92.40,306.45 92.90,305.33 93.40,305.43 93.90,305.50 94.40,304.81 94.90,303.98 95.40,302.59 95.90,301.92 96.40,300.94 96.90,300.07 97.40,298.56 97.90,297.77 98.40,296.99 98.90,294.79 99.40,294.64 99.90,294.24 100.40,293.39 100.90,293.66 101.40,294.86 101.90,294.15 102.40,295.85 102.90,296.30 103.40,298.33 103.90,299.64 104.40,300.02 104.90,300.33 105.40,301.93 105.90,302.67 106.40,303.64 106.90,303.95 107.40,304.69 107.90,305.47 108.40,305.42 108.90,305.64 109.40,306.80 109.90,305.97 110.40,306.96 110.90,306.76 111.40,307.53 111.90,306.74 112.40,308.22 112.90,307.39 113.40,307.05 113.90,307.49 114.40,307.77 114.90,307.25 115.40,307.93 115.90,307.98 116.40,308.45 116.90,307.96 117.40,307.87 117.90,307.84 118.40,308.66 118.90,308.99 119.40,308.38 119.90,307.94 120.40,308.85 120.90,308.25 121.40,308.00 121.90,307.89 122.40,308.90 122.90,308.97 123.40,308.73 123.90,308.49 124.40,308.65 124.90,308.16 125.40,309.31 125.90,308.39 126.40,308.85 126.90,309.14 127.40,309.15 127.90,308.64 128.40,308.39 128.90,308.80 129.40,308.16 129.90,309.27 130.40,308.55 130.90,309.32 131.40,308.45 131.90,308.63 132.40,308.46 132.90,308.74 133.40,308.39 133.90,308.12 134.40,309.24 134.90,308.58" fill="none" stroke="#45bab0" stroke-width="3.2" stroke-linejoin="round" stroke-linecap="round" />
<path d="M33.9,303.9V308.3M32.0,305.0L35.8,307.2M32.0,307.2L35.8,305.0M34.9,304.4V308.8M33.0,305.5L36.8,307.7M33.0,307.7L36.8,305.5M35.9,304.3V308.7M34.0,305.4L37.8,307.6M34.0,307.6L37.8,305.4M36.9,303.0V307.4M35.0,304.1L38.8,306.3M35.0,306.3L38.8,304.1M37.9,304.2V308.6M36.0,305.3L39.8,307.5M36.0,307.5L39.8,305.3M38.9,303.0V307.4M37.0,304.1L40.8,306.3M37.0,306.3L40.8,304.1M39.9,303.6V308.0M38.0,304.7L41.8,306.9M38.0,306.9L41.8,304.7M40.9,303.0V307.4M39.0,304.1L42.8,306.3M39.0,306.3L42.8,304.1M41.9,303.0V307.4M40.0,304.1L43.8,306.3M40.0,306.3L43.8,304.1M42.9,302.4V306.8M41.0,303.5L44.8,305.7M41.0,305.7L44.8,303.5M43.9,301.7V306.1M42.0,302.8L45.8,305.0M42.0,305.0L45.8,302.8M44.9,301.4V305.8M43.0,302.5L46.8,304.7M43.0,304.7L46.8,302.5M45.9,299.2V303.6M44.0,300.3L47.8,302.5M44.0,302.5L47.8,300.3M46.9,297.7V302.1M45.0,298.8L48.8,301.0M45.0,301.0L48.8,298.8M47.9,297.2V301.6M46.0,298.3L49.8,300.5M46.0,300.5L49.8,298.3M48.9,295.9V300.3M47.0,297.0L50.8,299.2M47.0,299.2L50.8,297.0M49.9,295.1V299.5M48.0,296.2L51.8,298.4M48.0,298.4L51.8,296.2M50.9,296.3V300.7M49.0,297.4L52.8,299.6M49.0,299.6L52.8,297.4M51.9,297.4V301.8M50.0,298.5L53.8,300.7M50.0,300.7L53.8,298.5M52.9,297.7V302.1M51.0,298.8L54.8,301.0M51.0,301.0L54.8,298.8M53.9,300.1V304.5M52.0,301.2L55.8,303.4M52.0,303.4L55.8,301.2M54.9,300.4V304.8M53.0,301.5L56.8,303.7M53.0,303.7L56.8,301.5M55.9,301.2V305.6M54.0,302.3L57.8,304.5M54.0,304.5L57.8,302.3M56.9,302.4V306.8M55.0,303.5L58.8,305.7M55.0,305.7L58.8,303.5M57.9,303.3V307.7M56.0,304.4L59.8,306.6M56.0,306.6L59.8,304.4M58.9,303.2V307.6M57.0,304.3L60.8,306.5M57.0,306.5L60.8,304.3M59.9,303.2V307.6M58.0,304.3L61.8,306.5M58.0,306.5L61.8,304.3M60.9,304.3V308.7M59.0,305.4L62.8,307.6M59.0,307.6L62.8,305.4M61.9,303.7V308.1M60.0,304.8L63.8,307.0M60.0,307.0L63.8,304.8M62.9,304.8V309.2M61.0,305.9L64.8,308.1M61.0,308.1L64.8,305.9M63.9,303.9V308.3M62.0,305.0L65.8,307.2M62.0,307.2L65.8,305.0M64.9,305.2V309.6M63.0,306.3L66.8,308.5M63.0,308.5L66.8,306.3M65.9,304.2V308.6M64.0,305.3L67.8,307.5M64.0,307.5L67.8,305.3M66.9,305.0V309.4M65.0,306.1L68.8,308.3M65.0,308.3L68.8,306.1M67.9,304.2V308.6M66.0,305.3L69.8,307.5M66.0,307.5L69.8,305.3M68.9,304.4V308.8M67.0,305.5L70.8,307.7M67.0,307.7L70.8,305.5M69.9,304.8V309.2M68.0,305.9L71.8,308.1M68.0,308.1L71.8,305.9M70.9,304.6V309.0M69.0,305.7L72.8,307.9M69.0,307.9L72.8,305.7M71.9,305.6V310.0M70.0,306.7L73.8,308.9M70.0,308.9L73.8,306.7M72.9,304.3V308.7M71.0,305.4L74.8,307.6M71.0,307.6L74.8,305.4M73.9,304.3V308.7M72.0,305.4L75.8,307.6M72.0,307.6L75.8,305.4M74.9,305.7V310.1M73.0,306.8L76.8,309.0M73.0,309.0L76.8,306.8M75.9,305.3V309.7M74.0,306.4L77.8,308.6M74.0,308.6L77.8,306.4M76.9,304.5V308.9M75.0,305.6L78.8,307.8M75.0,307.8L78.8,305.6M77.9,304.4V308.8M76.0,305.5L79.8,307.7M76.0,307.7L79.8,305.5M78.9,304.9V309.3M77.0,306.0L80.8,308.2M77.0,308.2L80.8,306.0M79.9,304.9V309.3M78.0,306.0L81.8,308.2M78.0,308.2L81.8,306.0M80.9,305.4V309.8M79.0,306.5L82.8,308.7M79.0,308.7L82.8,306.5M81.9,305.3V309.7M80.0,306.4L83.8,308.6M80.0,308.6L83.8,306.4M82.9,304.5V308.9M81.0,305.6L84.8,307.8M81.0,307.8L84.8,305.6M83.9,304.9V309.3M82.0,306.0L85.8,308.2M82.0,308.2L85.8,306.0M84.9,305.7V310.1M83.0,306.8L86.8,309.0M83.0,309.0L86.8,306.8M85.9,305.2V309.6M84.0,306.3L87.8,308.5M84.0,308.5L87.8,306.3M86.9,304.9V309.3M85.0,306.0L88.8,308.2M85.0,308.2L88.8,306.0M87.9,305.3V309.7M86.0,306.4L89.8,308.6M86.0,308.6L89.8,306.4M88.9,305.3V309.7M87.0,306.4L90.8,308.6M87.0,308.6L90.8,306.4M89.9,305.4V309.8M88.0,306.5L91.8,308.7M88.0,308.7L91.8,306.5M90.9,304.8V309.2M89.0,305.9L92.8,308.1M89.0,308.1L92.8,305.9M91.9,304.0V308.4M90.0,305.1L93.8,307.3M90.0,307.3L93.8,305.1M92.9,303.1V307.5M91.0,304.2L94.8,306.4M91.0,306.4L94.8,304.2M93.9,303.3V307.7M92.0,304.4L95.8,306.6M92.0,306.6L95.8,304.4M94.9,301.8V306.2M93.0,302.9L96.8,305.1M93.0,305.1L96.8,302.9M95.9,299.7V304.1M94.0,300.8L97.8,303.0M94.0,303.0L97.8,300.8M96.9,297.9V302.3M95.0,299.0L98.8,301.2M95.0,301.2L98.8,299.0M97.9,295.6V300.0M96.0,296.7L99.8,298.9M96.0,298.9L99.8,296.7M98.9,292.6V297.0M97.0,293.7L100.8,295.9M97.0,295.9L100.8,293.7M99.9,292.0V296.4M98.0,293.1L101.8,295.3M98.0,295.3L101.8,293.1M100.9,291.5V295.9M99.0,292.6L102.8,294.8M99.0,294.8L102.8,292.6M101.9,292.0V296.4M100.0,293.1L103.8,295.3M100.0,295.3L103.8,293.1M102.9,294.1V298.5M101.0,295.2L104.8,297.4M101.0,297.4L104.8,295.2M103.9,297.4V301.8M102.0,298.5L105.8,300.7M102.0,300.7L105.8,298.5M104.9,298.1V302.5M103.0,299.2L106.8,301.4M103.0,301.4L106.8,299.2M105.9,300.5V304.9M104.0,301.6L107.8,303.8M104.0,303.8L107.8,301.6M106.9,301.7V306.1M105.0,302.8L108.8,305.0M105.0,305.0L108.8,302.8M107.9,303.3V307.7M106.0,304.4L109.8,306.6M106.0,306.6L109.8,304.4M108.9,303.4V307.8M107.0,304.5L110.8,306.7M107.0,306.7L110.8,304.5M109.9,303.8V308.2M108.0,304.9L111.8,307.1M108.0,307.1L111.8,304.9M110.9,304.6V309.0M109.0,305.7L112.8,307.9M109.0,307.9L112.8,305.7M111.9,304.5V308.9M110.0,305.6L113.8,307.8M110.0,307.8L113.8,305.6M112.9,305.2V309.6M111.0,306.3L114.8,308.5M111.0,308.5L114.8,306.3M113.9,305.3V309.7M112.0,306.4L115.8,308.6M112.0,308.6L115.8,306.4M114.9,305.0V309.4M113.0,306.1L116.8,308.3M113.0,308.3L116.8,306.1M115.9,305.8V310.2M114.0,306.9L117.8,309.1M114.0,309.1L117.8,306.9M116.9,305.8V310.2M115.0,306.9L118.8,309.1M115.0,309.1L118.8,306.9M117.9,305.6V310.0M116.0,306.7L119.8,308.9M116.0,308.9L119.8,306.7M118.9,306.8V311.2M117.0,307.9L120.8,310.1M117.0,310.1L120.8,307.9M119.9,305.7V310.1M118.0,306.8L121.8,309.0M118.0,309.0L121.8,306.8M120.9,306.0V310.4M119.0,307.1L122.8,309.3M119.0,309.3L122.8,307.1M121.9,305.7V310.1M120.0,306.8L123.8,309.0M120.0,309.0L123.8,306.8M122.9,306.8V311.2M121.0,307.9L124.8,310.1M121.0,310.1L124.8,307.9M123.9,306.3V310.7M122.0,307.4L125.8,309.6M122.0,309.6L125.8,307.4M124.9,306.0V310.4M123.0,307.1L126.8,309.3M123.0,309.3L126.8,307.1M125.9,306.2V310.6M124.0,307.3L127.8,309.5M124.0,309.5L127.8,307.3M126.9,306.9V311.3M125.0,308.0L128.8,310.2M125.0,310.2L128.8,308.0M127.9,306.4V310.8M126.0,307.5L129.8,309.7M126.0,309.7L129.8,307.5M128.9,306.6V311.0M127.0,307.7L130.8,309.9M127.0,309.9L130.8,307.7M129.9,307.1V311.5M128.0,308.2L131.8,310.4M128.0,310.4L131.8,308.2M130.9,307.1V311.5M129.0,308.2L132.8,310.4M129.0,310.4L132.8,308.2M131.9,306.4V310.8M130.0,307.5L133.8,309.7M130.0,309.7L133.8,307.5M132.9,306.5V310.9M131.0,307.6L134.8,309.8M131.0,309.8L134.8,307.6M133.9,305.9V310.3M132.0,307.0L135.8,309.2M132.0,309.2L135.8,307.0M134.9,306.4V310.8M133.0,307.5L136.8,309.7M133.0,309.7L136.8,307.5" fill="none" stroke="#45bab0" stroke-width="0.7"/>
<polyline points="32.90,322.47 33.40,322.56 33.90,322.80 34.40,322.73 34.90,323.02 35.40,323.05 35.90,322.64 36.40,323.41 36.90,323.30 37.40,322.21 37.90,323.24 38.40,323.33 38.90,323.14 39.40,322.23 39.90,323.12 40.40,322.78 40.90,321.86 41.40,321.74 41.90,322.86 42.40,322.26 42.90,321.47 43.40,320.96 43.90,320.64 44.40,320.32 44.90,320.54 45.40,319.38 45.90,318.47 46.40,318.78 46.90,317.90 47.40,316.32 47.90,316.58 48.40,315.56 48.90,315.29 49.40,314.81 49.90,315.00 50.40,314.97 50.90,315.36 51.40,314.97 51.90,316.23 52.40,316.67 52.90,317.63 53.40,317.88 53.90,319.12 54.40,319.28 54.90,319.43 55.40,319.89 55.90,320.21 56.40,321.08 56.90,320.84 57.40,321.70 57.90,321.54 58.40,322.25 58.90,322.47 59.40,322.72 59.90,323.32 60.40,322.31 60.90,323.56 61.40,323.16 61.90,323.39 62.40,323.61 62.90,323.91 63.40,323.34 63.90,323.45 64.40,324.23 64.90,323.07 65.40,323.86 65.90,323.89 66.40,323.10 66.90,323.90 67.40,324.03 67.90,324.38 68.40,323.59 68.90,324.49 69.40,323.87 69.90,323.86 70.40,324.43 70.90,323.28 71.40,324.22 71.90,324.11 72.40,323.74 72.90,324.46 73.40,323.81 73.90,323.97 74.40,324.05 74.90,324.39 75.40,323.65 75.90,323.96 76.40,323.96 76.90,324.15 77.40,324.52 77.90,323.81 78.40,324.55 78.90,323.98 79.40,324.12 79.90,323.82 80.40,324.14 80.90,324.78 81.40,324.35 81.90,324.54 82.40,323.92 82.90,323.91 83.40,323.88 83.90,324.27 84.40,324.33 84.90,324.53 85.40,323.52 85.90,324.43 86.40,324.64 86.90,324.17 87.40,323.48 87.90,323.80 88.40,323.37 88.90,323.58 89.40,324.51 89.90,324.02 90.40,324.00 90.90,324.06 91.40,324.07 91.90,323.46 92.40,323.20 92.90,322.88 93.40,322.56 93.90,321.90 94.40,321.38 94.90,320.00 95.40,319.73 95.90,318.45 96.40,317.74 96.90,315.64 97.40,314.47 97.90,312.98 98.40,312.71 98.90,311.76 99.40,310.47 99.90,309.44 100.40,309.78 100.90,309.86 101.40,310.05 101.90,310.43 102.40,311.48 102.90,312.76 103.40,313.78 103.90,315.09 104.40,316.47 104.90,317.90 105.40,317.65 105.90,319.20 106.40,319.24 106.90,320.02 107.40,321.55 107.90,321.75 108.40,322.68 108.90,322.45 109.40,322.23 109.90,323.06 110.40,323.63 110.90,324.35 111.40,324.64 111.90,324.16 112.40,324.24 112.90,323.97 113.40,324.83 113.90,324.36 114.40,324.37 114.90,324.26 115.40,324.31 115.90,325.29 116.40,324.58 116.90,325.76 117.40,324.61 117.90,325.70 118.40,324.74 118.90,324.62 119.40,325.59 119.90,324.97 120.40,325.66 120.90,324.95 121.40,324.79 121.90,325.79 122.40,325.73 122.90,325.94 123.40,325.80 123.90,324.95 124.40,325.70 124.90,325.83 125.40,325.51 125.90,326.17 126.40,325.28 126.90,326.25 127.40,325.94 127.90,325.00 128.40,325.03 128.90,325.90 129.40,326.15 129.90,325.17 130.40,325.50 130.90,326.08 131.40,325.34 131.90,326.30 132.40,325.81 132.90,325.25 133.40,325.68 133.90,325.98 134.40,325.81 134.90,326.15" fill="none" stroke="#9a6ab6" stroke-width="3.8" stroke-linejoin="round" stroke-linecap="round" />
<polyline points="32.90,340.45 33.40,341.45 33.90,340.78 34.40,341.20 34.90,341.18 35.40,340.84 35.90,340.78 36.40,341.39 36.90,341.61 37.40,341.35 37.90,340.99 38.40,340.54 38.90,340.15 39.40,341.50 39.90,341.02 40.40,341.13 40.90,340.26 41.40,340.54 41.90,340.92 42.40,340.47 42.90,339.82 43.40,339.02 43.90,338.76 44.40,338.95 44.90,337.57 45.40,337.36 45.90,336.48 46.40,336.12 46.90,335.14 47.40,333.48 47.90,332.22 48.40,331.88 48.90,331.53 49.40,331.40 49.90,331.61 50.40,331.84 50.90,330.91 51.40,332.67 51.90,333.30 52.40,334.13 52.90,334.45 53.40,334.75 53.90,336.36 54.40,336.97 54.90,337.40 55.40,338.32 55.90,337.95 56.40,338.00 56.90,339.11 57.40,339.83 57.90,339.22 58.40,340.33 58.90,340.85 59.40,339.99 59.90,340.74 60.40,341.01 60.90,340.82 61.40,340.54 61.90,340.71 62.40,341.56 62.90,341.69 63.40,341.24 63.90,340.72 64.40,341.87 64.90,341.85 65.40,341.06 65.90,341.61 66.40,342.12 66.90,342.12 67.40,341.59 67.90,341.53 68.40,341.72 68.90,341.12 69.40,341.14 69.90,341.14 70.40,341.95 70.90,341.44 71.40,341.76 71.90,341.52 72.40,341.71 72.90,341.15 73.40,341.00 73.90,342.47 74.40,341.52 74.90,341.12 75.40,341.93 75.90,342.18 76.40,341.22 76.90,341.90 77.40,341.52 77.90,341.79 78.40,341.03 78.90,341.05 79.40,342.52 79.90,342.33 80.40,341.75 80.90,341.87 81.40,341.40 81.90,342.20 82.40,341.65 82.90,342.44 83.40,342.17 83.90,342.24 84.40,342.45 84.90,341.36 85.40,341.01 85.90,341.25 86.40,341.20 86.90,341.03 87.40,340.96 87.90,341.70 88.40,342.15 88.90,341.47 89.40,342.16 89.90,342.03 90.40,340.64 90.90,341.33 91.40,340.87 91.90,340.23 92.40,341.25 92.90,339.83 93.40,339.88 93.90,339.47 94.40,339.31 94.90,338.11 95.40,336.81 95.90,335.88 96.40,334.32 96.90,334.33 97.40,333.09 97.90,330.61 98.40,329.07 98.90,328.25 99.40,327.45 99.90,327.65 100.40,327.37 100.90,327.39 101.40,326.67 101.90,328.58 102.40,329.45 102.90,330.47 103.40,332.14 103.90,331.87 104.40,333.10 104.90,335.06 105.40,336.28 105.90,336.72 106.40,336.89 106.90,338.01 107.40,338.85 107.90,338.37 108.40,339.16 108.90,339.46 109.40,339.62 109.90,340.48 110.40,340.29 110.90,340.65 111.40,340.72 111.90,341.73 112.40,340.88 112.90,342.10 113.40,341.43 113.90,341.29 114.40,342.74 114.90,341.73 115.40,342.88 115.90,342.83 116.40,342.90 116.90,341.79 117.40,342.30 117.90,341.79 118.40,343.09 118.90,342.98 119.40,342.68 119.90,342.43 120.40,342.27 120.90,343.03 121.40,342.52 121.90,342.77 122.40,342.04 122.90,342.18 123.40,341.95 123.90,342.97 124.40,342.74 124.90,342.12 125.40,343.25 125.90,342.34 126.40,342.58 126.90,342.20 127.40,342.39 127.90,343.27 128.40,342.51 128.90,342.27 129.40,342.77 129.90,342.52 130.40,343.43 130.90,342.23 131.40,343.57 131.90,342.17 132.40,343.46 132.90,343.13 133.40,342.44 133.90,342.86 134.40,342.58 134.90,342.54" fill="none" stroke="#3f5ba8" stroke-width="3.4" stroke-linejoin="round" stroke-linecap="round" />
<path d="M33.9,338.4V343.2M31.8,339.6L36.0,342.0M31.8,342.0L36.0,339.6M34.9,338.8V343.6M32.8,340.0L37.0,342.4M32.8,342.4L37.0,340.0M35.9,338.4V343.2M33.8,339.6L38.0,342.0M33.8,342.0L38.0,339.6M36.9,339.2V344.0M34.8,340.4L39.0,342.8M34.8,342.8L39.0,340.4M37.9,338.6V343.4M35.8,339.8L40.0,342.2M35.8,342.2L40.0,339.8M38.9,337.8V342.6M36.8,339.0L41.0,341.4M36.8,341.4L41.0,339.0M39.9,338.6V343.4M37.8,339.8L42.0,342.2M37.8,342.2L42.0,339.8M40.9,337.9V342.7M38.8,339.1L43.0,341.5M38.8,341.5L43.0,339.1M41.9,338.5V343.3M39.8,339.7L44.0,342.1M39.8,342.1L44.0,339.7M42.9,337.4V342.2M40.8,338.6L45.0,341.0M40.8,341.0L45.0,338.6M43.9,336.4V341.2M41.8,337.6L46.0,340.0M41.8,340.0L46.0,337.6M44.9,335.2V340.0M42.8,336.4L47.0,338.8M42.8,338.8L47.0,336.4M45.9,334.1V338.9M43.8,335.3L48.0,337.7M43.8,337.7L48.0,335.3M46.9,332.7V337.5M44.8,333.9L49.0,336.3M44.8,336.3L49.0,333.9M47.9,329.8V334.6M45.8,331.0L50.0,333.4M45.8,333.4L50.0,331.0M48.9,329.1V333.9M46.8,330.3L51.0,332.7M46.8,332.7L51.0,330.3M49.9,329.2V334.0M47.8,330.4L52.0,332.8M47.8,332.8L52.0,330.4M50.9,328.5V333.3M48.8,329.7L53.0,332.1M48.8,332.1L53.0,329.7M51.9,330.9V335.7M49.8,332.1L54.0,334.5M49.8,334.5L54.0,332.1M52.9,332.0V336.8M50.8,333.2L55.0,335.6M50.8,335.6L55.0,333.2M53.9,334.0V338.8M51.8,335.2L56.0,337.6M51.8,337.6L56.0,335.2M54.9,335.0V339.8M52.8,336.2L57.0,338.6M52.8,338.6L57.0,336.2M55.9,335.6V340.4M53.8,336.8L58.0,339.2M53.8,339.2L58.0,336.8M56.9,336.7V341.5M54.8,337.9L59.0,340.3M54.8,340.3L59.0,337.9M57.9,336.8V341.6M55.8,338.0L60.0,340.4M55.8,340.4L60.0,338.0M58.9,338.4V343.2M56.8,339.6L61.0,342.0M56.8,342.0L61.0,339.6M59.9,338.3V343.1M57.8,339.5L62.0,341.9M57.8,341.9L62.0,339.5M60.9,338.4V343.2M58.8,339.6L63.0,342.0M58.8,342.0L63.0,339.6M61.9,338.3V343.1M59.8,339.5L64.0,341.9M59.8,341.9L64.0,339.5M62.9,339.3V344.1M60.8,340.5L65.0,342.9M60.8,342.9L65.0,340.5M63.9,338.3V343.1M61.8,339.5L66.0,341.9M61.8,341.9L66.0,339.5M64.9,339.5V344.3M62.8,340.7L67.0,343.1M62.8,343.1L67.0,340.7M65.9,339.2V344.0M63.8,340.4L68.0,342.8M63.8,342.8L68.0,340.4M66.9,339.7V344.5M64.8,340.9L69.0,343.3M64.8,343.3L69.0,340.9M67.9,339.1V343.9M65.8,340.3L70.0,342.7M65.8,342.7L70.0,340.3M68.9,338.7V343.5M66.8,339.9L71.0,342.3M66.8,342.3L71.0,339.9M69.9,338.7V343.5M67.8,339.9L72.0,342.3M67.8,342.3L72.0,339.9M70.9,339.0V343.8M68.8,340.2L73.0,342.6M68.8,342.6L73.0,340.2M71.9,339.1V343.9M69.8,340.3L74.0,342.7M69.8,342.7L74.0,340.3M72.9,338.8V343.6M70.8,340.0L75.0,342.4M70.8,342.4L75.0,340.0M73.9,340.1V344.9M71.8,341.3L76.0,343.7M71.8,343.7L76.0,341.3M74.9,338.7V343.5M72.8,339.9L77.0,342.3M72.8,342.3L77.0,339.9M75.9,339.8V344.6M73.8,341.0L78.0,343.4M73.8,343.4L78.0,341.0M76.9,339.5V344.3M74.8,340.7L79.0,343.1M74.8,343.1L79.0,340.7M77.9,339.4V344.2M75.8,340.6L80.0,343.0M75.8,343.0L80.0,340.6M78.9,338.7V343.5M76.8,339.9L81.0,342.3M76.8,342.3L81.0,339.9M79.9,339.9V344.7M77.8,341.1L82.0,343.5M77.8,343.5L82.0,341.1M80.9,339.5V344.3M78.8,340.7L83.0,343.1M78.8,343.1L83.0,340.7M81.9,339.8V344.6M79.8,341.0L84.0,343.4M79.8,343.4L84.0,341.0M82.9,340.0V344.8M80.8,341.2L85.0,343.6M80.8,343.6L85.0,341.2M83.9,339.8V344.6M81.8,341.0L86.0,343.4M81.8,343.4L86.0,341.0M84.9,339.0V343.8M82.8,340.2L87.0,342.6M82.8,342.6L87.0,340.2M85.9,338.8V343.6M83.8,340.0L88.0,342.4M83.8,342.4L88.0,340.0M86.9,338.6V343.4M84.8,339.8L89.0,342.2M84.8,342.2L89.0,339.8M87.9,339.3V344.1M85.8,340.5L90.0,342.9M85.8,342.9L90.0,340.5M88.9,339.1V343.9M86.8,340.3L91.0,342.7M86.8,342.7L91.0,340.3M89.9,339.6V344.4M87.8,340.8L92.0,343.2M87.8,343.2L92.0,340.8M90.9,338.9V343.7M88.8,340.1L93.0,342.5M88.8,342.5L93.0,340.1M91.9,337.8V342.6M89.8,339.0L94.0,341.4M89.8,341.4L94.0,339.0M92.9,337.4V342.2M90.8,338.6L95.0,341.0M90.8,341.0L95.0,338.6M93.9,337.1V341.9M91.8,338.3L96.0,340.7M91.8,340.7L96.0,338.3M94.9,335.7V340.5M92.8,336.9L97.0,339.3M92.8,339.3L97.0,336.9M95.9,333.5V338.3M93.8,334.7L98.0,337.1M93.8,337.1L98.0,334.7M96.9,331.9V336.7M94.8,333.1L99.0,335.5M94.8,335.5L99.0,333.1M97.9,328.2V333.0M95.8,329.4L100.0,331.8M95.8,331.8L100.0,329.4M98.9,325.9V330.7M96.8,327.1L101.0,329.5M96.8,329.5L101.0,327.1M99.9,325.2V330.0M97.8,326.4L102.0,328.8M97.8,328.8L102.0,326.4M100.9,325.0V329.8M98.8,326.2L103.0,328.6M98.8,328.6L103.0,326.2M101.9,326.2V331.0M99.8,327.4L104.0,329.8M99.8,329.8L104.0,327.4M102.9,328.1V332.9M100.8,329.3L105.0,331.7M100.8,331.7L105.0,329.3M103.9,329.5V334.3M101.8,330.7L106.0,333.1M101.8,333.1L106.0,330.7M104.9,332.7V337.5M102.8,333.9L107.0,336.3M102.8,336.3L107.0,333.9M105.9,334.3V339.1M103.8,335.5L108.0,337.9M103.8,337.9L108.0,335.5M106.9,335.6V340.4M104.8,336.8L109.0,339.2M104.8,339.2L109.0,336.8M107.9,336.0V340.8M105.8,337.2L110.0,339.6M105.8,339.6L110.0,337.2M108.9,337.1V341.9M106.8,338.3L111.0,340.7M106.8,340.7L111.0,338.3M109.9,338.1V342.9M107.8,339.3L112.0,341.7M107.8,341.7L112.0,339.3M110.9,338.2V343.0M108.8,339.4L113.0,341.8M108.8,341.8L113.0,339.4M111.9,339.3V344.1M109.8,340.5L114.0,342.9M109.8,342.9L114.0,340.5M112.9,339.7V344.5M110.8,340.9L115.0,343.3M110.8,343.3L115.0,340.9M113.9,338.9V343.7M111.8,340.1L116.0,342.5M111.8,342.5L116.0,340.1M114.9,339.3V344.1M112.8,340.5L117.0,342.9M112.8,342.9L117.0,340.5M115.9,340.4V345.2M113.8,341.6L118.0,344.0M113.8,344.0L118.0,341.6M116.9,339.4V344.2M114.8,340.6L119.0,343.0M114.8,343.0L119.0,340.6M117.9,339.4V344.2M115.8,340.6L120.0,343.0M115.8,343.0L120.0,340.6M118.9,340.6V345.4M116.8,341.8L121.0,344.2M116.8,344.2L121.0,341.8M119.9,340.0V344.8M117.8,341.2L122.0,343.6M117.8,343.6L122.0,341.2M120.9,340.6V345.4M118.8,341.8L123.0,344.2M118.8,344.2L123.0,341.8M121.9,340.4V345.2M119.8,341.6L124.0,344.0M119.8,344.0L124.0,341.6M122.9,339.8V344.6M120.8,341.0L125.0,343.4M120.8,343.4L125.0,341.0M123.9,340.6V345.4M121.8,341.8L126.0,344.2M121.8,344.2L126.0,341.8M124.9,339.7V344.5M122.8,340.9L127.0,343.3M122.8,343.3L127.0,340.9M125.9,339.9V344.7M123.8,341.1L128.0,343.5M123.8,343.5L128.0,341.1M126.9,339.8V344.6M124.8,341.0L129.0,343.4M124.8,343.4L129.0,341.0M127.9,340.9V345.7M125.8,342.1L130.0,344.5M125.8,344.5L130.0,342.1M128.9,339.9V344.7M126.8,341.1L131.0,343.5M126.8,343.5L131.0,341.1M129.9,340.1V344.9M127.8,341.3L132.0,343.7M127.8,343.7L132.0,341.3M130.9,339.8V344.6M128.8,341.0L133.0,343.4M128.8,343.4L133.0,341.0M131.9,339.8V344.6M129.8,341.0L134.0,343.4M129.8,343.4L134.0,341.0M132.9,340.7V345.5M130.8,341.9L135.0,344.3M130.8,344.3L135.0,341.9M133.9,340.5V345.3M131.8,341.7L136.0,344.1M131.8,344.1L136.0,341.7M134.9,340.1V344.9M132.8,341.3L137.0,343.7M132.8,343.7L137.0,341.3" fill="none" stroke="#3f5ba8" stroke-width="0.7"/>
<polyline points="32.90,358.77 33.40,358.96 33.90,359.70 34.40,359.71 34.90,359.62 35.40,358.65 35.90,358.88 36.40,359.58 36.90,358.59 37.40,359.37 37.90,358.84 38.40,359.63 38.90,358.48 39.40,359.37 39.90,358.77 40.40,358.48 40.90,358.23 41.40,359.09 41.90,358.58 42.40,357.99 42.90,358.03 43.40,358.28 43.90,357.08 44.40,357.03 44.90,355.99 45.40,355.41 45.90,355.41 46.40,354.58 46.90,353.17 47.40,352.22 47.90,351.44 48.40,351.34 48.90,350.64 49.40,350.01 49.90,349.80 50.40,350.41 50.90,350.88 51.40,351.54 51.90,351.93 52.40,352.21 52.90,352.78 53.40,354.29 53.90,354.60 54.40,355.60 54.90,355.39 55.40,356.80 55.90,356.70 56.40,357.69 56.90,358.07 57.40,357.95 57.90,357.66 58.40,358.95 58.90,358.65 59.40,359.30 59.90,358.76 60.40,358.81 60.90,359.69 61.40,359.26 61.90,359.12 62.40,359.44 62.90,359.77 63.40,359.14 63.90,359.79 64.40,359.75 64.90,359.87 65.40,359.44 65.90,360.16 66.40,360.31 66.90,360.39 67.40,359.77 67.90,360.25 68.40,359.88 68.90,360.33 69.40,359.54 69.90,360.51 70.40,360.62 70.90,360.10 71.40,360.13 71.90,360.17 72.40,360.19 72.90,359.60 73.40,360.72 73.90,359.86 74.40,359.83 74.90,359.75 75.40,359.93 75.90,360.60 76.40,359.69 76.90,359.78 77.40,360.50 77.90,359.91 78.40,359.72 78.90,360.40 79.40,360.38 79.90,360.33 80.40,360.54 80.90,359.85 81.40,360.75 81.90,360.57 82.40,359.79 82.90,359.88 83.40,360.32 83.90,360.32 84.40,360.06 84.90,359.87 85.40,360.20 85.90,359.88 86.40,360.40 86.90,360.70 87.40,359.85 87.90,360.32 88.40,360.50 88.90,359.78 89.40,360.51 89.90,360.58 90.40,359.86 90.90,359.79 91.40,360.14 91.90,359.59 92.40,359.20 92.90,359.53 93.40,358.95 93.90,357.94 94.40,357.22 94.90,356.60 95.40,355.86 95.90,355.50 96.40,354.18 96.90,353.09 97.40,351.67 97.90,350.38 98.40,348.15 98.90,347.50 99.40,347.04 99.90,346.34 100.40,345.25 100.90,345.59 101.40,346.36 101.90,346.87 102.40,348.11 102.90,348.72 103.40,350.34 103.90,351.60 104.40,352.15 104.90,353.31 105.40,355.21 105.90,355.82 106.40,356.74 106.90,357.02 107.40,357.79 107.90,358.37 108.40,358.80 108.90,358.19 109.40,359.24 109.90,359.11 110.40,359.86 110.90,359.63 111.40,360.16 111.90,360.80 112.40,360.61 112.90,360.32 113.40,360.76 113.90,360.76 114.40,361.45 114.90,360.75 115.40,360.84 115.90,361.29 116.40,360.72 116.90,361.31 117.40,361.77 117.90,361.29 118.40,361.03 118.90,361.29 119.40,361.39 119.90,360.97 120.40,360.96 120.90,360.99 121.40,361.21 121.90,361.36 122.40,361.24 122.90,361.21 123.40,361.05 123.90,361.60 124.40,361.97 124.90,361.72 125.40,361.69 125.90,361.80 126.40,361.29 126.90,361.90 127.40,361.63 127.90,361.75 128.40,361.84 128.90,361.69 129.40,361.52 129.90,361.46 130.40,361.45 130.90,361.81 131.40,361.67 131.90,361.92 132.40,361.27 132.90,361.68 133.40,362.29 133.90,361.58 134.40,361.97 134.90,361.91" fill="none" stroke="#544d4d" stroke-width="2.3" stroke-linejoin="round" stroke-linecap="round" />
<path d="M32.2,359.7H35.6M33.9,358.0V361.4M33.2,359.6H36.6M34.9,357.9V361.3M34.2,358.9H37.6M35.9,357.2V360.6M35.2,358.6H38.6M36.9,356.9V360.3M36.2,358.8H39.6M37.9,357.1V360.5M37.2,358.5H40.6M38.9,356.8V360.2M38.2,358.8H41.6M39.9,357.1V360.5M39.2,358.2H42.6M40.9,356.5V359.9M40.2,358.6H43.6M41.9,356.9V360.3M41.2,358.0H44.6M42.9,356.3V359.7M42.2,357.1H45.6M43.9,355.4V358.8M43.2,356.0H46.6M44.9,354.3V357.7M44.2,355.4H47.6M45.9,353.7V357.1M45.2,353.2H48.6M46.9,351.5V354.9M46.2,351.4H49.6M47.9,349.7V353.1M47.2,350.6H50.6M48.9,348.9V352.3M48.2,349.8H51.6M49.9,348.1V351.5M49.2,350.9H52.6M50.9,349.2V352.6M50.2,351.9H53.6M51.9,350.2V353.6M51.2,352.8H54.6M52.9,351.1V354.5M52.2,354.6H55.6M53.9,352.9V356.3M53.2,355.4H56.6M54.9,353.7V357.1M54.2,356.7H57.6M55.9,355.0V358.4M55.2,358.1H58.6M56.9,356.4V359.8M56.2,357.7H59.6M57.9,356.0V359.4M57.2,358.7H60.6M58.9,357.0V360.4M58.2,358.8H61.6M59.9,357.1V360.5M59.2,359.7H62.6M60.9,358.0V361.4M60.2,359.1H63.6M61.9,357.4V360.8M61.2,359.8H64.6M62.9,358.1V361.5M62.2,359.8H65.6M63.9,358.1V361.5M63.2,359.9H66.6M64.9,358.2V361.6M64.2,360.2H67.6M65.9,358.5V361.9M65.2,360.4H68.6M66.9,358.7V362.1M66.2,360.2H69.6M67.9,358.5V361.9M67.2,360.3H70.6M68.9,358.6V362.0M68.2,360.5H71.6M69.9,358.8V362.2M69.2,360.1H72.6M70.9,358.4V361.8M70.2,360.2H73.6M71.9,358.5V361.9M71.2,359.6H74.6M72.9,357.9V361.3M72.2,359.9H75.6M73.9,358.2V361.6M73.2,359.7H76.6M74.9,358.0V361.4M74.2,360.6H77.6M75.9,358.9V362.3M75.2,359.8H78.6M76.9,358.1V361.5M76.2,359.9H79.6M77.9,358.2V361.6M77.2,360.4H80.6M78.9,358.7V362.1M78.2,360.3H81.6M79.9,358.6V362.0M79.2,359.8H82.6M80.9,358.1V361.5M80.2,360.6H83.6M81.9,358.9V362.3M81.2,359.9H84.6M82.9,358.2V361.6M82.2,360.3H85.6M83.9,358.6V362.0M83.2,359.9H86.6M84.9,358.2V361.6M84.2,359.9H87.6M85.9,358.2V361.6M85.2,360.7H88.6M86.9,359.0V362.4M86.2,360.3H89.6M87.9,358.6V362.0M87.2,359.8H90.6M88.9,358.1V361.5M88.2,360.6H91.6M89.9,358.9V362.3M89.2,359.8H92.6M90.9,358.1V361.5M90.2,359.6H93.6M91.9,357.9V361.3M91.2,359.5H94.6M92.9,357.8V361.2M92.2,357.9H95.6M93.9,356.2V359.6M93.2,356.6H96.6M94.9,354.9V358.3M94.2,355.5H97.6M95.9,353.8V357.2M95.2,353.1H98.6M96.9,351.4V354.8M96.2,350.4H99.6M97.9,348.7V352.1M97.2,347.5H100.6M98.9,345.8V349.2M98.2,346.3H101.6M99.9,344.6V348.0M99.2,345.6H102.6M100.9,343.9V347.3M100.2,346.9H103.6M101.9,345.2V348.6M101.2,348.7H104.6M102.9,347.0V350.4M102.2,351.6H105.6M103.9,349.9V353.3M103.2,353.3H106.6M104.9,351.6V355.0M104.2,355.8H107.6M105.9,354.1V357.5M105.2,357.0H108.6M106.9,355.3V358.7M106.2,358.4H109.6M107.9,356.7V360.1M107.2,358.2H110.6M108.9,356.5V359.9M108.2,359.1H111.6M109.9,357.4V360.8M109.2,359.6H112.6M110.9,357.9V361.3M110.2,360.8H113.6M111.9,359.1V362.5M111.2,360.3H114.6M112.9,358.6V362.0M112.2,360.8H115.6M113.9,359.1V362.5M113.2,360.8H116.6M114.9,359.1V362.5M114.2,361.3H117.6M115.9,359.6V363.0M115.2,361.3H118.6M116.9,359.6V363.0M116.2,361.3H119.6M117.9,359.6V363.0M117.2,361.3H120.6M118.9,359.6V363.0M118.2,361.0H121.6M119.9,359.3V362.7M119.2,361.0H122.6M120.9,359.3V362.7M120.2,361.4H123.6M121.9,359.7V363.1M121.2,361.2H124.6M122.9,359.5V362.9M122.2,361.6H125.6M123.9,359.9V363.3M123.2,361.7H126.6M124.9,360.0V363.4M124.2,361.8H127.6M125.9,360.1V363.5M125.2,361.9H128.6M126.9,360.2V363.6M126.2,361.7H129.6M127.9,360.0V363.4M127.2,361.7H130.6M128.9,360.0V363.4M128.2,361.5H131.6M129.9,359.8V363.2M129.2,361.8H132.6M130.9,360.1V363.5M130.2,361.9H133.6M131.9,360.2V363.6M131.2,361.7H134.6M132.9,360.0V363.4M132.2,361.6H135.6M133.9,359.9V363.3M133.2,361.9H136.6M134.9,360.2V363.6" fill="none" stroke="#544d4d" stroke-width="0.6"/>
<polyline points="144.40,241.41 144.90,242.37 145.40,241.45 145.90,242.11 146.40,241.29 146.90,241.18 147.40,242.28 147.90,241.71 148.40,241.21 148.90,241.66 149.40,241.75 149.90,242.16 150.40,241.33 150.90,241.50 151.40,242.50 151.90,242.21 152.40,241.44 152.90,241.70 153.40,241.73 153.90,242.18 154.40,242.11 154.90,242.44 155.40,242.42 155.90,242.02 156.40,242.33 156.90,242.35 157.40,242.38 157.90,242.01 158.40,242.44 158.90,242.35 159.40,242.64 159.90,241.59 160.40,242.61 160.90,241.45 161.40,242.49 161.90,242.26 162.40,242.16 162.90,242.80 163.40,242.28 163.90,242.09 164.40,242.59 164.90,242.73 165.40,242.38 165.90,242.09 166.40,242.20 166.90,242.22 167.40,242.59 167.90,242.02 168.40,242.17 168.90,242.40 169.40,242.18 169.90,242.11 170.40,242.75 170.90,242.85 171.40,242.39 171.90,242.33 172.40,241.99 172.90,242.16 173.40,241.96 173.90,242.56 174.40,242.58 174.90,241.92 175.40,243.06 175.90,242.26 176.40,242.98 176.90,242.98 177.40,243.15 177.90,242.14 178.40,242.44 178.90,243.09 179.40,241.86 179.90,241.89 180.40,242.55 180.90,242.41 181.40,242.92 181.90,242.62 182.40,242.18 182.90,242.64 183.40,241.79 183.90,241.54 184.40,241.46 184.90,240.70 185.40,240.25 185.90,240.10 186.40,239.25 186.90,239.49 187.40,238.52 187.90,237.69 188.40,236.47 188.90,236.21 189.40,235.64 189.90,235.28 190.40,234.76 190.90,234.70 191.40,234.39 191.90,233.37 192.40,232.99 192.90,232.97 193.40,233.23 193.90,232.13 194.40,232.18 194.90,232.38 195.40,231.35 195.90,231.41 196.40,232.21 196.90,231.97 197.40,231.60 197.90,231.21 198.40,232.54 198.90,232.67 199.40,233.38 199.90,234.27 200.40,234.89 200.90,235.10 201.40,235.64 201.90,236.73 202.40,237.93 202.90,238.78 203.40,239.15 203.90,239.86 204.40,241.10 204.90,241.60 205.40,241.71 205.90,242.94 206.40,242.74 206.90,242.16 207.40,242.83 207.90,243.47 208.40,242.91 208.90,243.50 209.40,242.63 209.90,243.07 210.40,243.82 210.90,243.50 211.40,243.63 211.90,243.01 212.40,243.43 212.90,243.52 213.40,243.15 213.90,243.68 214.40,243.53 214.90,244.17 215.40,243.62 215.90,243.41 216.40,243.03 216.90,243.09 217.40,243.92 217.90,243.05 218.40,243.05 218.90,243.16 219.40,243.65 219.90,244.07 220.40,243.80 220.90,244.07 221.40,243.08 221.90,243.02 222.40,244.06 222.90,243.47 223.40,244.01 223.90,243.54 224.40,243.30 224.90,243.44 225.40,243.23 225.90,244.33 226.40,243.91 226.90,243.61 227.40,243.76 227.90,243.68 228.40,243.25 228.90,244.39 229.40,243.99 229.90,244.51 230.40,243.82 230.90,244.08 231.40,243.59 231.90,243.32 232.40,244.53 232.90,244.44 233.40,243.73 233.90,244.53 234.40,244.43 234.90,243.75 235.40,244.17 235.90,244.66 236.40,244.05 236.90,244.67 237.40,243.73 237.90,243.94" fill="none" stroke="#564f4f" stroke-width="3.4" stroke-linejoin="round" stroke-linecap="round" />
<path d="M143.9,240.1L147.9,244.1M143.9,244.1L147.9,240.1M145.4,240.3L149.4,244.2M145.4,244.2L149.4,240.3M146.9,239.7L150.9,243.6M146.9,243.6L150.9,239.7M148.4,239.4L152.4,243.3M148.4,243.3L152.4,239.4M149.9,240.3L153.9,244.2M149.9,244.2L153.9,240.3M151.4,239.8L155.4,243.7M151.4,243.7L155.4,239.8M152.9,240.5L156.9,244.4M152.9,244.4L156.9,240.5M154.4,240.4L158.4,244.3M154.4,244.3L158.4,240.4M155.9,240.1L159.9,244.0M155.9,244.0L159.9,240.1M157.4,240.7L161.4,244.6M157.4,244.6L161.4,240.7M158.9,239.5L162.9,243.4M158.9,243.4L162.9,239.5M160.4,240.2L164.4,244.1M160.4,244.1L164.4,240.2M161.9,240.1L165.9,244.0M161.9,244.0L165.9,240.1M163.4,240.4L167.4,244.3M163.4,244.3L167.4,240.4M164.9,240.3L168.9,244.2M164.9,244.2L168.9,240.3M166.4,240.2L170.4,244.1M166.4,244.1L170.4,240.2M167.9,240.2L171.9,244.1M167.9,244.1L171.9,240.2M169.4,240.4L173.4,244.4M169.4,244.4L173.4,240.4M170.9,240.2L174.9,244.1M170.9,244.1L174.9,240.2M172.4,240.6L176.4,244.5M172.4,244.5L176.4,240.6M173.9,240.3L177.9,244.2M173.9,244.2L177.9,240.3M175.4,241.2L179.4,245.1M175.4,245.1L179.4,241.2M176.9,241.1L180.9,245.0M176.9,245.0L180.9,241.1M178.4,240.6L182.4,244.5M178.4,244.5L182.4,240.6M179.9,240.7L183.9,244.6M179.9,244.6L183.9,240.7M181.4,239.8L185.4,243.7M181.4,243.7L185.4,239.8M182.9,238.7L186.9,242.7M182.9,242.7L186.9,238.7M184.4,237.3L188.4,241.2M184.4,241.2L188.4,237.3M185.9,235.7L189.9,239.6M185.9,239.6L189.9,235.7M187.4,233.7L191.4,237.6M187.4,237.6L191.4,233.7M188.9,232.7L192.9,236.7M188.9,236.7L192.9,232.7M190.4,231.0L194.4,235.0M190.4,235.0L194.4,231.0M191.9,230.2L195.9,234.1M191.9,234.1L195.9,230.2M193.4,229.4L197.4,233.3M193.4,233.3L197.4,229.4M194.9,230.0L198.9,233.9M194.9,233.9L198.9,230.0M196.4,230.6L200.4,234.5M196.4,234.5L200.4,230.6M197.9,232.3L201.9,236.2M197.9,236.2L201.9,232.3M199.4,233.7L203.4,237.6M199.4,237.6L203.4,233.7M200.9,236.8L204.9,240.7M200.9,240.7L204.9,236.8M202.4,239.1L206.4,243.1M202.4,243.1L206.4,239.1M203.9,241.0L207.9,244.9M203.9,244.9L207.9,241.0M205.4,240.9L209.4,244.8M205.4,244.8L209.4,240.9M206.9,241.5L210.9,245.5M206.9,245.5L210.9,241.5M208.4,241.9L212.4,245.8M208.4,245.8L212.4,241.9M209.9,241.1L213.9,245.0M209.9,245.0L213.9,241.1M211.4,241.2L215.4,245.1M211.4,245.1L215.4,241.2M212.9,242.2L216.9,246.1M212.9,246.1L216.9,242.2M214.4,241.1L218.4,245.0M214.4,245.0L218.4,241.1M215.9,241.1L219.9,245.0M215.9,245.0L219.9,241.1M217.4,241.7L221.4,245.6M217.4,245.6L221.4,241.7M218.9,242.1L222.9,246.0M218.9,246.0L222.9,242.1M220.4,242.1L224.4,246.0M220.4,246.0L224.4,242.1M221.9,241.6L225.9,245.5M221.9,245.5L225.9,241.6M223.4,241.3L227.4,245.2M223.4,245.2L227.4,241.3M224.9,241.6L228.9,245.6M224.9,245.6L228.9,241.6M226.4,241.3L230.4,245.2M226.4,245.2L230.4,241.3M227.9,242.5L231.9,246.5M227.9,246.5L231.9,242.5M229.4,241.6L233.4,245.5M229.4,245.5L233.4,241.6M230.9,242.5L234.9,246.4M230.9,246.4L234.9,242.5M232.4,242.5L236.4,246.4M232.4,246.4L236.4,242.5M233.9,242.7L237.9,246.6M233.9,246.6L237.9,242.7M235.4,241.8L239.4,245.7M235.4,245.7L239.4,241.8" fill="none" stroke="#564f4f" stroke-width="0.8"/>
<polyline points="144.40,258.00 144.90,257.56 145.40,257.66 145.90,258.18 146.40,257.85 146.90,258.14 147.40,257.66 147.90,257.61 148.40,257.80 148.90,257.66 149.40,258.38 149.90,257.78 150.40,258.04 150.90,257.65 151.40,258.05 151.90,257.93 152.40,257.96 152.90,257.67 153.40,257.74 153.90,258.39 154.40,257.98 154.90,257.90 155.40,257.86 155.90,257.96 156.40,257.93 156.90,257.77 157.40,258.35 157.90,258.07 158.40,257.92 158.90,258.43 159.40,257.90 159.90,258.07 160.40,258.60 160.90,257.98 161.40,258.27 161.90,258.64 162.40,258.63 162.90,258.07 163.40,258.26 163.90,258.60 164.40,258.31 164.90,258.85 165.40,258.19 165.90,258.87 166.40,258.48 166.90,258.25 167.40,258.47 167.90,258.19 168.40,258.73 168.90,258.34 169.40,258.93 169.90,258.67 170.40,258.49 170.90,258.39 171.40,258.73 171.90,258.39 172.40,259.00 172.90,258.34 173.40,258.71 173.90,258.75 174.40,258.52 174.90,258.99 175.40,258.65 175.90,258.91 176.40,258.84 176.90,258.62 177.40,258.70 177.90,258.44 178.40,258.52 178.90,259.13 179.40,258.64 179.90,258.92 180.40,258.39 180.90,258.74 181.40,258.49 181.90,258.51 182.40,258.19 182.90,257.80 183.40,257.80 183.90,257.44 184.40,257.02 184.90,257.16 185.40,256.31 185.90,255.89 186.40,255.77 186.90,255.02 187.40,254.45 187.90,253.74 188.40,252.37 188.90,251.80 189.40,250.90 189.90,250.85 190.40,250.24 190.90,249.43 191.40,249.02 191.90,248.83 192.40,248.52 192.90,247.81 193.40,248.08 193.90,247.39 194.40,247.42 194.90,246.81 195.40,246.57 195.90,247.14 196.40,246.87 196.90,246.82 197.40,246.27 197.90,246.45 198.40,246.86 198.90,247.35 199.40,248.04 199.90,248.84 200.40,249.38 200.90,250.56 201.40,251.84 201.90,252.45 202.40,254.04 202.90,254.76 203.40,255.78 203.90,256.16 204.40,257.03 204.90,257.85 205.40,258.05 205.90,258.14 206.40,259.21 206.90,259.41 207.40,259.16 207.90,259.08 208.40,259.92 208.90,259.77 209.40,259.33 209.90,259.55 210.40,259.46 210.90,260.10 211.40,259.60 211.90,260.25 212.40,260.12 212.90,259.54 213.40,260.11 213.90,259.85 214.40,260.19 214.90,260.28 215.40,259.80 215.90,259.64 216.40,260.43 216.90,259.97 217.40,260.44 217.90,260.24 218.40,260.30 218.90,260.40 219.40,260.23 219.90,260.09 220.40,259.75 220.90,260.34 221.40,260.12 221.90,260.21 222.40,260.60 222.90,259.89 223.40,260.48 223.90,259.85 224.40,260.46 224.90,260.56 225.40,260.09 225.90,260.36 226.40,260.76 226.90,260.47 227.40,260.41 227.90,260.16 228.40,260.00 228.90,260.28 229.40,260.35 229.90,260.17 230.40,260.29 230.90,260.15 231.40,260.68 231.90,260.66 232.40,260.28 232.90,260.30 233.40,260.57 233.90,260.52 234.40,260.97 234.90,260.46 235.40,260.43 235.90,260.98 236.40,260.32 236.90,260.72 237.40,260.53 237.90,260.97" fill="none" stroke="#68b234" stroke-width="3.5" stroke-linejoin="round" stroke-linecap="round" />
<polyline points="144.40,274.14 144.90,274.35 145.40,273.83 145.90,274.29 146.40,274.24 146.90,274.13 147.40,274.42 147.90,274.49 148.40,273.86 148.90,274.03 149.40,274.11 149.90,273.98 150.40,273.86 150.90,274.08 151.40,274.01 151.90,274.48 152.40,274.27 152.90,273.98 153.40,274.18 153.90,274.32 154.40,274.24 154.90,274.08 155.40,274.01 155.90,273.97 156.40,274.86 156.90,274.66 157.40,274.07 157.90,274.66 158.40,274.91 158.90,274.54 159.40,274.15 159.90,274.50 160.40,274.47 160.90,274.26 161.40,274.59 161.90,274.12 162.40,274.96 162.90,274.72 163.40,274.72 163.90,275.01 164.40,274.77 164.90,274.42 165.40,274.43 165.90,274.35 166.40,274.26 166.90,274.95 167.40,275.02 167.90,274.54 168.40,274.46 168.90,274.88 169.40,275.08 169.90,275.16 170.40,274.49 170.90,275.06 171.40,275.12 171.90,275.05 172.40,274.69 172.90,274.58 173.40,275.17 173.90,274.72 174.40,274.78 174.90,274.96 175.40,274.81 175.90,275.23 176.40,274.71 176.90,274.54 177.40,275.02 177.90,275.08 178.40,275.25 178.90,275.14 179.40,275.31 179.90,275.31 180.40,274.87 180.90,274.81 181.40,274.41 181.90,274.42 182.40,274.52 182.90,273.87 183.40,274.17 183.90,273.39 184.40,273.27 184.90,273.30 185.40,272.00 185.90,271.38 186.40,271.10 186.90,270.18 187.40,269.92 187.90,268.51 188.40,268.48 188.90,267.72 189.40,266.91 189.90,265.87 190.40,265.09 190.90,264.84 191.40,264.19 191.90,263.66 192.40,263.19 192.90,262.94 193.40,262.85 193.90,262.73 194.40,262.55 194.90,261.66 195.40,261.57 195.90,261.53 196.40,261.52 196.90,261.29 197.40,261.21 197.90,261.30 198.40,261.85 198.90,262.46 199.40,263.57 199.90,264.32 200.40,265.21 200.90,266.33 201.40,267.41 201.90,268.21 202.40,269.48 202.90,269.86 203.40,271.39 203.90,272.20 204.40,272.69 204.90,273.59 205.40,274.48 205.90,274.50 206.40,275.00 206.90,274.95 207.40,275.20 207.90,275.84 208.40,275.18 208.90,275.41 209.40,275.91 209.90,275.75 210.40,275.45 210.90,276.00 211.40,275.76 211.90,275.97 212.40,275.83 212.90,275.95 213.40,276.00 213.90,275.86 214.40,275.62 214.90,275.69 215.40,276.34 215.90,276.05 216.40,275.67 216.90,276.36 217.40,275.82 217.90,275.69 218.40,276.10 218.90,275.86 219.40,276.09 219.90,276.16 220.40,275.88 220.90,276.20 221.40,275.80 221.90,276.18 222.40,276.26 222.90,275.81 223.40,276.12 223.90,275.83 224.40,276.18 224.90,276.57 225.40,276.30 225.90,276.47 226.40,276.52 226.90,275.95 227.40,276.75 227.90,276.52 228.40,275.98 228.90,276.65 229.40,276.27 229.90,276.08 230.40,276.81 230.90,276.46 231.40,276.67 231.90,276.11 232.40,276.69 232.90,276.06 233.40,276.24 233.90,276.37 234.40,276.06 234.90,276.60 235.40,276.27 235.90,276.36 236.40,276.74 236.90,276.50 237.40,276.93 237.90,276.70" fill="none" stroke="#7597cc" stroke-width="3.8" stroke-linejoin="round" stroke-linecap="round" />
<polyline points="144.40,274.14 144.90,274.35 145.40,273.83 145.90,274.29 146.40,274.24 146.90,274.13 147.40,274.42 147.90,274.49 148.40,273.86 148.90,274.03 149.40,274.11 149.90,273.98 150.40,273.86 150.90,274.08 151.40,274.01 151.90,274.48 152.40,274.27 152.90,273.98 153.40,274.18 153.90,274.32 154.40,274.24 154.90,274.08 155.40,274.01 155.90,273.97 156.40,274.86 156.90,274.66 157.40,274.07 157.90,274.66 158.40,274.91 158.90,274.54 159.40,274.15 159.90,274.50 160.40,274.47 160.90,274.26 161.40,274.59 161.90,274.12 162.40,274.96 162.90,274.72 163.40,274.72 163.90,275.01 164.40,274.77 164.90,274.42 165.40,274.43 165.90,274.35 166.40,274.26 166.90,274.95 167.40,275.02 167.90,274.54 168.40,274.46 168.90,274.88 169.40,275.08 169.90,275.16 170.40,274.49 170.90,275.06 171.40,275.12 171.90,275.05 172.40,274.69 172.90,274.58 173.40,275.17 173.90,274.72 174.40,274.78 174.90,274.96 175.40,274.81 175.90,275.23 176.40,274.71 176.90,274.54 177.40,275.02 177.90,275.08 178.40,275.25 178.90,275.14 179.40,275.31 179.90,275.31 180.40,274.87 180.90,274.81 181.40,274.41 181.90,274.42 182.40,274.52 182.90,273.87 183.40,274.17 183.90,273.39 184.40,273.27 184.90,273.30 185.40,272.00 185.90,271.38 186.40,271.10 186.90,270.18 187.40,269.92 187.90,268.51 188.40,268.48 188.90,267.72 189.40,266.91 189.90,265.87 190.40,265.09 190.90,264.84 191.40,264.19 191.90,263.66 192.40,263.19 192.90,262.94 193.40,262.85 193.90,262.73 194.40,262.55 194.90,261.66 195.40,261.57 195.90,261.53 196.40,261.52 196.90,261.29 197.40,261.21 197.90,261.30 198.40,261.85 198.90,262.46 199.40,263.57 199.90,264.32 200.40,265.21 200.90,266.33 201.40,267.41 201.90,268.21 202.40,269.48 202.90,269.86 203.40,271.39 203.90,272.20 204.40,272.69 204.90,273.59 205.40,274.48 205.90,274.50 206.40,275.00 206.90,274.95 207.40,275.20 207.90,275.84 208.40,275.18 208.90,275.41 209.40,275.91 209.90,275.75 210.40,275.45 210.90,276.00 211.40,275.76 211.90,275.97 212.40,275.83 212.90,275.95 213.40,276.00 213.90,275.86 214.40,275.62 214.90,275.69 215.40,276.34 215.90,276.05 216.40,275.67 216.90,276.36 217.40,275.82 217.90,275.69 218.40,276.10 218.90,275.86 219.40,276.09 219.90,276.16 220.40,275.88 220.90,276.20 221.40,275.80 221.90,276.18 222.40,276.26 222.90,275.81 223.40,276.12 223.90,275.83 224.40,276.18 224.90,276.57 225.40,276.30 225.90,276.47 226.40,276.52 226.90,275.95 227.40,276.75 227.90,276.52 228.40,275.98 228.90,276.65 229.40,276.27 229.90,276.08 230.40,276.81 230.90,276.46 231.40,276.67 231.90,276.11 232.40,276.69 232.90,276.06 233.40,276.24 233.90,276.37 234.40,276.06 234.90,276.60 235.40,276.27 235.90,276.36 236.40,276.74 236.90,276.50 237.40,276.93 237.90,276.70" fill="none" stroke="#9cb4df" stroke-width="0.9" stroke-linejoin="round" stroke-linecap="round" />
<polyline points="144.40,290.77 144.90,290.23 145.40,290.88 145.90,290.81 146.40,289.56 146.90,290.61 147.40,289.90 147.90,290.68 148.40,290.54 148.90,290.82 149.40,289.56 149.90,290.03 150.40,290.70 150.90,291.09 151.40,290.70 151.90,289.49 152.40,290.52 152.90,289.62 153.40,290.45 153.90,290.92 154.40,289.69 154.90,291.17 155.40,290.73 155.90,289.99 156.40,289.89 156.90,290.36 157.40,291.08 157.90,290.64 158.40,289.81 158.90,289.66 159.40,289.83 159.90,291.09 160.40,289.99 160.90,290.67 161.40,290.21 161.90,290.94 162.40,290.40 162.90,289.99 163.40,291.32 163.90,290.73 164.40,291.02 164.90,291.24 165.40,291.51 165.90,289.84 166.40,290.45 166.90,290.12 167.40,290.77 167.90,291.45 168.40,291.33 168.90,289.97 169.40,290.25 169.90,291.41 170.40,291.17 170.90,290.67 171.40,290.83 171.90,290.28 172.40,291.53 172.90,290.73 173.40,291.61 173.90,291.15 174.40,290.20 174.90,290.67 175.40,290.48 175.90,291.71 176.40,291.17 176.90,290.20 177.40,290.44 177.90,290.79 178.40,290.98 178.90,291.17 179.40,290.81 179.90,290.72 180.40,290.05 180.90,291.02 181.40,290.49 181.90,289.81 182.40,290.44 182.90,291.18 183.40,289.23 183.90,289.09 184.40,289.65 184.90,288.49 185.40,287.96 185.90,287.78 186.40,286.69 186.90,286.53 187.40,285.70 187.90,285.68 188.40,284.94 188.90,282.41 189.40,282.59 189.90,282.24 190.40,281.75 190.90,280.97 191.40,280.18 191.90,279.72 192.40,278.83 192.90,278.33 193.40,278.95 193.90,278.82 194.40,278.68 194.90,277.98 195.40,277.09 195.90,277.75 196.40,277.58 196.90,277.13 197.40,277.42 197.90,277.10 198.40,277.80 198.90,278.05 199.40,278.10 199.90,279.42 200.40,280.35 200.90,282.61 201.40,282.82 201.90,283.76 202.40,284.67 202.90,285.74 203.40,286.95 203.90,287.47 204.40,288.03 204.90,290.26 205.40,290.07 205.90,290.51 206.40,291.09 206.90,290.89 207.40,290.86 207.90,290.84 208.40,291.38 208.90,291.48 209.40,292.29 209.90,292.02 210.40,292.75 210.90,291.71 211.40,292.78 211.90,292.19 212.40,291.30 212.90,291.49 213.40,292.23 213.90,292.98 214.40,291.86 214.90,292.62 215.40,292.01 215.90,292.82 216.40,291.39 216.90,292.16 217.40,292.92 217.90,291.81 218.40,291.79 218.90,291.39 219.40,291.66 219.90,291.86 220.40,292.66 220.90,291.79 221.40,292.14 221.90,291.79 222.40,292.53 222.90,293.01 223.40,292.64 223.90,291.84 224.40,292.82 224.90,293.25 225.40,292.61 225.90,291.69 226.40,293.02 226.90,293.15 227.40,292.20 227.90,291.85 228.40,291.96 228.90,292.60 229.40,293.22 229.90,292.81 230.40,293.34 230.90,292.07 231.40,292.29 231.90,293.07 232.40,292.90 232.90,292.48 233.40,292.98 233.90,292.38 234.40,291.89 234.90,292.55 235.40,291.90 235.90,292.96 236.40,292.45 236.90,292.75 237.40,292.95 237.90,292.35" fill="none" stroke="#878a2e" stroke-width="3.5" stroke-linejoin="round" stroke-linecap="round" />
<path d="M145.4,288.2V293.6M143.1,289.5L147.7,292.2M143.1,292.2L147.7,289.5M146.4,286.9V292.3M144.1,288.2L148.7,290.9M144.1,290.9L148.7,288.2M147.4,287.2V292.6M145.1,288.6L149.7,291.3M145.1,291.3L149.7,288.6M148.4,287.8V293.2M146.1,289.2L150.7,291.9M146.1,291.9L150.7,289.2M149.4,286.9V292.3M147.1,288.2L151.7,290.9M147.1,290.9L151.7,288.2M150.4,288.0V293.4M148.1,289.3L152.7,292.0M148.1,292.0L152.7,289.3M151.4,288.0V293.4M149.1,289.4L153.7,292.1M149.1,292.1L153.7,289.4M152.4,287.8V293.2M150.1,289.2L154.7,291.9M150.1,291.9L154.7,289.2M153.4,287.7V293.1M151.1,289.1L155.7,291.8M151.1,291.8L155.7,289.1M154.4,287.0V292.4M152.1,288.3L156.7,291.0M152.1,291.0L156.7,288.3M155.4,288.0V293.4M153.1,289.4L157.7,292.1M153.1,292.1L157.7,289.4M156.4,287.2V292.6M154.1,288.5L158.7,291.2M154.1,291.2L158.7,288.5M157.4,288.4V293.8M155.1,289.7L159.7,292.4M155.1,292.4L159.7,289.7M158.4,287.1V292.5M156.1,288.5L160.7,291.2M156.1,291.2L160.7,288.5M159.4,287.1V292.5M157.1,288.5L161.7,291.2M157.1,291.2L161.7,288.5M160.4,287.3V292.7M158.1,288.6L162.7,291.3M158.1,291.3L162.7,288.6M161.4,287.5V292.9M159.1,288.9L163.7,291.6M159.1,291.6L163.7,288.9M162.4,287.7V293.1M160.1,289.1L164.7,291.8M160.1,291.8L164.7,289.1M163.4,288.6V294.0M161.1,290.0L165.7,292.7M161.1,292.7L165.7,290.0M164.4,288.3V293.7M162.1,289.7L166.7,292.4M162.1,292.4L166.7,289.7M165.4,288.8V294.2M163.1,290.2L167.7,292.9M163.1,292.9L167.7,290.2M166.4,287.7V293.1M164.1,289.1L168.7,291.8M164.1,291.8L168.7,289.1M167.4,288.1V293.5M165.1,289.4L169.7,292.1M165.1,292.1L169.7,289.4M168.4,288.6V294.0M166.1,290.0L170.7,292.7M166.1,292.7L170.7,290.0M169.4,287.5V292.9M167.1,288.9L171.7,291.6M167.1,291.6L171.7,288.9M170.4,288.5V293.9M168.1,289.8L172.7,292.5M168.1,292.5L172.7,289.8M171.4,288.1V293.5M169.1,289.5L173.7,292.2M169.1,292.2L173.7,289.5M172.4,288.8V294.2M170.1,290.2L174.7,292.9M170.1,292.9L174.7,290.2M173.4,288.9V294.3M171.1,290.3L175.7,293.0M171.1,293.0L175.7,290.3M174.4,287.5V292.9M172.1,288.8L176.7,291.5M172.1,291.5L176.7,288.8M175.4,287.8V293.2M173.1,289.1L177.7,291.8M173.1,291.8L177.7,289.1M176.4,288.5V293.9M174.1,289.8L178.7,292.5M174.1,292.5L178.7,289.8M177.4,287.7V293.1M175.1,289.1L179.7,291.8M175.1,291.8L179.7,289.1M178.4,288.3V293.7M176.1,289.6L180.7,292.3M176.1,292.3L180.7,289.6M179.4,288.1V293.5M177.1,289.5L181.7,292.2M177.1,292.2L181.7,289.5M180.4,287.4V292.8M178.1,288.7L182.7,291.4M178.1,291.4L182.7,288.7M181.4,287.8V293.2M179.1,289.1L183.7,291.8M179.1,291.8L183.7,289.1M182.4,287.7V293.1M180.1,289.1L184.7,291.8M180.1,291.8L184.7,289.1M183.4,286.5V291.9M181.1,287.9L185.7,290.6M181.1,290.6L185.7,287.9M184.4,287.0V292.4M182.1,288.3L186.7,291.0M182.1,291.0L186.7,288.3M185.4,285.3V290.7M183.1,286.6L187.7,289.3M183.1,289.3L187.7,286.6M186.4,284.0V289.4M184.1,285.3L188.7,288.0M184.1,288.0L188.7,285.3M187.4,283.0V288.4M185.1,284.3L189.7,287.0M185.1,287.0L189.7,284.3M188.4,282.2V287.6M186.1,283.6L190.7,286.3M186.1,286.3L190.7,283.6M189.4,279.9V285.3M187.1,281.2L191.7,283.9M187.1,283.9L191.7,281.2M190.4,279.0V284.4M188.1,280.4L192.7,283.1M188.1,283.1L192.7,280.4M191.4,277.5V282.9M189.1,278.8L193.7,281.5M189.1,281.5L193.7,278.8M192.4,276.1V281.5M190.1,277.5L194.7,280.2M190.1,280.2L194.7,277.5M193.4,276.3V281.7M191.1,277.6L195.7,280.3M191.1,280.3L195.7,277.6M194.4,276.0V281.4M192.1,277.3L196.7,280.0M192.1,280.0L196.7,277.3M195.4,274.4V279.8M193.1,275.7L197.7,278.4M193.1,278.4L197.7,275.7M196.4,274.9V280.3M194.1,276.2L198.7,278.9M194.1,278.9L198.7,276.2M197.4,274.7V280.1M195.1,276.1L199.7,278.8M195.1,278.8L199.7,276.1M198.4,275.1V280.5M196.1,276.5L200.7,279.2M196.1,279.2L200.7,276.5M199.4,275.4V280.8M197.1,276.7L201.7,279.4M197.1,279.4L201.7,276.7M200.4,277.7V283.1M198.1,279.0L202.7,281.7M198.1,281.7L202.7,279.0M201.4,280.1V285.5M199.1,281.5L203.7,284.2M199.1,284.2L203.7,281.5M202.4,282.0V287.4M200.1,283.3L204.7,286.0M200.1,286.0L204.7,283.3M203.4,284.2V289.6M201.1,285.6L205.7,288.3M201.1,288.3L205.7,285.6M204.4,285.3V290.7M202.1,286.7L206.7,289.4M202.1,289.4L206.7,286.7M205.4,287.4V292.8M203.1,288.7L207.7,291.4M203.1,291.4L207.7,288.7M206.4,288.4V293.8M204.1,289.7L208.7,292.4M204.1,292.4L208.7,289.7M207.4,288.2V293.6M205.1,289.5L209.7,292.2M205.1,292.2L209.7,289.5M208.4,288.7V294.1M206.1,290.0L210.7,292.7M206.1,292.7L210.7,290.0M209.4,289.6V295.0M207.1,290.9L211.7,293.6M207.1,293.6L211.7,290.9M210.4,290.1V295.5M208.1,291.4L212.7,294.1M208.1,294.1L212.7,291.4M211.4,290.1V295.5M209.1,291.4L213.7,294.1M209.1,294.1L213.7,291.4M212.4,288.6V294.0M210.1,289.9L214.7,292.6M210.1,292.6L214.7,289.9M213.4,289.5V294.9M211.1,290.9L215.7,293.6M211.1,293.6L215.7,290.9M214.4,289.2V294.6M212.1,290.5L216.7,293.2M212.1,293.2L216.7,290.5M215.4,289.3V294.7M213.1,290.7L217.7,293.4M213.1,293.4L217.7,290.7M216.4,288.7V294.1M214.1,290.0L218.7,292.7M214.1,292.7L218.7,290.0M217.4,290.2V295.6M215.1,291.6L219.7,294.3M215.1,294.3L219.7,291.6M218.4,289.1V294.5M216.1,290.4L220.7,293.1M216.1,293.1L220.7,290.4M219.4,289.0V294.4M217.1,290.3L221.7,293.0M217.1,293.0L221.7,290.3M220.4,290.0V295.4M218.1,291.3L222.7,294.0M218.1,294.0L222.7,291.3M221.4,289.4V294.8M219.1,290.8L223.7,293.5M219.1,293.5L223.7,290.8M222.4,289.8V295.2M220.1,291.2L224.7,293.9M220.1,293.9L224.7,291.2M223.4,289.9V295.3M221.1,291.3L225.7,294.0M221.1,294.0L225.7,291.3M224.4,290.1V295.5M222.1,291.5L226.7,294.2M222.1,294.2L226.7,291.5M225.4,289.9V295.3M223.1,291.3L227.7,294.0M223.1,294.0L227.7,291.3M226.4,290.3V295.7M224.1,291.7L228.7,294.4M224.1,294.4L228.7,291.7M227.4,289.5V294.9M225.1,290.9L229.7,293.6M225.1,293.6L229.7,290.9M228.4,289.3V294.7M226.1,290.6L230.7,293.3M226.1,293.3L230.7,290.6M229.4,290.5V295.9M227.1,291.9L231.7,294.6M227.1,294.6L231.7,291.9M230.4,290.6V296.0M228.1,292.0L232.7,294.7M228.1,294.7L232.7,292.0M231.4,289.6V295.0M229.1,290.9L233.7,293.6M229.1,293.6L233.7,290.9M232.4,290.2V295.6M230.1,291.6L234.7,294.3M230.1,294.3L234.7,291.6M233.4,290.3V295.7M231.1,291.6L235.7,294.3M231.1,294.3L235.7,291.6M234.4,289.2V294.6M232.1,290.5L236.7,293.2M232.1,293.2L236.7,290.5M235.4,289.2V294.6M233.1,290.6L237.7,293.3M233.1,293.3L237.7,290.6M236.4,289.8V295.2M234.1,291.1L238.7,293.8M234.1,293.8L238.7,291.1M237.4,290.3V295.7M235.1,291.6L239.7,294.3M235.1,294.3L239.7,291.6" fill="none" stroke="#878a2e" stroke-width="0.8"/>
<polyline points="144.40,308.04 144.90,307.37 145.40,308.77 145.90,308.23 146.40,308.89 146.90,307.48 147.40,308.34 147.90,308.52 148.40,307.93 148.90,307.58 149.40,307.69 149.90,307.68 150.40,308.64 150.90,307.62 151.40,308.74 151.90,308.15 152.40,308.34 152.90,308.43 153.40,308.39 153.90,308.55 154.40,308.48 154.90,308.08 155.40,308.72 155.90,307.99 156.40,308.69 156.90,308.78 157.40,308.81 157.90,308.11 158.40,308.83 158.90,309.16 159.40,308.36 159.90,308.11 160.40,308.49 160.90,309.14 161.40,307.92 161.90,307.74 162.40,308.47 162.90,308.75 163.40,308.94 163.90,308.33 164.40,309.30 164.90,308.14 165.40,308.96 165.90,307.95 166.40,307.87 166.90,308.04 167.40,307.94 167.90,308.63 168.40,308.72 168.90,308.16 169.40,309.33 169.90,308.47 170.40,308.15 170.90,308.20 171.40,309.07 171.90,309.36 172.40,308.21 172.90,308.02 173.40,309.17 173.90,308.37 174.40,309.51 174.90,308.78 175.40,309.00 175.90,308.56 176.40,309.27 176.90,308.75 177.40,308.55 177.90,309.44 178.40,308.21 178.90,309.16 179.40,308.11 179.90,308.97 180.40,308.54 180.90,309.17 181.40,307.84 181.90,308.47 182.40,308.06 182.90,308.61 183.40,308.36 183.90,307.52 184.40,306.47 184.90,306.01 185.40,305.45 185.90,305.05 186.40,304.01 186.90,303.17 187.40,303.18 187.90,302.13 188.40,300.71 188.90,300.89 189.40,298.84 189.90,298.57 190.40,297.20 190.90,297.60 191.40,297.02 191.90,295.58 192.40,295.87 192.90,295.60 193.40,294.43 193.90,294.19 194.40,294.15 194.90,294.50 195.40,293.15 195.90,293.75 196.40,293.48 196.90,293.21 197.40,293.47 197.90,294.14 198.40,293.49 198.90,295.07 199.40,295.01 199.90,296.55 200.40,297.73 200.90,297.85 201.40,300.13 201.90,301.59 202.40,301.77 202.90,302.54 203.40,303.78 203.90,306.09 204.40,305.48 204.90,307.60 205.40,307.05 205.90,308.44 206.40,307.86 206.90,308.27 207.40,309.29 207.90,308.55 208.40,309.06 208.90,310.04 209.40,309.79 209.90,310.09 210.40,310.28 210.90,308.85 211.40,309.18 211.90,310.05 212.40,309.91 212.90,308.92 213.40,309.65 213.90,309.24 214.40,309.56 214.90,309.07 215.40,308.95 215.90,310.45 216.40,309.43 216.90,310.30 217.40,309.15 217.90,309.73 218.40,309.20 218.90,309.66 219.40,309.29 219.90,310.07 220.40,309.26 220.90,310.18 221.40,309.82 221.90,309.24 222.40,309.62 222.90,309.85 223.40,310.51 223.90,309.65 224.40,309.46 224.90,310.62 225.40,310.50 225.90,310.28 226.40,309.59 226.90,309.45 227.40,309.60 227.90,309.31 228.40,309.28 228.90,310.01 229.40,309.86 229.90,310.10 230.40,309.82 230.90,309.29 231.40,310.34 231.90,310.29 232.40,310.14 232.90,310.16 233.40,310.38 233.90,310.84 234.40,310.69 234.90,310.46 235.40,309.98 235.90,309.87 236.40,310.04 236.90,310.89 237.40,310.01 237.90,310.02" fill="none" stroke="#45bab0" stroke-width="3.2" stroke-linejoin="round" stroke-linecap="round" />
<path d="M145.4,306.6V311.0M143.5,307.7L147.3,309.9M143.5,309.9L147.3,307.7M146.4,306.7V311.1M144.5,307.8L148.3,310.0M144.5,310.0L148.3,307.8M147.4,306.1V310.5M145.5,307.2L149.3,309.4M145.5,309.4L149.3,307.2M148.4,305.7V310.1M146.5,306.8L150.3,309.0M146.5,309.0L150.3,306.8M149.4,305.5V309.9M147.5,306.6L151.3,308.8M147.5,308.8L151.3,306.6M150.4,306.4V310.8M148.5,307.5L152.3,309.7M148.5,309.7L152.3,307.5M151.4,306.5V310.9M149.5,307.6L153.3,309.8M149.5,309.8L153.3,307.6M152.4,306.1V310.5M150.5,307.2L154.3,309.4M150.5,309.4L154.3,307.2M153.4,306.2V310.6M151.5,307.3L155.3,309.5M151.5,309.5L155.3,307.3M154.4,306.3V310.7M152.5,307.4L156.3,309.6M152.5,309.6L156.3,307.4M155.4,306.5V310.9M153.5,307.6L157.3,309.8M153.5,309.8L157.3,307.6M156.4,306.5V310.9M154.5,307.6L158.3,309.8M154.5,309.8L158.3,307.6M157.4,306.6V311.0M155.5,307.7L159.3,309.9M155.5,309.9L159.3,307.7M158.4,306.6V311.0M156.5,307.7L160.3,309.9M156.5,309.9L160.3,307.7M159.4,306.2V310.6M157.5,307.3L161.3,309.5M157.5,309.5L161.3,307.3M160.4,306.3V310.7M158.5,307.4L162.3,309.6M158.5,309.6L162.3,307.4M161.4,305.7V310.1M159.5,306.8L163.3,309.0M159.5,309.0L163.3,306.8M162.4,306.3V310.7M160.5,307.4L164.3,309.6M160.5,309.6L164.3,307.4M163.4,306.7V311.1M161.5,307.8L165.3,310.0M161.5,310.0L165.3,307.8M164.4,307.1V311.5M162.5,308.2L166.3,310.4M162.5,310.4L166.3,308.2M165.4,306.8V311.2M163.5,307.9L167.3,310.1M163.5,310.1L167.3,307.9M166.4,305.7V310.1M164.5,306.8L168.3,309.0M164.5,309.0L168.3,306.8M167.4,305.7V310.1M165.5,306.8L169.3,309.0M165.5,309.0L169.3,306.8M168.4,306.5V310.9M166.5,307.6L170.3,309.8M166.5,309.8L170.3,307.6M169.4,307.1V311.5M167.5,308.2L171.3,310.4M167.5,310.4L171.3,308.2M170.4,305.9V310.3M168.5,307.0L172.3,309.2M168.5,309.2L172.3,307.0M171.4,306.9V311.3M169.5,308.0L173.3,310.2M169.5,310.2L173.3,308.0M172.4,306.0V310.4M170.5,307.1L174.3,309.3M170.5,309.3L174.3,307.1M173.4,307.0V311.4M171.5,308.1L175.3,310.3M171.5,310.3L175.3,308.1M174.4,307.3V311.7M172.5,308.4L176.3,310.6M172.5,310.6L176.3,308.4M175.4,306.8V311.2M173.5,307.9L177.3,310.1M173.5,310.1L177.3,307.9M176.4,307.1V311.5M174.5,308.2L178.3,310.4M174.5,310.4L178.3,308.2M177.4,306.3V310.7M175.5,307.4L179.3,309.6M175.5,309.6L179.3,307.4M178.4,306.0V310.4M176.5,307.1L180.3,309.3M176.5,309.3L180.3,307.1M179.4,305.9V310.3M177.5,307.0L181.3,309.2M177.5,309.2L181.3,307.0M180.4,306.3V310.7M178.5,307.4L182.3,309.6M178.5,309.6L182.3,307.4M181.4,305.6V310.0M179.5,306.7L183.3,308.9M179.5,308.9L183.3,306.7M182.4,305.9V310.3M180.5,307.0L184.3,309.2M180.5,309.2L184.3,307.0M183.4,306.2V310.6M181.5,307.3L185.3,309.5M181.5,309.5L185.3,307.3M184.4,304.3V308.7M182.5,305.4L186.3,307.6M182.5,307.6L186.3,305.4M185.4,303.2V307.6M183.5,304.3L187.3,306.5M183.5,306.5L187.3,304.3M186.4,301.8V306.2M184.5,302.9L188.3,305.1M184.5,305.1L188.3,302.9M187.4,301.0V305.4M185.5,302.1L189.3,304.3M185.5,304.3L189.3,302.1M188.4,298.5V302.9M186.5,299.6L190.3,301.8M186.5,301.8L190.3,299.6M189.4,296.6V301.0M187.5,297.7L191.3,299.9M187.5,299.9L191.3,297.7M190.4,295.0V299.4M188.5,296.1L192.3,298.3M188.5,298.3L192.3,296.1M191.4,294.8V299.2M189.5,295.9L193.3,298.1M189.5,298.1L193.3,295.9M192.4,293.7V298.1M190.5,294.8L194.3,297.0M190.5,297.0L194.3,294.8M193.4,292.2V296.6M191.5,293.3L195.3,295.5M191.5,295.5L195.3,293.3M194.4,291.9V296.3M192.5,293.0L196.3,295.2M192.5,295.2L196.3,293.0M195.4,290.9V295.3M193.5,292.0L197.3,294.2M193.5,294.2L197.3,292.0M196.4,291.3V295.7M194.5,292.4L198.3,294.6M194.5,294.6L198.3,292.4M197.4,291.3V295.7M195.5,292.4L199.3,294.6M195.5,294.6L199.3,292.4M198.4,291.3V295.7M196.5,292.4L200.3,294.6M196.5,294.6L200.3,292.4M199.4,292.8V297.2M197.5,293.9L201.3,296.1M197.5,296.1L201.3,293.9M200.4,295.5V299.9M198.5,296.6L202.3,298.8M198.5,298.8L202.3,296.6M201.4,297.9V302.3M199.5,299.0L203.3,301.2M199.5,301.2L203.3,299.0M202.4,299.6V304.0M200.5,300.7L204.3,302.9M200.5,302.9L204.3,300.7M203.4,301.6V306.0M201.5,302.7L205.3,304.9M201.5,304.9L205.3,302.7M204.4,303.3V307.7M202.5,304.4L206.3,306.6M202.5,306.6L206.3,304.4M205.4,304.9V309.3M203.5,306.0L207.3,308.2M203.5,308.2L207.3,306.0M206.4,305.7V310.1M204.5,306.8L208.3,309.0M204.5,309.0L208.3,306.8M207.4,307.1V311.5M205.5,308.2L209.3,310.4M205.5,310.4L209.3,308.2M208.4,306.9V311.3M206.5,308.0L210.3,310.2M206.5,310.2L210.3,308.0M209.4,307.6V312.0M207.5,308.7L211.3,310.9M207.5,310.9L211.3,308.7M210.4,308.1V312.5M208.5,309.2L212.3,311.4M208.5,311.4L212.3,309.2M211.4,307.0V311.4M209.5,308.1L213.3,310.3M209.5,310.3L213.3,308.1M212.4,307.7V312.1M210.5,308.8L214.3,311.0M210.5,311.0L214.3,308.8M213.4,307.5V311.9M211.5,308.6L215.3,310.8M211.5,310.8L215.3,308.6M214.4,307.4V311.8M212.5,308.5L216.3,310.7M212.5,310.7L216.3,308.5M215.4,306.8V311.2M213.5,307.9L217.3,310.1M213.5,310.1L217.3,307.9M216.4,307.2V311.6M214.5,308.3L218.3,310.5M214.5,310.5L218.3,308.3M217.4,307.0V311.4M215.5,308.1L219.3,310.3M215.5,310.3L219.3,308.1M218.4,307.0V311.4M216.5,308.1L220.3,310.3M216.5,310.3L220.3,308.1M219.4,307.1V311.5M217.5,308.2L221.3,310.4M217.5,310.4L221.3,308.2M220.4,307.1V311.5M218.5,308.2L222.3,310.4M218.5,310.4L222.3,308.2M221.4,307.6V312.0M219.5,308.7L223.3,310.9M219.5,310.9L223.3,308.7M222.4,307.4V311.8M220.5,308.5L224.3,310.7M220.5,310.7L224.3,308.5M223.4,308.3V312.7M221.5,309.4L225.3,311.6M221.5,311.6L225.3,309.4M224.4,307.3V311.7M222.5,308.4L226.3,310.6M222.5,310.6L226.3,308.4M225.4,308.3V312.7M223.5,309.4L227.3,311.6M223.5,311.6L227.3,309.4M226.4,307.4V311.8M224.5,308.5L228.3,310.7M224.5,310.7L228.3,308.5M227.4,307.4V311.8M225.5,308.5L229.3,310.7M225.5,310.7L229.3,308.5M228.4,307.1V311.5M226.5,308.2L230.3,310.4M226.5,310.4L230.3,308.2M229.4,307.7V312.1M227.5,308.8L231.3,311.0M227.5,311.0L231.3,308.8M230.4,307.6V312.0M228.5,308.7L232.3,310.9M228.5,310.9L232.3,308.7M231.4,308.1V312.5M229.5,309.2L233.3,311.4M229.5,311.4L233.3,309.2M232.4,307.9V312.3M230.5,309.0L234.3,311.2M230.5,311.2L234.3,309.0M233.4,308.2V312.6M231.5,309.3L235.3,311.5M231.5,311.5L235.3,309.3M234.4,308.5V312.9M232.5,309.6L236.3,311.8M232.5,311.8L236.3,309.6M235.4,307.8V312.2M233.5,308.9L237.3,311.1M233.5,311.1L237.3,308.9M236.4,307.8V312.2M234.5,308.9L238.3,311.1M234.5,311.1L238.3,308.9M237.4,307.8V312.2M235.5,308.9L239.3,311.1M235.5,311.1L239.3,308.9" fill="none" stroke="#45bab0" stroke-width="0.7"/>
<polyline points="144.40,325.68 144.90,325.32 145.40,326.48 145.90,325.15 146.40,325.97 146.90,326.40 147.40,325.50 147.90,325.99 148.40,325.68 148.90,325.50 149.40,325.45 149.90,325.35 150.40,326.33 150.90,326.26 151.40,326.43 151.90,325.28 152.40,326.16 152.90,325.66 153.40,326.10 153.90,325.98 154.40,325.67 154.90,326.56 155.40,325.26 155.90,326.27 156.40,326.42 156.90,325.96 157.40,326.08 157.90,326.63 158.40,325.61 158.90,326.14 159.40,326.30 159.90,325.82 160.40,326.27 160.90,325.85 161.40,326.03 161.90,326.16 162.40,326.25 162.90,325.78 163.40,326.20 163.90,326.09 164.40,325.66 164.90,326.19 165.40,325.73 165.90,326.60 166.40,326.02 166.90,326.36 167.40,326.10 167.90,326.04 168.40,325.71 168.90,325.60 169.40,326.67 169.90,326.14 170.40,326.14 170.90,326.15 171.40,326.54 171.90,325.77 172.40,325.69 172.90,326.57 173.40,326.09 173.90,326.33 174.40,326.59 174.90,326.69 175.40,326.66 175.90,325.55 176.40,326.01 176.90,326.62 177.40,326.60 177.90,325.65 178.40,325.68 178.90,325.80 179.40,325.57 179.90,325.88 180.40,326.42 180.90,325.97 181.40,325.77 181.90,325.14 182.40,325.37 182.90,325.95 183.40,325.26 183.90,324.58 184.40,324.20 184.90,324.13 185.40,323.51 185.90,322.04 186.40,322.04 186.90,320.84 187.40,320.22 187.90,318.98 188.40,318.29 188.90,317.38 189.40,316.60 189.90,315.31 190.40,314.83 190.90,314.67 191.40,313.39 191.90,313.05 192.40,313.34 192.90,312.36 193.40,312.09 193.90,311.67 194.40,312.19 194.90,310.92 195.40,311.42 195.90,311.53 196.40,310.50 196.90,310.74 197.40,311.30 197.90,311.26 198.40,311.29 198.90,311.39 199.40,312.63 199.90,313.41 200.40,314.89 200.90,315.45 201.40,316.80 201.90,318.35 202.40,319.78 202.90,320.31 203.40,321.42 203.90,322.64 204.40,323.95 204.90,323.68 205.40,325.32 205.90,325.45 206.40,325.37 206.90,326.06 207.40,325.82 207.90,325.63 208.40,326.68 208.90,326.25 209.40,326.51 209.90,326.51 210.40,327.08 210.90,326.91 211.40,325.93 211.90,326.71 212.40,326.54 212.90,326.55 213.40,327.07 213.90,326.50 214.40,326.58 214.90,327.15 215.40,326.55 215.90,326.63 216.40,326.66 216.90,327.09 217.40,326.89 217.90,326.99 218.40,326.54 218.90,326.05 219.40,326.92 219.90,326.76 220.40,327.05 220.90,327.06 221.40,326.19 221.90,326.33 222.40,326.14 222.90,327.15 223.40,326.19 223.90,326.18 224.40,327.08 224.90,326.83 225.40,326.15 225.90,327.00 226.40,327.05 226.90,326.74 227.40,326.17 227.90,327.04 228.40,326.67 228.90,326.90 229.40,327.47 229.90,327.23 230.40,327.31 230.90,326.34 231.40,326.60 231.90,326.85 232.40,326.17 232.90,327.50 233.40,326.54 233.90,326.53 234.40,326.60 234.90,326.53 235.40,327.35 235.90,326.95 236.40,326.89 236.90,326.78 237.40,326.28 237.90,326.63" fill="none" stroke="#9a6ab6" stroke-width="3.8" stroke-linejoin="round" stroke-linecap="round" />
<polyline points="144.40,342.96 144.90,342.87 145.40,342.96 145.90,342.05 146.40,341.97 146.90,341.75 147.40,342.50 147.90,342.26 148.40,342.40 148.90,342.45 149.40,342.60 149.90,342.28 150.40,342.95 150.90,342.04 151.40,343.15 151.90,342.60 152.40,341.83 152.90,342.24 153.40,342.58 153.90,342.40 154.40,342.65 154.90,342.29 155.40,342.22 155.90,343.02 156.40,342.26 156.90,342.91 157.40,343.06 157.90,342.74 158.40,342.54 158.90,343.28 159.40,342.54 159.90,343.21 160.40,341.96 160.90,342.54 161.40,342.87 161.90,341.97 162.40,343.22 162.90,342.02 163.40,342.83 163.90,342.20 164.40,343.34 164.90,342.80 165.40,343.17 165.90,342.72 166.40,342.99 166.90,343.00 167.40,342.43 167.90,342.31 168.40,343.28 168.90,342.22 169.40,343.41 169.90,342.33 170.40,342.18 170.90,342.18 171.40,343.24 171.90,343.50 172.40,342.69 172.90,343.07 173.40,342.46 173.90,343.46 174.40,343.13 174.90,342.33 175.40,342.18 175.90,343.16 176.40,342.17 176.90,343.39 177.40,342.56 177.90,342.46 178.40,342.99 178.90,342.57 179.40,342.92 179.90,342.26 180.40,343.37 180.90,342.39 181.40,343.08 181.90,341.89 182.40,342.71 182.90,342.77 183.40,341.59 183.90,340.70 184.40,340.82 184.90,340.74 185.40,339.55 185.90,339.42 186.40,338.03 186.90,337.85 187.40,337.45 187.90,336.16 188.40,335.69 188.90,333.99 189.40,334.27 189.90,332.42 190.40,332.93 190.90,332.40 191.40,331.75 191.90,330.63 192.40,329.84 192.90,329.56 193.40,329.85 193.90,329.16 194.40,329.55 194.90,328.02 195.40,328.39 195.90,328.78 196.40,328.24 196.90,328.11 197.40,327.47 197.90,327.75 198.40,328.30 198.90,329.77 199.40,330.39 199.90,330.30 200.40,332.36 200.90,332.09 201.40,334.12 201.90,335.88 202.40,336.10 202.90,338.14 203.40,338.74 203.90,338.75 204.40,340.00 204.90,340.88 205.40,341.14 205.90,342.37 206.40,341.88 206.90,343.09 207.40,342.56 207.90,342.37 208.40,343.23 208.90,342.60 209.40,343.36 209.90,343.76 210.40,343.50 210.90,343.31 211.40,342.67 211.90,343.42 212.40,342.79 212.90,343.64 213.40,342.87 213.90,343.56 214.40,343.22 214.90,343.26 215.40,343.71 215.90,342.95 216.40,342.97 216.90,344.16 217.40,343.23 217.90,344.02 218.40,344.08 218.90,343.48 219.40,342.98 219.90,342.91 220.40,344.11 220.90,342.96 221.40,343.54 221.90,343.61 222.40,342.98 222.90,343.52 223.40,343.07 223.90,343.64 224.40,343.60 224.90,343.40 225.40,343.15 225.90,343.47 226.40,343.17 226.90,343.06 227.40,343.24 227.90,344.21 228.40,343.66 228.90,344.26 229.40,342.93 229.90,344.35 230.40,343.67 230.90,344.14 231.40,343.81 231.90,344.00 232.40,343.30 232.90,344.10 233.40,343.20 233.90,343.38 234.40,343.03 234.90,343.59 235.40,343.79 235.90,343.45 236.40,344.37 236.90,343.14 237.40,343.91 237.90,343.39" fill="none" stroke="#3f5ba8" stroke-width="3.4" stroke-linejoin="round" stroke-linecap="round" />
<path d="M145.4,340.6V345.4M143.3,341.8L147.5,344.2M143.3,344.2L147.5,341.8M146.4,339.6V344.4M144.3,340.8L148.5,343.2M144.3,343.2L148.5,340.8M147.4,340.1V344.9M145.3,341.3L149.5,343.7M145.3,343.7L149.5,341.3M148.4,340.0V344.8M146.3,341.2L150.5,343.6M146.3,343.6L150.5,341.2M149.4,340.2V345.0M147.3,341.4L151.5,343.8M147.3,343.8L151.5,341.4M150.4,340.6V345.4M148.3,341.8L152.5,344.2M148.3,344.2L152.5,341.8M151.4,340.7V345.5M149.3,341.9L153.5,344.3M149.3,344.3L153.5,341.9M152.4,339.4V344.2M150.3,340.6L154.5,343.0M150.3,343.0L154.5,340.6M153.4,340.2V345.0M151.3,341.4L155.5,343.8M151.3,343.8L155.5,341.4M154.4,340.2V345.0M152.3,341.4L156.5,343.8M152.3,343.8L156.5,341.4M155.4,339.8V344.6M153.3,341.0L157.5,343.4M153.3,343.4L157.5,341.0M156.4,339.9V344.7M154.3,341.1L158.5,343.5M154.3,343.5L158.5,341.1M157.4,340.7V345.5M155.3,341.9L159.5,344.3M155.3,344.3L159.5,341.9M158.4,340.1V344.9M156.3,341.3L160.5,343.7M156.3,343.7L160.5,341.3M159.4,340.1V344.9M157.3,341.3L161.5,343.7M157.3,343.7L161.5,341.3M160.4,339.6V344.4M158.3,340.8L162.5,343.2M158.3,343.2L162.5,340.8M161.4,340.5V345.3M159.3,341.7L163.5,344.1M159.3,344.1L163.5,341.7M162.4,340.8V345.6M160.3,342.0L164.5,344.4M160.3,344.4L164.5,342.0M163.4,340.4V345.2M161.3,341.6L165.5,344.0M161.3,344.0L165.5,341.6M164.4,340.9V345.7M162.3,342.1L166.5,344.5M162.3,344.5L166.5,342.1M165.4,340.8V345.6M163.3,342.0L167.5,344.4M163.3,344.4L167.5,342.0M166.4,340.6V345.4M164.3,341.8L168.5,344.2M164.3,344.2L168.5,341.8M167.4,340.0V344.8M165.3,341.2L169.5,343.6M165.3,343.6L169.5,341.2M168.4,340.9V345.7M166.3,342.1L170.5,344.5M166.3,344.5L170.5,342.1M169.4,341.0V345.8M167.3,342.2L171.5,344.6M167.3,344.6L171.5,342.2M170.4,339.8V344.6M168.3,341.0L172.5,343.4M168.3,343.4L172.5,341.0M171.4,340.8V345.6M169.3,342.0L173.5,344.4M169.3,344.4L173.5,342.0M172.4,340.3V345.1M170.3,341.5L174.5,343.9M170.3,343.9L174.5,341.5M173.4,340.1V344.9M171.3,341.3L175.5,343.7M171.3,343.7L175.5,341.3M174.4,340.7V345.5M172.3,341.9L176.5,344.3M172.3,344.3L176.5,341.9M175.4,339.8V344.6M173.3,341.0L177.5,343.4M173.3,343.4L177.5,341.0M176.4,339.8V344.6M174.3,341.0L178.5,343.4M174.3,343.4L178.5,341.0M177.4,340.2V345.0M175.3,341.4L179.5,343.8M175.3,343.8L179.5,341.4M178.4,340.6V345.4M176.3,341.8L180.5,344.2M176.3,344.2L180.5,341.8M179.4,340.5V345.3M177.3,341.7L181.5,344.1M177.3,344.1L181.5,341.7M180.4,341.0V345.8M178.3,342.2L182.5,344.6M178.3,344.6L182.5,342.2M181.4,340.7V345.5M179.3,341.9L183.5,344.3M179.3,344.3L183.5,341.9M182.4,340.3V345.1M180.3,341.5L184.5,343.9M180.3,343.9L184.5,341.5M183.4,339.2V344.0M181.3,340.4L185.5,342.8M181.3,342.8L185.5,340.4M184.4,338.4V343.2M182.3,339.6L186.5,342.0M182.3,342.0L186.5,339.6M185.4,337.2V342.0M183.3,338.4L187.5,340.8M183.3,340.8L187.5,338.4M186.4,335.6V340.4M184.3,336.8L188.5,339.2M184.3,339.2L188.5,336.8M187.4,335.0V339.8M185.3,336.2L189.5,338.6M185.3,338.6L189.5,336.2M188.4,333.3V338.1M186.3,334.5L190.5,336.9M186.3,336.9L190.5,334.5M189.4,331.9V336.7M187.3,333.1L191.5,335.5M187.3,335.5L191.5,333.1M190.4,330.5V335.3M188.3,331.7L192.5,334.1M188.3,334.1L192.5,331.7M191.4,329.4V334.2M189.3,330.6L193.5,333.0M189.3,333.0L193.5,330.6M192.4,327.4V332.2M190.3,328.6L194.5,331.0M190.3,331.0L194.5,328.6M193.4,327.4V332.2M191.3,328.6L195.5,331.0M191.3,331.0L195.5,328.6M194.4,327.2V332.0M192.3,328.4L196.5,330.8M192.3,330.8L196.5,328.4M195.4,326.0V330.8M193.3,327.2L197.5,329.6M193.3,329.6L197.5,327.2M196.4,325.8V330.6M194.3,327.0L198.5,329.4M194.3,329.4L198.5,327.0M197.4,325.1V329.9M195.3,326.3L199.5,328.7M195.3,328.7L199.5,326.3M198.4,325.9V330.7M196.3,327.1L200.5,329.5M196.3,329.5L200.5,327.1M199.4,328.0V332.8M197.3,329.2L201.5,331.6M197.3,331.6L201.5,329.2M200.4,330.0V334.8M198.3,331.2L202.5,333.6M198.3,333.6L202.5,331.2M201.4,331.7V336.5M199.3,332.9L203.5,335.3M199.3,335.3L203.5,332.9M202.4,333.7V338.5M200.3,334.9L204.5,337.3M200.3,337.3L204.5,334.9M203.4,336.3V341.1M201.3,337.5L205.5,339.9M201.3,339.9L205.5,337.5M204.4,337.6V342.4M202.3,338.8L206.5,341.2M202.3,341.2L206.5,338.8M205.4,338.7V343.5M203.3,339.9L207.5,342.3M203.3,342.3L207.5,339.9M206.4,339.5V344.3M204.3,340.7L208.5,343.1M204.3,343.1L208.5,340.7M207.4,340.2V345.0M205.3,341.4L209.5,343.8M205.3,343.8L209.5,341.4M208.4,340.8V345.6M206.3,342.0L210.5,344.4M206.3,344.4L210.5,342.0M209.4,341.0V345.8M207.3,342.2L211.5,344.6M207.3,344.6L211.5,342.2M210.4,341.1V345.9M208.3,342.3L212.5,344.7M208.3,344.7L212.5,342.3M211.4,340.3V345.1M209.3,341.5L213.5,343.9M209.3,343.9L213.5,341.5M212.4,340.4V345.2M210.3,341.6L214.5,344.0M210.3,344.0L214.5,341.6M213.4,340.5V345.3M211.3,341.7L215.5,344.1M211.3,344.1L215.5,341.7M214.4,340.8V345.6M212.3,342.0L216.5,344.4M212.3,344.4L216.5,342.0M215.4,341.3V346.1M213.3,342.5L217.5,344.9M213.3,344.9L217.5,342.5M216.4,340.6V345.4M214.3,341.8L218.5,344.2M214.3,344.2L218.5,341.8M217.4,340.8V345.6M215.3,342.0L219.5,344.4M215.3,344.4L219.5,342.0M218.4,341.7V346.5M216.3,342.9L220.5,345.3M216.3,345.3L220.5,342.9M219.4,340.6V345.4M217.3,341.8L221.5,344.2M217.3,344.2L221.5,341.8M220.4,341.7V346.5M218.3,342.9L222.5,345.3M218.3,345.3L222.5,342.9M221.4,341.1V345.9M219.3,342.3L223.5,344.7M219.3,344.7L223.5,342.3M222.4,340.6V345.4M220.3,341.8L224.5,344.2M220.3,344.2L224.5,341.8M223.4,340.7V345.5M221.3,341.9L225.5,344.3M221.3,344.3L225.5,341.9M224.4,341.2V346.0M222.3,342.4L226.5,344.8M222.3,344.8L226.5,342.4M225.4,340.7V345.5M223.3,341.9L227.5,344.3M223.3,344.3L227.5,341.9M226.4,340.8V345.6M224.3,342.0L228.5,344.4M224.3,344.4L228.5,342.0M227.4,340.8V345.6M225.3,342.0L229.5,344.4M225.3,344.4L229.5,342.0M228.4,341.3V346.1M226.3,342.5L230.5,344.9M226.3,344.9L230.5,342.5M229.4,340.5V345.3M227.3,341.7L231.5,344.1M227.3,344.1L231.5,341.7M230.4,341.3V346.1M228.3,342.5L232.5,344.9M228.3,344.9L232.5,342.5M231.4,341.4V346.2M229.3,342.6L233.5,345.0M229.3,345.0L233.5,342.6M232.4,340.9V345.7M230.3,342.1L234.5,344.5M230.3,344.5L234.5,342.1M233.4,340.8V345.6M231.3,342.0L235.5,344.4M231.3,344.4L235.5,342.0M234.4,340.6V345.4M232.3,341.8L236.5,344.2M232.3,344.2L236.5,341.8M235.4,341.4V346.2M233.3,342.6L237.5,345.0M233.3,345.0L237.5,342.6M236.4,342.0V346.8M234.3,343.2L238.5,345.6M234.3,345.6L238.5,343.2M237.4,341.5V346.3M235.3,342.7L239.5,345.1M235.3,345.1L239.5,342.7" fill="none" stroke="#3f5ba8" stroke-width="0.7"/>
<polyline points="144.40,361.91 144.90,362.14 145.40,362.06 145.90,361.30 146.40,361.52 146.90,361.94 147.40,362.39 147.90,361.29 148.40,361.97 148.90,362.06 149.40,362.21 149.90,361.66 150.40,362.21 150.90,361.81 151.40,362.35 151.90,361.29 152.40,362.38 152.90,361.77 153.40,361.77 153.90,361.40 154.40,361.59 154.90,362.16 155.40,362.10 155.90,361.49 156.40,361.72 156.90,361.49 157.40,361.56 157.90,361.59 158.40,361.72 158.90,362.48 159.40,362.51 159.90,362.27 160.40,361.91 160.90,361.94 161.40,362.27 161.90,362.43 162.40,362.25 162.90,362.12 163.40,361.61 163.90,362.11 164.40,362.38 164.90,362.31 165.40,361.50 165.90,362.24 166.40,361.81 166.90,361.60 167.40,362.54 167.90,362.20 168.40,362.29 168.90,361.58 169.40,362.40 169.90,362.53 170.40,362.50 170.90,362.31 171.40,362.42 171.90,362.39 172.40,362.14 172.90,361.97 173.40,362.43 173.90,362.38 174.40,362.49 174.90,361.82 175.40,362.60 175.90,362.10 176.40,362.59 176.90,361.61 177.40,362.61 177.90,362.39 178.40,361.75 178.90,362.42 179.40,361.68 179.90,361.60 180.40,361.85 180.90,361.51 181.40,361.70 181.90,362.04 182.40,361.60 182.90,361.39 183.40,360.73 183.90,360.83 184.40,360.41 184.90,359.78 185.40,359.50 185.90,358.71 186.40,357.49 186.90,356.33 187.40,356.15 187.90,355.49 188.40,354.03 188.90,353.45 189.40,352.88 189.90,352.02 190.40,350.36 190.90,350.25 191.40,349.11 191.90,348.70 192.40,349.07 192.90,348.22 193.40,348.10 193.90,347.61 194.40,347.18 194.90,346.77 195.40,346.70 195.90,347.07 196.40,346.66 196.90,346.22 197.40,346.04 197.90,346.46 198.40,347.32 198.90,347.56 199.40,348.54 199.90,349.59 200.40,349.82 200.90,351.62 201.40,352.08 201.90,354.23 202.40,354.70 202.90,355.97 203.40,357.86 203.90,358.13 204.40,358.82 204.90,360.32 205.40,360.59 205.90,361.41 206.40,361.21 206.90,361.62 207.40,362.38 207.90,362.01 208.40,362.69 208.90,361.84 209.40,362.65 209.90,361.91 210.40,362.36 210.90,361.76 211.40,361.98 211.90,362.89 212.40,362.32 212.90,362.74 213.40,362.10 213.90,362.22 214.40,361.93 214.90,362.46 215.40,362.83 215.90,362.43 216.40,362.27 216.90,362.92 217.40,362.88 217.90,362.62 218.40,361.93 218.90,362.58 219.40,362.37 219.90,362.98 220.40,362.29 220.90,362.64 221.40,362.61 221.90,362.32 222.40,362.49 222.90,362.68 223.40,362.95 223.90,362.48 224.40,362.32 224.90,363.04 225.40,361.97 225.90,362.89 226.40,362.71 226.90,362.57 227.40,362.45 227.90,362.81 228.40,362.97 228.90,362.79 229.40,362.82 229.90,361.99 230.40,362.33 230.90,362.11 231.40,363.07 231.90,363.00 232.40,362.13 232.90,362.66 233.40,362.65 233.90,362.03 234.40,362.44 234.90,362.86 235.40,362.74 235.90,362.32 236.40,362.89 236.90,362.34 237.40,362.64 237.90,362.50" fill="none" stroke="#544d4d" stroke-width="2.3" stroke-linejoin="round" stroke-linecap="round" />
<path d="M143.7,362.1H147.1M145.4,360.4V363.8M144.7,361.5H148.1M146.4,359.8V363.2M145.7,362.4H149.1M147.4,360.7V364.1M146.7,362.0H150.1M148.4,360.3V363.7M147.7,362.2H151.1M149.4,360.5V363.9M148.7,362.2H152.1M150.4,360.5V363.9M149.7,362.4H153.1M151.4,360.7V364.1M150.7,362.4H154.1M152.4,360.7V364.1M151.7,361.8H155.1M153.4,360.1V363.5M152.7,361.6H156.1M154.4,359.9V363.3M153.7,362.1H157.1M155.4,360.4V363.8M154.7,361.7H158.1M156.4,360.0V363.4M155.7,361.6H159.1M157.4,359.9V363.3M156.7,361.7H160.1M158.4,360.0V363.4M157.7,362.5H161.1M159.4,360.8V364.2M158.7,361.9H162.1M160.4,360.2V363.6M159.7,362.3H163.1M161.4,360.6V364.0M160.7,362.2H164.1M162.4,360.5V363.9M161.7,361.6H165.1M163.4,359.9V363.3M162.7,362.4H166.1M164.4,360.7V364.1M163.7,361.5H167.1M165.4,359.8V363.2M164.7,361.8H168.1M166.4,360.1V363.5M165.7,362.5H169.1M167.4,360.8V364.2M166.7,362.3H170.1M168.4,360.6V364.0M167.7,362.4H171.1M169.4,360.7V364.1M168.7,362.5H172.1M170.4,360.8V364.2M169.7,362.4H173.1M171.4,360.7V364.1M170.7,362.1H174.1M172.4,360.4V363.8M171.7,362.4H175.1M173.4,360.7V364.1M172.7,362.5H176.1M174.4,360.8V364.2M173.7,362.6H177.1M175.4,360.9V364.3M174.7,362.6H178.1M176.4,360.9V364.3M175.7,362.6H179.1M177.4,360.9V364.3M176.7,361.8H180.1M178.4,360.1V363.5M177.7,361.7H181.1M179.4,360.0V363.4M178.7,361.8H182.1M180.4,360.1V363.5M179.7,361.7H183.1M181.4,360.0V363.4M180.7,361.6H184.1M182.4,359.9V363.3M181.7,360.7H185.1M183.4,359.0V362.4M182.7,360.4H186.1M184.4,358.7V362.1M183.7,359.5H187.1M185.4,357.8V361.2M184.7,357.5H188.1M186.4,355.8V359.2M185.7,356.2H189.1M187.4,354.5V357.9M186.7,354.0H190.1M188.4,352.3V355.7M187.7,352.9H191.1M189.4,351.2V354.6M188.7,350.4H192.1M190.4,348.7V352.1M189.7,349.1H193.1M191.4,347.4V350.8M190.7,349.1H194.1M192.4,347.4V350.8M191.7,348.1H195.1M193.4,346.4V349.8M192.7,347.2H196.1M194.4,345.5V348.9M193.7,346.7H197.1M195.4,345.0V348.4M194.7,346.7H198.1M196.4,345.0V348.4M195.7,346.0H199.1M197.4,344.3V347.7M196.7,347.3H200.1M198.4,345.6V349.0M197.7,348.5H201.1M199.4,346.8V350.2M198.7,349.8H202.1M200.4,348.1V351.5M199.7,352.1H203.1M201.4,350.4V353.8M200.7,354.7H204.1M202.4,353.0V356.4M201.7,357.9H205.1M203.4,356.2V359.6M202.7,358.8H206.1M204.4,357.1V360.5M203.7,360.6H207.1M205.4,358.9V362.3M204.7,361.2H208.1M206.4,359.5V362.9M205.7,362.4H209.1M207.4,360.7V364.1M206.7,362.7H210.1M208.4,361.0V364.4M207.7,362.6H211.1M209.4,360.9V364.3M208.7,362.4H212.1M210.4,360.7V364.1M209.7,362.0H213.1M211.4,360.3V363.7M210.7,362.3H214.1M212.4,360.6V364.0M211.7,362.1H215.1M213.4,360.4V363.8M212.7,361.9H216.1M214.4,360.2V363.6M213.7,362.8H217.1M215.4,361.1V364.5M214.7,362.3H218.1M216.4,360.6V364.0M215.7,362.9H219.1M217.4,361.2V364.6M216.7,361.9H220.1M218.4,360.2V363.6M217.7,362.4H221.1M219.4,360.7V364.1M218.7,362.3H222.1M220.4,360.6V364.0M219.7,362.6H223.1M221.4,360.9V364.3M220.7,362.5H224.1M222.4,360.8V364.2M221.7,363.0H225.1M223.4,361.3V364.7M222.7,362.3H226.1M224.4,360.6V364.0M223.7,362.0H227.1M225.4,360.3V363.7M224.7,362.7H228.1M226.4,361.0V364.4M225.7,362.4H229.1M227.4,360.7V364.1M226.7,363.0H230.1M228.4,361.3V364.7M227.7,362.8H231.1M229.4,361.1V364.5M228.7,362.3H232.1M230.4,360.6V364.0M229.7,363.1H233.1M231.4,361.4V364.8M230.7,362.1H234.1M232.4,360.4V363.8M231.7,362.6H235.1M233.4,360.9V364.3M232.7,362.4H236.1M234.4,360.7V364.1M233.7,362.7H237.1M235.4,361.0V364.4M234.7,362.9H238.1M236.4,361.2V364.6M235.7,362.6H239.1M237.4,360.9V364.3" fill="none" stroke="#544d4d" stroke-width="0.6"/>
<polyline points="247.20,248.65 247.70,248.05 248.20,248.33 248.70,248.10 249.20,247.56 249.70,248.61 250.20,248.15 250.70,248.11 251.20,247.37 251.70,247.15 252.20,247.90 252.70,248.34 253.20,248.28 253.70,247.48 254.20,247.10 254.70,247.78 255.20,248.42 255.70,247.13 256.20,248.17 256.70,247.14 257.20,247.39 257.70,246.93 258.20,247.36 258.70,247.51 259.20,248.56 259.70,248.55 260.20,247.15 260.70,247.37 261.20,248.51 261.70,247.16 262.20,247.38 262.70,247.59 263.20,246.99 263.70,247.26 264.20,247.50 264.70,247.48 265.20,248.52 265.70,247.26 266.20,247.14 266.70,248.41 267.20,247.58 267.70,248.27 268.20,247.91 268.70,248.16 269.20,247.32 269.70,247.03 270.20,248.11 270.70,247.59 271.20,247.75 271.70,247.95 272.20,248.09 272.70,247.23 273.20,247.38 273.70,248.38 274.20,247.67 274.70,247.23 275.20,247.85 275.70,247.17 276.20,248.09 276.70,246.77 277.20,248.18 277.70,247.71 278.20,247.32 278.70,248.37 279.20,247.15 279.70,247.11 280.20,246.79 280.70,247.65 281.20,248.01 281.70,247.87 282.20,247.38 282.70,248.09 283.20,246.83 283.70,247.17 284.20,247.77 284.70,248.35 285.20,247.74 285.70,247.83 286.20,247.97 286.70,247.27 287.20,248.24 287.70,247.87 288.20,247.13 288.70,247.21 289.20,247.93 289.70,247.08 290.20,246.75 290.70,247.94 291.20,247.28 291.70,247.20 292.20,247.39 292.70,247.72 293.20,246.23 293.70,246.48 294.20,245.84 294.70,246.30 295.20,246.27 295.70,246.69 296.20,246.12 296.70,245.70 297.20,245.10 297.70,245.11 298.20,244.25 298.70,244.96 299.20,244.53 299.70,244.31 300.20,242.77 300.70,243.43 301.20,243.34 301.70,242.70 302.20,243.29 302.70,243.24 303.20,242.98 303.70,243.21 304.20,243.06 304.70,243.68 305.20,242.59 305.70,243.91 306.20,244.22 306.70,244.37 307.20,244.08 307.70,244.02 308.20,245.29 308.70,245.97 309.20,245.24 309.70,245.38 310.20,245.61 310.70,245.57 311.20,246.79 311.70,247.48 312.20,247.29 312.70,246.60 313.20,247.31 313.70,246.25 314.20,247.69 314.70,246.82 315.20,246.28 315.70,247.44 316.20,246.58 316.70,246.84 317.20,246.47 317.70,247.18 318.20,247.39 318.70,247.85 319.20,246.48 319.70,247.90 320.20,246.61 320.70,246.82 321.20,247.56 321.70,247.04 322.20,247.02 322.70,247.45 323.20,246.82 323.70,247.86 324.20,246.81 324.70,247.95 325.20,247.89 325.70,247.40 326.20,246.49 326.70,247.84 327.20,246.49 327.70,247.34 328.20,247.20 328.70,246.55 329.20,247.57 329.70,247.74 330.20,247.48 330.70,247.15 331.20,247.35 331.70,247.49 332.20,246.84 332.70,247.99 333.20,248.22 333.70,247.87 334.20,248.15 334.70,247.01 335.20,248.20 335.70,246.55 336.20,247.28 336.70,246.66 337.20,247.23 337.70,247.64 338.20,247.69 338.70,247.23 339.20,247.02 339.70,246.75 340.20,247.13 340.70,246.91 341.20,246.75 341.70,247.72 342.20,247.32 342.70,247.18 343.20,246.75 343.70,247.66 344.20,246.74 344.70,246.86 345.20,247.39 345.70,247.64" fill="none" stroke="#564f4f" stroke-width="2.79" stroke-linejoin="round" stroke-linecap="round" />
<path d="M247.1,246.5L250.3,249.7M247.1,249.7L250.3,246.5M248.6,246.5L251.8,249.8M248.6,249.8L251.8,246.5M250.1,245.5L253.3,248.8M250.1,248.8L253.3,245.5M251.6,246.7L254.8,249.9M251.6,249.9L254.8,246.7M253.1,246.2L256.3,249.4M253.1,249.4L256.3,246.2M254.6,246.6L257.8,249.8M254.6,249.8L257.8,246.6M256.1,245.3L259.3,248.5M256.1,248.5L259.3,245.3M257.6,247.0L260.8,250.2M257.6,250.2L260.8,247.0M259.1,245.8L262.3,249.0M259.1,249.0L262.3,245.8M260.6,245.8L263.8,249.0M260.6,249.0L263.8,245.8M262.1,245.7L265.3,248.9M262.1,248.9L265.3,245.7M263.6,246.9L266.8,250.1M263.6,250.1L266.8,246.9M265.1,246.8L268.3,250.0M265.1,250.0L268.3,246.8M266.6,246.3L269.8,249.5M266.6,249.5L269.8,246.3M268.1,245.4L271.3,248.6M268.1,248.6L271.3,245.4M269.6,246.1L272.8,249.4M269.6,249.4L272.8,246.1M271.1,245.6L274.3,248.8M271.1,248.8L274.3,245.6M272.6,246.1L275.8,249.3M272.6,249.3L275.8,246.1M274.1,245.6L277.3,248.8M274.1,248.8L277.3,245.6M275.6,246.6L278.8,249.8M275.6,249.8L278.8,246.6M277.1,246.8L280.3,250.0M277.1,250.0L280.3,246.8M278.6,245.2L281.8,248.4M278.6,248.4L281.8,245.2M280.1,246.3L283.3,249.5M280.1,249.5L283.3,246.3M281.6,245.2L284.8,248.4M281.6,248.4L284.8,245.2M283.1,246.7L286.3,250.0M283.1,250.0L286.3,246.7M284.6,246.4L287.8,249.6M284.6,249.6L287.8,246.4M286.1,246.3L289.3,249.5M286.1,249.5L289.3,246.3M287.6,246.3L290.8,249.5M287.6,249.5L290.8,246.3M289.1,246.3L292.3,249.5M289.1,249.5L292.3,246.3M290.6,245.8L293.8,249.0M290.6,249.0L293.8,245.8M292.1,244.9L295.3,248.1M292.1,248.1L295.3,244.9M293.6,244.7L296.8,247.9M293.6,247.9L296.8,244.7M295.1,244.1L298.3,247.3M295.1,247.3L298.3,244.1M296.6,242.6L299.8,245.9M296.6,245.9L299.8,242.6M298.1,242.7L301.3,245.9M298.1,245.9L301.3,242.7M299.6,241.7L302.8,244.9M299.6,244.9L302.8,241.7M301.1,241.6L304.3,244.8M301.1,244.8L304.3,241.6M302.6,241.4L305.8,244.7M302.6,244.7L305.8,241.4M304.1,242.3L307.3,245.5M304.1,245.5L307.3,242.3M305.6,242.5L308.8,245.7M305.6,245.7L308.8,242.5M307.1,244.4L310.3,247.6M307.1,247.6L310.3,244.4M308.6,244.0L311.8,247.2M308.6,247.2L311.8,244.0M310.1,245.9L313.3,249.1M310.1,249.1L313.3,245.9M311.6,245.7L314.8,248.9M311.6,248.9L314.8,245.7M313.1,245.2L316.3,248.4M313.1,248.4L316.3,245.2M314.6,245.0L317.8,248.2M314.6,248.2L317.8,245.0M316.1,245.6L319.3,248.8M316.1,248.8L319.3,245.6M317.6,244.9L320.8,248.1M317.6,248.1L320.8,244.9M319.1,245.2L322.3,248.4M319.1,248.4L322.3,245.2M320.6,245.4L323.8,248.6M320.6,248.6L323.8,245.4M322.1,246.3L325.3,249.5M322.1,249.5L325.3,246.3M323.6,246.3L326.8,249.5M323.6,249.5L326.8,246.3M325.1,246.2L328.3,249.4M325.1,249.4L328.3,246.2M326.6,245.6L329.8,248.8M326.6,248.8L329.8,245.6M328.1,246.1L331.3,249.3M328.1,249.3L331.3,246.1M329.6,245.7L332.8,249.0M329.6,249.0L332.8,245.7M331.1,246.4L334.3,249.6M331.1,249.6L334.3,246.4M332.6,246.5L335.8,249.8M332.6,249.8L335.8,246.5M334.1,244.9L337.3,248.2M334.1,248.2L337.3,244.9M335.6,245.6L338.8,248.8M335.6,248.8L338.8,245.6M337.1,245.6L340.3,248.8M337.1,248.8L340.3,245.6M338.6,245.5L341.8,248.7M338.6,248.7L341.8,245.5M340.1,246.1L343.3,249.3M340.1,249.3L343.3,246.1M341.6,245.1L344.8,248.4M341.6,248.4L344.8,245.1M343.1,245.3L346.3,248.5M343.1,248.5L346.3,245.3" fill="none" stroke="#564f4f" stroke-width="0.8"/>
<polyline points="247.20,262.96 247.70,262.69 248.20,262.92 248.70,262.88 249.20,262.64 249.70,262.63 250.20,261.84 250.70,262.01 251.20,261.77 251.70,262.79 252.20,262.61 252.70,262.50 253.20,262.05 253.70,262.16 254.20,261.93 254.70,262.48 255.20,262.91 255.70,262.08 256.20,261.76 256.70,261.92 257.20,262.13 257.70,262.77 258.20,262.66 258.70,262.23 259.20,261.80 259.70,261.80 260.20,261.86 260.70,262.60 261.20,262.23 261.70,262.85 262.20,262.75 262.70,262.60 263.20,262.21 263.70,262.62 264.20,261.79 264.70,261.76 265.20,262.30 265.70,262.23 266.20,261.86 266.70,261.91 267.20,261.63 267.70,262.69 268.20,262.45 268.70,262.72 269.20,262.76 269.70,262.10 270.20,262.45 270.70,262.03 271.20,262.54 271.70,262.57 272.20,261.71 272.70,261.56 273.20,261.80 273.70,262.24 274.20,261.99 274.70,261.54 275.20,262.52 275.70,262.46 276.20,262.07 276.70,261.56 277.20,262.57 277.70,262.14 278.20,261.57 278.70,261.87 279.20,262.23 279.70,262.53 280.20,262.05 280.70,262.23 281.20,261.70 281.70,261.74 282.20,262.53 282.70,261.89 283.20,261.55 283.70,262.13 284.20,261.57 284.70,261.65 285.20,261.95 285.70,262.09 286.20,262.15 286.70,262.22 287.20,261.89 287.70,261.44 288.20,262.21 288.70,261.39 289.20,261.88 289.70,261.78 290.20,262.09 290.70,262.11 291.20,261.52 291.70,261.97 292.20,261.99 292.70,261.68 293.20,261.23 293.70,262.08 294.20,261.64 294.70,260.91 295.20,261.03 295.70,261.82 296.20,260.80 296.70,260.86 297.20,261.20 297.70,261.09 298.20,260.71 298.70,260.68 299.20,259.68 299.70,259.59 300.20,260.50 300.70,260.16 301.20,259.12 301.70,259.04 302.20,259.21 302.70,260.01 303.20,259.16 303.70,259.75 304.20,260.13 304.70,259.88 305.20,260.33 305.70,259.68 306.20,259.69 306.70,259.68 307.20,260.72 307.70,260.08 308.20,261.27 308.70,261.08 309.20,260.58 309.70,261.44 310.20,260.76 310.70,261.27 311.20,260.86 311.70,261.75 312.20,261.93 312.70,262.01 313.20,260.95 313.70,262.00 314.20,261.67 314.70,262.01 315.20,261.65 315.70,261.80 316.20,261.78 316.70,262.03 317.20,261.17 317.70,261.14 318.20,261.73 318.70,261.43 319.20,261.56 319.70,261.09 320.20,261.97 320.70,261.11 321.20,262.07 321.70,262.05 322.20,261.62 322.70,261.22 323.20,261.85 323.70,261.31 324.20,261.58 324.70,261.19 325.20,262.23 325.70,261.71 326.20,261.47 326.70,261.16 327.20,261.92 327.70,262.06 328.20,262.05 328.70,261.15 329.20,261.47 329.70,261.39 330.20,261.94 330.70,261.19 331.20,261.74 331.70,262.18 332.20,261.93 332.70,261.01 333.20,261.09 333.70,261.13 334.20,261.82 334.70,261.70 335.20,261.61 335.70,261.52 336.20,261.46 336.70,261.70 337.20,261.74 337.70,262.06 338.20,261.84 338.70,261.91 339.20,262.04 339.70,261.95 340.20,261.80 340.70,260.97 341.20,261.75 341.70,261.95 342.20,261.44 342.70,261.97 343.20,261.13 343.70,262.04 344.20,261.44 344.70,261.75 345.20,261.20 345.70,261.25" fill="none" stroke="#68b234" stroke-width="2.87" stroke-linejoin="round" stroke-linecap="round" />
<polyline points="247.20,276.41 247.70,276.38 248.20,276.10 248.70,276.52 249.20,277.16 249.70,276.76 250.20,277.09 250.70,276.89 251.20,276.97 251.70,277.16 252.20,276.86 252.70,276.28 253.20,276.25 253.70,276.44 254.20,275.97 254.70,276.22 255.20,277.00 255.70,277.04 256.20,276.32 256.70,276.85 257.20,276.85 257.70,276.99 258.20,276.87 258.70,276.55 259.20,276.03 259.70,276.89 260.20,276.28 260.70,276.65 261.20,276.33 261.70,276.53 262.20,277.04 262.70,276.08 263.20,276.52 263.70,276.65 264.20,276.52 264.70,276.99 265.20,276.35 265.70,276.96 266.20,276.68 266.70,277.01 267.20,275.96 267.70,276.10 268.20,276.19 268.70,276.92 269.20,275.85 269.70,276.14 270.20,276.68 270.70,277.01 271.20,276.03 271.70,276.34 272.20,276.63 272.70,276.63 273.20,276.70 273.70,276.70 274.20,276.09 274.70,276.10 275.20,275.82 275.70,276.61 276.20,276.03 276.70,276.08 277.20,276.92 277.70,276.54 278.20,276.47 278.70,276.54 279.20,276.47 279.70,276.58 280.20,276.11 280.70,275.81 281.20,275.81 281.70,275.74 282.20,276.16 282.70,275.89 283.20,275.85 283.70,276.30 284.20,276.87 284.70,276.52 285.20,276.02 285.70,276.61 286.20,275.89 286.70,275.79 287.20,276.03 287.70,276.15 288.20,276.47 288.70,276.17 289.20,276.50 289.70,275.73 290.20,276.72 290.70,275.99 291.20,276.56 291.70,275.57 292.20,276.50 292.70,275.74 293.20,276.46 293.70,276.35 294.20,276.13 294.70,275.60 295.20,275.21 295.70,275.34 296.20,276.11 296.70,275.12 297.20,275.62 297.70,275.42 298.20,275.39 298.70,274.70 299.20,274.54 299.70,274.36 300.20,275.31 300.70,274.49 301.20,274.73 301.70,274.56 302.20,274.10 302.70,273.88 303.20,273.83 303.70,274.86 304.20,274.05 304.70,275.12 305.20,274.49 305.70,275.03 306.20,274.43 306.70,275.32 307.20,274.79 307.70,275.04 308.20,275.34 308.70,274.94 309.20,275.20 309.70,275.94 310.20,275.40 310.70,275.58 311.20,276.10 311.70,275.51 312.20,275.51 312.70,275.58 313.20,275.81 313.70,275.81 314.20,276.16 314.70,275.97 315.20,276.46 315.70,275.48 316.20,276.23 316.70,276.44 317.20,275.72 317.70,275.48 318.20,275.97 318.70,275.58 319.20,275.99 319.70,276.30 320.20,275.55 320.70,275.58 321.20,276.01 321.70,275.65 322.20,275.71 322.70,275.96 323.20,275.57 323.70,275.51 324.20,275.86 324.70,275.99 325.20,276.55 325.70,276.08 326.20,275.50 326.70,275.68 327.20,276.30 327.70,276.08 328.20,276.45 328.70,276.56 329.20,276.43 329.70,275.53 330.20,276.53 330.70,276.02 331.20,275.68 331.70,275.59 332.20,276.42 332.70,275.63 333.20,275.48 333.70,275.69 334.20,276.48 334.70,275.92 335.20,276.24 335.70,275.45 336.20,275.90 336.70,275.74 337.20,275.60 337.70,276.14 338.20,275.78 338.70,275.48 339.20,276.52 339.70,275.91 340.20,275.55 340.70,275.34 341.20,276.11 341.70,275.94 342.20,275.35 342.70,275.88 343.20,276.20 343.70,275.95 344.20,275.59 344.70,275.90 345.20,276.02 345.70,276.08" fill="none" stroke="#7597cc" stroke-width="3.12" stroke-linejoin="round" stroke-linecap="round" />
<polyline points="247.20,276.41 247.70,276.38 248.20,276.10 248.70,276.52 249.20,277.16 249.70,276.76 250.20,277.09 250.70,276.89 251.20,276.97 251.70,277.16 252.20,276.86 252.70,276.28 253.20,276.25 253.70,276.44 254.20,275.97 254.70,276.22 255.20,277.00 255.70,277.04 256.20,276.32 256.70,276.85 257.20,276.85 257.70,276.99 258.20,276.87 258.70,276.55 259.20,276.03 259.70,276.89 260.20,276.28 260.70,276.65 261.20,276.33 261.70,276.53 262.20,277.04 262.70,276.08 263.20,276.52 263.70,276.65 264.20,276.52 264.70,276.99 265.20,276.35 265.70,276.96 266.20,276.68 266.70,277.01 267.20,275.96 267.70,276.10 268.20,276.19 268.70,276.92 269.20,275.85 269.70,276.14 270.20,276.68 270.70,277.01 271.20,276.03 271.70,276.34 272.20,276.63 272.70,276.63 273.20,276.70 273.70,276.70 274.20,276.09 274.70,276.10 275.20,275.82 275.70,276.61 276.20,276.03 276.70,276.08 277.20,276.92 277.70,276.54 278.20,276.47 278.70,276.54 279.20,276.47 279.70,276.58 280.20,276.11 280.70,275.81 281.20,275.81 281.70,275.74 282.20,276.16 282.70,275.89 283.20,275.85 283.70,276.30 284.20,276.87 284.70,276.52 285.20,276.02 285.70,276.61 286.20,275.89 286.70,275.79 287.20,276.03 287.70,276.15 288.20,276.47 288.70,276.17 289.20,276.50 289.70,275.73 290.20,276.72 290.70,275.99 291.20,276.56 291.70,275.57 292.20,276.50 292.70,275.74 293.20,276.46 293.70,276.35 294.20,276.13 294.70,275.60 295.20,275.21 295.70,275.34 296.20,276.11 296.70,275.12 297.20,275.62 297.70,275.42 298.20,275.39 298.70,274.70 299.20,274.54 299.70,274.36 300.20,275.31 300.70,274.49 301.20,274.73 301.70,274.56 302.20,274.10 302.70,273.88 303.20,273.83 303.70,274.86 304.20,274.05 304.70,275.12 305.20,274.49 305.70,275.03 306.20,274.43 306.70,275.32 307.20,274.79 307.70,275.04 308.20,275.34 308.70,274.94 309.20,275.20 309.70,275.94 310.20,275.40 310.70,275.58 311.20,276.10 311.70,275.51 312.20,275.51 312.70,275.58 313.20,275.81 313.70,275.81 314.20,276.16 314.70,275.97 315.20,276.46 315.70,275.48 316.20,276.23 316.70,276.44 317.20,275.72 317.70,275.48 318.20,275.97 318.70,275.58 319.20,275.99 319.70,276.30 320.20,275.55 320.70,275.58 321.20,276.01 321.70,275.65 322.20,275.71 322.70,275.96 323.20,275.57 323.70,275.51 324.20,275.86 324.70,275.99 325.20,276.55 325.70,276.08 326.20,275.50 326.70,275.68 327.20,276.30 327.70,276.08 328.20,276.45 328.70,276.56 329.20,276.43 329.70,275.53 330.20,276.53 330.70,276.02 331.20,275.68 331.70,275.59 332.20,276.42 332.70,275.63 333.20,275.48 333.70,275.69 334.20,276.48 334.70,275.92 335.20,276.24 335.70,275.45 336.20,275.90 336.70,275.74 337.20,275.60 337.70,276.14 338.20,275.78 338.70,275.48 339.20,276.52 339.70,275.91 340.20,275.55 340.70,275.34 341.20,276.11 341.70,275.94 342.20,275.35 342.70,275.88 343.20,276.20 343.70,275.95 344.20,275.59 344.70,275.90 345.20,276.02 345.70,276.08" fill="none" stroke="#9cb4df" stroke-width="0.9" stroke-linejoin="round" stroke-linecap="round" />
<polyline points="247.20,291.95 247.70,293.52 248.20,293.85 248.70,293.35 249.20,293.62 249.70,292.43 250.20,293.71 250.70,291.97 251.20,292.07 251.70,292.95 252.20,293.67 252.70,291.69 253.20,292.01 253.70,291.57 254.20,292.52 254.70,291.80 255.20,291.91 255.70,293.24 256.20,292.83 256.70,293.68 257.20,292.38 257.70,293.04 258.20,291.43 258.70,293.66 259.20,291.94 259.70,292.51 260.20,292.59 260.70,293.63 261.20,292.52 261.70,293.71 262.20,292.81 262.70,291.83 263.20,293.31 263.70,291.78 264.20,293.69 264.70,292.37 265.20,291.81 265.70,293.57 266.20,292.02 266.70,292.22 267.20,292.05 267.70,292.83 268.20,291.27 268.70,292.10 269.20,291.58 269.70,293.17 270.20,291.18 270.70,292.62 271.20,291.78 271.70,292.24 272.20,292.49 272.70,292.84 273.20,291.45 273.70,291.69 274.20,291.39 274.70,293.40 275.20,291.44 275.70,291.40 276.20,292.32 276.70,292.45 277.20,293.17 277.70,291.17 278.20,291.59 278.70,291.42 279.20,292.41 279.70,292.08 280.20,291.97 280.70,293.11 281.20,292.56 281.70,293.02 282.20,293.25 282.70,291.58 283.20,293.19 283.70,291.90 284.20,291.03 284.70,293.09 285.20,291.14 285.70,290.92 286.20,291.56 286.70,291.55 287.20,293.17 287.70,292.93 288.20,291.83 288.70,292.08 289.20,292.84 289.70,292.72 290.20,292.34 290.70,291.99 291.20,291.02 291.70,291.31 292.20,292.28 292.70,292.09 293.20,292.58 293.70,292.78 294.20,292.90 294.70,291.02 295.20,290.70 295.70,292.63 296.20,291.80 296.70,290.81 297.20,291.99 297.70,290.88 298.20,290.78 298.70,291.03 299.20,291.35 299.70,291.65 300.20,290.15 300.70,291.70 301.20,291.37 301.70,290.97 302.20,291.42 302.70,291.71 303.20,289.81 303.70,290.93 304.20,291.43 304.70,291.53 305.20,291.42 305.70,290.33 306.20,292.24 306.70,291.87 307.20,290.58 307.70,291.10 308.20,292.40 308.70,290.64 309.20,291.16 309.70,292.51 310.20,292.39 310.70,290.81 311.20,292.04 311.70,291.15 312.20,291.89 312.70,292.15 313.20,290.62 313.70,290.85 314.20,290.83 314.70,290.96 315.20,290.40 315.70,290.64 316.20,291.28 316.70,291.31 317.20,290.48 317.70,291.69 318.20,292.54 318.70,291.66 319.20,291.12 319.70,291.95 320.20,291.30 320.70,290.66 321.20,291.39 321.70,290.27 322.20,291.84 322.70,290.60 323.20,291.09 323.70,292.50 324.20,292.02 324.70,292.18 325.20,291.71 325.70,291.68 326.20,291.84 326.70,292.46 327.20,290.60 327.70,291.96 328.20,290.84 328.70,290.72 329.20,292.07 329.70,291.53 330.20,292.12 330.70,292.17 331.20,291.47 331.70,290.53 332.20,290.08 332.70,291.32 333.20,291.77 333.70,290.67 334.20,290.18 334.70,290.01 335.20,290.41 335.70,291.65 336.20,289.98 336.70,290.51 337.20,290.59 337.70,291.65 338.20,292.31 338.70,289.97 339.20,290.19 339.70,292.15 340.20,292.23 340.70,290.25 341.20,290.69 341.70,291.13 342.20,290.63 342.70,290.86 343.20,290.99 343.70,290.46 344.20,289.96 344.70,290.02 345.20,290.20 345.70,290.02" fill="none" stroke="#878a2e" stroke-width="2.87" stroke-linejoin="round" stroke-linecap="round" />
<path d="M248.2,291.6V296.1M246.3,292.7L250.1,295.0M246.3,295.0L250.1,292.7M249.2,291.4V295.8M247.3,292.5L251.1,294.7M247.3,294.7L251.1,292.5M250.2,291.5V295.9M248.3,292.6L252.1,294.8M248.3,294.8L252.1,292.6M251.2,289.9V294.3M249.3,291.0L253.1,293.2M249.3,293.2L253.1,291.0M252.2,291.5V295.9M250.3,292.6L254.1,294.8M250.3,294.8L254.1,292.6M253.2,289.8V294.2M251.3,290.9L255.1,293.1M251.3,293.1L255.1,290.9M254.2,290.3V294.7M252.3,291.4L256.1,293.6M252.3,293.6L256.1,291.4M255.2,289.7V294.1M253.3,290.8L257.1,293.0M253.3,293.0L257.1,290.8M256.2,290.6V295.0M254.3,291.7L258.1,293.9M254.3,293.9L258.1,291.7M257.2,290.2V294.6M255.3,291.3L259.1,293.5M255.3,293.5L259.1,291.3M258.2,289.2V293.6M256.3,290.3L260.1,292.5M256.3,292.5L260.1,290.3M259.2,289.7V294.2M257.3,290.8L261.1,293.0M257.3,293.0L261.1,290.8M260.2,290.4V294.8M258.3,291.5L262.1,293.7M258.3,293.7L262.1,291.5M261.2,290.3V294.7M259.3,291.4L263.1,293.6M259.3,293.6L263.1,291.4M262.2,290.6V295.0M260.3,291.7L264.1,293.9M260.3,293.9L264.1,291.7M263.2,291.1V295.5M261.3,292.2L265.1,294.4M261.3,294.4L265.1,292.2M264.2,291.5V295.9M262.3,292.6L266.1,294.8M262.3,294.8L266.1,292.6M265.2,289.6V294.0M263.3,290.7L267.1,292.9M263.3,292.9L267.1,290.7M266.2,289.8V294.2M264.3,290.9L268.1,293.1M264.3,293.1L268.1,290.9M267.2,289.8V294.3M265.3,290.9L269.1,293.2M265.3,293.2L269.1,290.9M268.2,289.1V293.5M266.3,290.2L270.1,292.4M266.3,292.4L270.1,290.2M269.2,289.4V293.8M267.3,290.5L271.1,292.7M267.3,292.7L271.1,290.5M270.2,289.0V293.4M268.3,290.1L272.1,292.3M268.3,292.3L272.1,290.1M271.2,289.6V294.0M269.3,290.7L273.1,292.9M269.3,292.9L273.1,290.7M272.2,290.3V294.7M270.3,291.4L274.1,293.6M270.3,293.6L274.1,291.4M273.2,289.2V293.7M271.3,290.3L275.1,292.6M271.3,292.6L275.1,290.3M274.2,289.2V293.6M272.3,290.3L276.1,292.5M272.3,292.5L276.1,290.3M275.2,289.2V293.7M273.3,290.3L277.1,292.5M273.3,292.5L277.1,290.3M276.2,290.1V294.5M274.3,291.2L278.1,293.4M274.3,293.4L278.1,291.2M277.2,291.0V295.4M275.3,292.1L279.1,294.3M275.3,294.3L279.1,292.1M278.2,289.4V293.8M276.3,290.5L280.1,292.7M276.3,292.7L280.1,290.5M279.2,290.2V294.6M277.3,291.3L281.1,293.5M277.3,293.5L281.1,291.3M280.2,289.8V294.2M278.3,290.9L282.1,293.1M278.3,293.1L282.1,290.9M281.2,290.3V294.8M279.3,291.4L283.1,293.7M279.3,293.7L283.1,291.4M282.2,291.0V295.5M280.3,292.1L284.1,294.4M280.3,294.4L284.1,292.1M283.2,291.0V295.4M281.3,292.1L285.1,294.3M281.3,294.3L285.1,292.1M284.2,288.8V293.2M282.3,289.9L286.1,292.1M282.3,292.1L286.1,289.9M285.2,288.9V293.4M283.3,290.0L287.1,292.2M283.3,292.2L287.1,290.0M286.2,289.3V293.8M284.3,290.5L288.1,292.7M284.3,292.7L288.1,290.5M287.2,291.0V295.4M285.3,292.1L289.1,294.3M285.3,294.3L289.1,292.1M288.2,289.6V294.0M286.3,290.7L290.1,292.9M286.3,292.9L290.1,290.7M289.2,290.6V295.1M287.3,291.7L291.1,293.9M287.3,293.9L291.1,291.7M290.2,290.1V294.6M288.3,291.2L292.1,293.4M288.3,293.4L292.1,291.2M291.2,288.8V293.2M289.3,289.9L293.1,292.1M289.3,292.1L293.1,289.9M292.2,290.1V294.5M290.3,291.2L294.1,293.4M290.3,293.4L294.1,291.2M293.2,290.4V294.8M291.3,291.5L295.1,293.7M291.3,293.7L295.1,291.5M294.2,290.7V295.1M292.3,291.8L296.1,294.0M292.3,294.0L296.1,291.8M295.2,288.5V292.9M293.3,289.6L297.1,291.8M293.3,291.8L297.1,289.6M296.2,289.6V294.0M294.3,290.7L298.1,292.9M294.3,292.9L298.1,290.7M297.2,289.8V294.2M295.3,290.9L299.1,293.1M295.3,293.1L299.1,290.9M298.2,288.6V293.0M296.3,289.7L300.1,291.9M296.3,291.9L300.1,289.7M299.2,289.1V293.6M297.3,290.2L301.1,292.5M297.3,292.5L301.1,290.2M300.2,287.9V292.4M298.3,289.0L302.1,291.3M298.3,291.3L302.1,289.0M301.2,289.2V293.6M299.3,290.3L303.1,292.5M299.3,292.5L303.1,290.3M302.2,289.2V293.6M300.3,290.3L304.1,292.5M300.3,292.5L304.1,290.3M303.2,287.6V292.0M301.3,288.7L305.1,290.9M301.3,290.9L305.1,288.7M304.2,289.2V293.6M302.3,290.3L306.1,292.5M302.3,292.5L306.1,290.3M305.2,289.2V293.6M303.3,290.3L307.1,292.5M303.3,292.5L307.1,290.3M306.2,290.0V294.5M304.3,291.1L308.1,293.3M304.3,293.3L308.1,291.1M307.2,288.4V292.8M305.3,289.5L309.1,291.7M305.3,291.7L309.1,289.5M308.2,290.2V294.6M306.3,291.3L310.1,293.5M306.3,293.5L310.1,291.3M309.2,288.9V293.4M307.3,290.1L311.1,292.3M307.3,292.3L311.1,290.1M310.2,290.2V294.6M308.3,291.3L312.1,293.5M308.3,293.5L312.1,291.3M311.2,289.8V294.3M309.3,290.9L313.1,293.1M309.3,293.1L313.1,290.9M312.2,289.7V294.1M310.3,290.8L314.1,293.0M310.3,293.0L314.1,290.8M313.2,288.4V292.8M311.3,289.5L315.1,291.7M311.3,291.7L315.1,289.5M314.2,288.6V293.0M312.3,289.7L316.1,291.9M312.3,291.9L316.1,289.7M315.2,288.2V292.6M313.3,289.3L317.1,291.5M313.3,291.5L317.1,289.3M316.2,289.1V293.5M314.3,290.2L318.1,292.4M314.3,292.4L318.1,290.2M317.2,288.3V292.7M315.3,289.4L319.1,291.6M315.3,291.6L319.1,289.4M318.2,290.3V294.8M316.3,291.4L320.1,293.6M316.3,293.6L320.1,291.4M319.2,288.9V293.3M317.3,290.0L321.1,292.2M317.3,292.2L321.1,290.0M320.2,289.1V293.5M318.3,290.2L322.1,292.4M318.3,292.4L322.1,290.2M321.2,289.2V293.6M319.3,290.3L323.1,292.5M319.3,292.5L323.1,290.3M322.2,289.6V294.1M320.3,290.7L324.1,292.9M320.3,292.9L324.1,290.7M323.2,288.9V293.3M321.3,290.0L325.1,292.2M321.3,292.2L325.1,290.0M324.2,289.8V294.2M322.3,290.9L326.1,293.1M322.3,293.1L326.1,290.9M325.2,289.5V293.9M323.3,290.6L327.1,292.8M323.3,292.8L327.1,290.6M326.2,289.6V294.1M324.3,290.7L328.1,292.9M324.3,292.9L328.1,290.7M327.2,288.4V292.8M325.3,289.5L329.1,291.7M325.3,291.7L329.1,289.5M328.2,288.6V293.1M326.3,289.7L330.1,291.9M326.3,291.9L330.1,289.7M329.2,289.9V294.3M327.3,291.0L331.1,293.2M327.3,293.2L331.1,291.0M330.2,289.9V294.3M328.3,291.0L332.1,293.2M328.3,293.2L332.1,291.0M331.2,289.3V293.7M329.3,290.4L333.1,292.6M329.3,292.6L333.1,290.4M332.2,287.9V292.3M330.3,289.0L334.1,291.2M330.3,291.2L334.1,289.0M333.2,289.6V294.0M331.3,290.7L335.1,292.9M331.3,292.9L335.1,290.7M334.2,288.0V292.4M332.3,289.1L336.1,291.3M332.3,291.3L336.1,289.1M335.2,288.2V292.6M333.3,289.3L337.1,291.5M333.3,291.5L337.1,289.3M336.2,287.8V292.2M334.3,288.9L338.1,291.1M334.3,291.1L338.1,288.9M337.2,288.4V292.8M335.3,289.5L339.1,291.7M335.3,291.7L339.1,289.5M338.2,290.1V294.5M336.3,291.2L340.1,293.4M336.3,293.4L340.1,291.2M339.2,288.0V292.4M337.3,289.1L341.1,291.3M337.3,291.3L341.1,289.1M340.2,290.0V294.4M338.3,291.1L342.1,293.3M338.3,293.3L342.1,291.1M341.2,288.5V292.9M339.3,289.6L343.1,291.8M339.3,291.8L343.1,289.6M342.2,288.4V292.8M340.3,289.5L344.1,291.7M340.3,291.7L344.1,289.5M343.2,288.8V293.2M341.3,289.9L345.1,292.1M341.3,292.1L345.1,289.9M344.2,287.7V292.2M342.3,288.9L346.1,291.1M342.3,291.1L346.1,288.9M345.2,288.0V292.4M343.3,289.1L347.1,291.3M343.3,291.3L347.1,289.1" fill="none" stroke="#878a2e" stroke-width="0.8"/>
<polyline points="247.20,310.45 247.70,310.59 248.20,309.70 248.70,310.77 249.20,310.63 249.70,309.83 250.20,310.13 250.70,309.50 251.20,311.00 251.70,310.24 252.20,309.19 252.70,309.39 253.20,310.48 253.70,309.85 254.20,310.51 254.70,309.51 255.20,310.66 255.70,310.66 256.20,309.21 256.70,310.20 257.20,309.39 257.70,310.43 258.20,310.62 258.70,310.58 259.20,309.43 259.70,309.14 260.20,310.29 260.70,310.08 261.20,309.20 261.70,309.31 262.20,310.09 262.70,309.12 263.20,310.18 263.70,309.37 264.20,309.39 264.70,309.72 265.20,309.94 265.70,310.32 266.20,308.89 266.70,310.30 267.20,309.26 267.70,309.40 268.20,310.10 268.70,310.19 269.20,310.03 269.70,310.61 270.20,309.17 270.70,309.38 271.20,310.09 271.70,309.26 272.20,309.04 272.70,309.17 273.20,310.28 273.70,310.38 274.20,310.14 274.70,310.63 275.20,310.29 275.70,309.29 276.20,309.29 276.70,310.11 277.20,308.74 277.70,309.86 278.20,308.79 278.70,308.70 279.20,309.64 279.70,308.89 280.20,310.47 280.70,310.35 281.20,309.49 281.70,308.95 282.20,308.78 282.70,309.56 283.20,309.58 283.70,309.25 284.20,309.96 284.70,309.57 285.20,310.06 285.70,308.68 286.20,308.60 286.70,309.24 287.20,309.42 287.70,308.94 288.20,309.78 288.70,308.86 289.20,309.04 289.70,309.35 290.20,309.82 290.70,309.93 291.20,309.10 291.70,309.24 292.20,310.20 292.70,310.20 293.20,309.54 293.70,308.47 294.20,309.16 294.70,309.50 295.20,308.74 295.70,308.22 296.20,310.11 296.70,309.93 297.20,308.30 297.70,308.95 298.20,309.23 298.70,308.53 299.20,308.02 299.70,309.37 300.20,309.37 300.70,308.66 301.20,307.91 301.70,308.51 302.20,307.87 302.70,309.63 303.20,307.77 303.70,308.25 304.20,309.23 304.70,307.96 305.20,307.91 305.70,307.86 306.20,308.07 306.70,308.85 307.20,309.48 307.70,308.15 308.20,308.18 308.70,309.41 309.20,308.73 309.70,308.57 310.20,308.15 310.70,308.40 311.20,309.90 311.70,308.16 312.20,308.45 312.70,309.44 313.20,309.74 313.70,309.77 314.20,308.88 314.70,309.87 315.20,309.14 315.70,308.49 316.20,308.85 316.70,309.35 317.20,309.38 317.70,308.14 318.20,308.27 318.70,309.82 319.20,308.07 319.70,309.51 320.20,308.53 320.70,308.33 321.20,308.34 321.70,308.77 322.20,309.82 322.70,308.10 323.20,309.53 323.70,308.43 324.20,308.12 324.70,309.28 325.20,308.45 325.70,308.12 326.20,308.59 326.70,309.40 327.20,309.48 327.70,308.88 328.20,307.72 328.70,309.25 329.20,308.92 329.70,309.51 330.20,309.60 330.70,308.32 331.20,309.37 331.70,309.31 332.20,308.17 332.70,308.36 333.20,308.37 333.70,308.32 334.20,308.36 334.70,307.81 335.20,308.04 335.70,309.42 336.20,308.39 336.70,308.84 337.20,309.35 337.70,309.07 338.20,308.02 338.70,309.38 339.20,309.14 339.70,309.51 340.20,308.97 340.70,309.01 341.20,309.12 341.70,307.97 342.20,308.78 342.70,308.21 343.20,309.14 343.70,307.69 344.20,308.51 344.70,308.09 345.20,309.06 345.70,308.09" fill="none" stroke="#45bab0" stroke-width="2.62" stroke-linejoin="round" stroke-linecap="round" />
<path d="M248.2,307.9V311.5M246.6,308.8L249.8,310.6M246.6,310.6L249.8,308.8M249.2,308.8V312.4M247.6,309.7L250.8,311.5M247.6,311.5L250.8,309.7M250.2,308.3V311.9M248.6,309.2L251.8,311.0M248.6,311.0L251.8,309.2M251.2,309.2V312.8M249.6,310.1L252.8,311.9M249.6,311.9L252.8,310.1M252.2,307.4V311.0M250.6,308.3L253.8,310.1M250.6,310.1L253.8,308.3M253.2,308.7V312.3M251.6,309.6L254.8,311.4M251.6,311.4L254.8,309.6M254.2,308.7V312.3M252.6,309.6L255.8,311.4M252.6,311.4L255.8,309.6M255.2,308.9V312.5M253.6,309.8L256.8,311.6M253.6,311.6L256.8,309.8M256.2,307.4V311.0M254.6,308.3L257.8,310.1M254.6,310.1L257.8,308.3M257.2,307.6V311.2M255.6,308.5L258.8,310.3M255.6,310.3L258.8,308.5M258.2,308.8V312.4M256.6,309.7L259.8,311.5M256.6,311.5L259.8,309.7M259.2,307.6V311.2M257.6,308.5L260.8,310.3M257.6,310.3L260.8,308.5M260.2,308.5V312.1M258.6,309.4L261.8,311.2M258.6,311.2L261.8,309.4M261.2,307.4V311.0M259.6,308.3L262.8,310.1M259.6,310.1L262.8,308.3M262.2,308.3V311.9M260.6,309.2L263.8,311.0M260.6,311.0L263.8,309.2M263.2,308.4V312.0M261.6,309.3L264.8,311.1M261.6,311.1L264.8,309.3M264.2,307.6V311.2M262.6,308.5L265.8,310.3M262.6,310.3L265.8,308.5M265.2,308.1V311.7M263.6,309.0L266.8,310.8M263.6,310.8L266.8,309.0M266.2,307.1V310.7M264.6,308.0L267.8,309.8M264.6,309.8L267.8,308.0M267.2,307.5V311.1M265.6,308.4L268.8,310.2M265.6,310.2L268.8,308.4M268.2,308.3V311.9M266.6,309.2L269.8,311.0M266.6,311.0L269.8,309.2M269.2,308.2V311.8M267.6,309.1L270.8,310.9M267.6,310.9L270.8,309.1M270.2,307.4V311.0M268.6,308.3L271.8,310.1M268.6,310.1L271.8,308.3M271.2,308.3V311.9M269.6,309.2L272.8,311.0M269.6,311.0L272.8,309.2M272.2,307.2V310.8M270.6,308.1L273.8,309.9M270.6,309.9L273.8,308.1M273.2,308.5V312.1M271.6,309.4L274.8,311.2M271.6,311.2L274.8,309.4M274.2,308.3V311.9M272.6,309.2L275.8,311.0M272.6,311.0L275.8,309.2M275.2,308.5V312.1M273.6,309.4L276.8,311.2M273.6,311.2L276.8,309.4M276.2,307.5V311.1M274.6,308.4L277.8,310.2M274.6,310.2L277.8,308.4M277.2,306.9V310.5M275.6,307.8L278.8,309.6M275.6,309.6L278.8,307.8M278.2,307.0V310.6M276.6,307.9L279.8,309.7M276.6,309.7L279.8,307.9M279.2,307.8V311.4M277.6,308.7L280.8,310.5M277.6,310.5L280.8,308.7M280.2,308.7V312.3M278.6,309.6L281.8,311.4M278.6,311.4L281.8,309.6M281.2,307.7V311.3M279.6,308.6L282.8,310.4M279.6,310.4L282.8,308.6M282.2,307.0V310.6M280.6,307.9L283.8,309.7M280.6,309.7L283.8,307.9M283.2,307.8V311.4M281.6,308.7L284.8,310.5M281.6,310.5L284.8,308.7M284.2,308.2V311.8M282.6,309.1L285.8,310.9M282.6,310.9L285.8,309.1M285.2,308.3V311.9M283.6,309.2L286.8,311.0M283.6,311.0L286.8,309.2M286.2,306.8V310.4M284.6,307.7L287.8,309.5M284.6,309.5L287.8,307.7M287.2,307.6V311.2M285.6,308.5L288.8,310.3M285.6,310.3L288.8,308.5M288.2,308.0V311.6M286.6,308.9L289.8,310.7M286.6,310.7L289.8,308.9M289.2,307.2V310.8M287.6,308.1L290.8,309.9M287.6,309.9L290.8,308.1M290.2,308.0V311.6M288.6,308.9L291.8,310.7M288.6,310.7L291.8,308.9M291.2,307.3V310.9M289.6,308.2L292.8,310.0M289.6,310.0L292.8,308.2M292.2,308.4V312.0M290.6,309.3L293.8,311.1M290.6,311.1L293.8,309.3M293.2,307.7V311.3M291.6,308.6L294.8,310.4M291.6,310.4L294.8,308.6M294.2,307.4V311.0M292.6,308.3L295.8,310.1M292.6,310.1L295.8,308.3M295.2,306.9V310.5M293.6,307.8L296.8,309.6M293.6,309.6L296.8,307.8M296.2,308.3V311.9M294.6,309.2L297.8,311.0M294.6,311.0L297.8,309.2M297.2,306.5V310.1M295.6,307.4L298.8,309.2M295.6,309.2L298.8,307.4M298.2,307.4V311.0M296.6,308.3L299.8,310.1M296.6,310.1L299.8,308.3M299.2,306.2V309.8M297.6,307.1L300.8,308.9M297.6,308.9L300.8,307.1M300.2,307.6V311.2M298.6,308.5L301.8,310.3M298.6,310.3L301.8,308.5M301.2,306.1V309.7M299.6,307.0L302.8,308.8M299.6,308.8L302.8,307.0M302.2,306.1V309.7M300.6,307.0L303.8,308.8M300.6,308.8L303.8,307.0M303.2,306.0V309.6M301.6,306.9L304.8,308.7M301.6,308.7L304.8,306.9M304.2,307.4V311.0M302.6,308.3L305.8,310.1M302.6,310.1L305.8,308.3M305.2,306.1V309.7M303.6,307.0L306.8,308.8M303.6,308.8L306.8,307.0M306.2,306.3V309.9M304.6,307.2L307.8,309.0M304.6,309.0L307.8,307.2M307.2,307.7V311.3M305.6,308.6L308.8,310.4M305.6,310.4L308.8,308.6M308.2,306.4V310.0M306.6,307.3L309.8,309.1M306.6,309.1L309.8,307.3M309.2,306.9V310.5M307.6,307.8L310.8,309.6M307.6,309.6L310.8,307.8M310.2,306.3V309.9M308.6,307.2L311.8,309.0M308.6,309.0L311.8,307.2M311.2,308.1V311.7M309.6,309.0L312.8,310.8M309.6,310.8L312.8,309.0M312.2,306.6V310.3M310.6,307.6L313.8,309.4M310.6,309.4L313.8,307.6M313.2,307.9V311.5M311.6,308.8L314.8,310.6M311.6,310.6L314.8,308.8M314.2,307.1V310.7M312.6,308.0L315.8,309.8M312.6,309.8L315.8,308.0M315.2,307.3V310.9M313.6,308.2L316.8,310.0M313.6,310.0L316.8,308.2M316.2,307.0V310.7M314.6,307.9L317.8,309.8M314.6,309.8L317.8,307.9M317.2,307.6V311.2M315.6,308.5L318.8,310.3M315.6,310.3L318.8,308.5M318.2,306.5V310.1M316.6,307.4L319.8,309.2M316.6,309.2L319.8,307.4M319.2,306.3V309.9M317.6,307.2L320.8,309.0M317.6,309.0L320.8,307.2M320.2,306.7V310.3M318.6,307.6L321.8,309.4M318.6,309.4L321.8,307.6M321.2,306.5V310.1M319.6,307.4L322.8,309.2M319.6,309.2L322.8,307.4M322.2,308.0V311.6M320.6,308.9L323.8,310.7M320.6,310.7L323.8,308.9M323.2,307.7V311.3M321.6,308.6L324.8,310.4M321.6,310.4L324.8,308.6M324.2,306.3V309.9M322.6,307.2L325.8,309.0M322.6,309.0L325.8,307.2M325.2,306.6V310.3M323.6,307.5L326.8,309.3M323.6,309.3L326.8,307.5M326.2,306.8V310.4M324.6,307.7L327.8,309.5M324.6,309.5L327.8,307.7M327.2,307.7V311.3M325.6,308.6L328.8,310.4M325.6,310.4L328.8,308.6M328.2,305.9V309.5M326.6,306.8L329.8,308.6M326.6,308.6L329.8,306.8M329.2,307.1V310.7M327.6,308.0L330.8,309.8M327.6,309.8L330.8,308.0M330.2,307.8V311.4M328.6,308.7L331.8,310.5M328.6,310.5L331.8,308.7M331.2,307.6V311.2M329.6,308.5L332.8,310.3M329.6,310.3L332.8,308.5M332.2,306.4V310.0M330.6,307.3L333.8,309.1M330.6,309.1L333.8,307.3M333.2,306.6V310.2M331.6,307.5L334.8,309.3M331.6,309.3L334.8,307.5M334.2,306.6V310.2M332.6,307.5L335.8,309.3M332.6,309.3L335.8,307.5M335.2,306.2V309.8M333.6,307.1L336.8,308.9M333.6,308.9L336.8,307.1M336.2,306.6V310.2M334.6,307.5L337.8,309.3M334.6,309.3L337.8,307.5M337.2,307.5V311.1M335.6,308.4L338.8,310.2M335.6,310.2L338.8,308.4M338.2,306.2V309.8M336.6,307.1L339.8,308.9M336.6,308.9L339.8,307.1M339.2,307.3V310.9M337.6,308.2L340.8,310.0M337.6,310.0L340.8,308.2M340.2,307.2V310.8M338.6,308.1L341.8,309.9M338.6,309.9L341.8,308.1M341.2,307.3V310.9M339.6,308.2L342.8,310.0M339.6,310.0L342.8,308.2M342.2,307.0V310.6M340.6,307.9L343.8,309.7M340.6,309.7L343.8,307.9M343.2,307.3V310.9M341.6,308.2L344.8,310.0M341.6,310.0L344.8,308.2M344.2,306.7V310.3M342.6,307.6L345.8,309.4M342.6,309.4L345.8,307.6M345.2,307.3V310.9M343.6,308.2L346.8,310.0M343.6,310.0L346.8,308.2" fill="none" stroke="#45bab0" stroke-width="0.7"/>
<polyline points="247.20,326.92 247.70,326.92 248.20,326.96 248.70,325.62 249.20,327.05 249.70,326.69 250.20,326.56 250.70,326.51 251.20,325.41 251.70,326.88 252.20,326.29 252.70,326.12 253.20,325.90 253.70,326.69 254.20,326.68 254.70,326.83 255.20,325.64 255.70,325.86 256.20,325.68 256.70,325.41 257.20,325.81 257.70,325.25 258.20,326.63 258.70,325.60 259.20,325.31 259.70,325.29 260.20,326.50 260.70,325.51 261.20,325.97 261.70,325.86 262.20,326.57 262.70,326.83 263.20,325.66 263.70,326.24 264.20,326.70 264.70,325.93 265.20,326.69 265.70,326.38 266.20,325.61 266.70,326.62 267.20,326.06 267.70,325.21 268.20,326.07 268.70,326.50 269.20,325.93 269.70,325.86 270.20,325.73 270.70,326.55 271.20,326.16 271.70,325.32 272.20,325.59 272.70,325.59 273.20,326.65 273.70,326.17 274.20,325.13 274.70,326.54 275.20,324.95 275.70,325.94 276.20,325.65 276.70,326.15 277.20,325.62 277.70,325.01 278.20,325.77 278.70,326.30 279.20,326.23 279.70,325.44 280.20,325.19 280.70,326.12 281.20,326.22 281.70,325.16 282.20,326.34 282.70,326.53 283.20,325.52 283.70,325.41 284.20,325.99 284.70,326.38 285.20,325.06 285.70,325.23 286.20,325.27 286.70,325.99 287.20,325.00 287.70,325.63 288.20,325.54 288.70,325.83 289.20,324.87 289.70,326.33 290.20,326.39 290.70,325.59 291.20,326.00 291.70,324.89 292.20,326.18 292.70,325.52 293.20,325.87 293.70,326.05 294.20,325.12 294.70,326.11 295.20,324.79 295.70,324.44 296.20,325.27 296.70,325.96 297.20,325.93 297.70,325.99 298.20,325.16 298.70,325.88 299.20,325.18 299.70,324.39 300.20,325.24 300.70,325.52 301.20,324.81 301.70,325.10 302.20,324.47 302.70,324.48 303.20,324.74 303.70,324.90 304.20,324.83 304.70,324.16 305.20,324.01 305.70,324.63 306.20,325.32 306.70,325.40 307.20,324.49 307.70,324.54 308.20,325.03 308.70,324.43 309.20,325.21 309.70,325.76 310.20,324.51 310.70,325.20 311.20,325.45 311.70,325.50 312.20,325.44 312.70,325.44 313.20,324.65 313.70,325.66 314.20,325.81 314.70,324.24 315.20,325.84 315.70,324.93 316.20,324.28 316.70,324.24 317.20,325.54 317.70,325.32 318.20,324.35 318.70,324.91 319.20,325.23 319.70,325.86 320.20,324.66 320.70,325.43 321.20,324.48 321.70,324.39 322.20,324.32 322.70,324.75 323.20,325.12 323.70,324.54 324.20,324.28 324.70,324.37 325.20,324.12 325.70,324.31 326.20,324.52 326.70,324.85 327.20,324.27 327.70,324.79 328.20,324.71 328.70,325.66 329.20,324.78 329.70,325.59 330.20,324.73 330.70,324.23 331.20,324.93 331.70,324.12 332.20,324.15 332.70,323.97 333.20,325.09 333.70,325.56 334.20,324.54 334.70,324.44 335.20,324.56 335.70,324.42 336.20,325.02 336.70,324.47 337.20,324.03 337.70,325.30 338.20,324.77 338.70,323.74 339.20,325.25 339.70,325.02 340.20,324.34 340.70,324.83 341.20,325.34 341.70,324.40 342.20,324.44 342.70,324.19 343.20,324.65 343.70,324.83 344.20,324.95 344.70,325.33 345.20,323.87 345.70,324.26" fill="none" stroke="#9a6ab6" stroke-width="3.12" stroke-linejoin="round" stroke-linecap="round" />
<polyline points="247.20,345.02 247.70,344.89 248.20,344.47 248.70,344.64 249.20,343.95 249.70,345.17 250.20,344.36 250.70,344.05 251.20,343.60 251.70,343.46 252.20,345.04 252.70,344.84 253.20,343.25 253.70,343.85 254.20,344.16 254.70,344.19 255.20,343.91 255.70,344.99 256.20,343.87 256.70,344.24 257.20,345.04 257.70,344.44 258.20,344.11 258.70,343.81 259.20,343.91 259.70,344.36 260.20,344.71 260.70,343.63 261.20,343.85 261.70,343.88 262.20,343.82 262.70,344.94 263.20,344.17 263.70,343.62 264.20,343.73 264.70,344.72 265.20,343.37 265.70,344.44 266.20,343.07 266.70,343.41 267.20,343.14 267.70,344.65 268.20,343.30 268.70,343.46 269.20,343.11 269.70,343.52 270.20,344.47 270.70,344.44 271.20,344.82 271.70,344.89 272.20,344.07 272.70,344.82 273.20,343.12 273.70,344.81 274.20,343.81 274.70,343.31 275.20,344.43 275.70,344.65 276.20,343.68 276.70,343.08 277.20,344.66 277.70,344.41 278.20,344.08 278.70,344.85 279.20,342.93 279.70,342.96 280.20,343.09 280.70,342.88 281.20,344.27 281.70,344.10 282.20,343.04 282.70,343.14 283.20,343.17 283.70,344.03 284.20,344.16 284.70,344.76 285.20,343.51 285.70,344.76 286.20,343.64 286.70,343.55 287.20,343.26 287.70,343.21 288.20,344.71 288.70,344.75 289.20,344.15 289.70,343.06 290.20,343.06 290.70,342.99 291.20,343.39 291.70,344.16 292.20,342.77 292.70,343.72 293.20,344.01 293.70,342.67 294.20,343.48 294.70,344.18 295.20,343.72 295.70,343.44 296.20,344.29 296.70,343.69 297.20,343.13 297.70,343.22 298.20,344.30 298.70,344.10 299.20,344.18 299.70,343.43 300.20,342.54 300.70,342.58 301.20,342.98 301.70,343.59 302.20,342.17 302.70,343.79 303.20,343.75 303.70,343.20 304.20,342.16 304.70,343.79 305.20,343.02 305.70,343.56 306.20,343.37 306.70,343.72 307.20,343.08 307.70,344.23 308.20,344.23 308.70,344.20 309.20,343.57 309.70,342.97 310.20,343.11 310.70,342.90 311.20,344.20 311.70,343.98 312.20,343.97 312.70,344.04 313.20,344.39 313.70,343.77 314.20,343.02 314.70,343.91 315.20,342.90 315.70,343.60 316.20,342.68 316.70,344.10 317.20,343.34 317.70,342.90 318.20,344.22 318.70,342.50 319.20,344.22 319.70,343.86 320.20,342.61 320.70,343.86 321.20,343.47 321.70,344.14 322.20,343.48 322.70,343.15 323.20,344.18 323.70,342.44 324.20,343.84 324.70,342.46 325.20,342.81 325.70,342.47 326.20,344.01 326.70,343.13 327.20,343.70 327.70,342.74 328.20,343.70 328.70,343.53 329.20,342.39 329.70,343.20 330.20,343.66 330.70,342.61 331.20,343.50 331.70,342.73 332.20,342.91 332.70,344.03 333.20,344.07 333.70,344.17 334.20,343.00 334.70,343.29 335.20,343.77 335.70,343.66 336.20,343.04 336.70,343.86 337.20,342.91 337.70,344.02 338.20,343.04 338.70,342.31 339.20,343.59 339.70,342.36 340.20,343.44 340.70,342.16 341.20,344.06 341.70,343.14 342.20,343.54 342.70,342.29 343.20,343.31 343.70,342.78 344.20,342.51 344.70,343.66 345.20,342.06 345.70,342.96" fill="none" stroke="#3f5ba8" stroke-width="2.79" stroke-linejoin="round" stroke-linecap="round" />
<path d="M248.2,342.5V346.4M246.5,343.5L249.9,345.5M246.5,345.5L249.9,343.5M249.2,342.0V345.9M247.5,343.0L250.9,344.9M247.5,344.9L250.9,343.0M250.2,342.4V346.3M248.5,343.4L251.9,345.3M248.5,345.3L251.9,343.4M251.2,341.6V345.6M249.5,342.6L252.9,344.6M249.5,344.6L252.9,342.6M252.2,343.1V347.0M250.5,344.1L253.9,346.0M250.5,346.0L253.9,344.1M253.2,341.3V345.2M251.5,342.3L254.9,344.2M251.5,344.2L254.9,342.3M254.2,342.2V346.1M252.5,343.2L255.9,345.1M252.5,345.1L255.9,343.2M255.2,341.9V345.9M253.5,342.9L256.9,344.9M253.5,344.9L256.9,342.9M256.2,341.9V345.8M254.5,342.9L257.9,344.9M254.5,344.9L257.9,342.9M257.2,343.1V347.0M255.5,344.1L258.9,346.0M255.5,346.0L258.9,344.1M258.2,342.1V346.1M256.5,343.1L259.9,345.1M256.5,345.1L259.9,343.1M259.2,341.9V345.9M257.5,342.9L260.9,344.9M257.5,344.9L260.9,342.9M260.2,342.7V346.7M258.5,343.7L261.9,345.7M258.5,345.7L261.9,343.7M261.2,341.9V345.8M259.5,342.9L262.9,344.8M259.5,344.8L262.9,342.9M262.2,341.9V345.8M260.5,342.8L263.9,344.8M260.5,344.8L263.9,342.8M263.2,342.2V346.1M261.5,343.2L264.9,345.2M261.5,345.2L264.9,343.2M264.2,341.8V345.7M262.5,342.7L265.9,344.7M262.5,344.7L265.9,342.7M265.2,341.4V345.3M263.5,342.4L266.9,344.4M263.5,344.4L266.9,342.4M266.2,341.1V345.0M264.5,342.1L267.9,344.1M264.5,344.1L267.9,342.1M267.2,341.2V345.1M265.5,342.2L268.9,344.1M265.5,344.1L268.9,342.2M268.2,341.3V345.3M266.5,342.3L269.9,344.3M266.5,344.3L269.9,342.3M269.2,341.1V345.1M267.5,342.1L270.9,344.1M267.5,344.1L270.9,342.1M270.2,342.5V346.4M268.5,343.5L271.9,345.5M268.5,345.5L271.9,343.5M271.2,342.9V346.8M269.5,343.8L272.9,345.8M269.5,345.8L272.9,343.8M272.2,342.1V346.0M270.5,343.1L273.9,345.1M270.5,345.1L273.9,343.1M273.2,341.1V345.1M271.5,342.1L274.9,344.1M271.5,344.1L274.9,342.1M274.2,341.8V345.8M272.5,342.8L275.9,344.8M272.5,344.8L275.9,342.8M275.2,342.5V346.4M273.5,343.4L276.9,345.4M273.5,345.4L276.9,343.4M276.2,341.7V345.6M274.5,342.7L277.9,344.7M274.5,344.7L277.9,342.7M277.2,342.7V346.6M275.5,343.7L278.9,345.6M275.5,345.6L278.9,343.7M278.2,342.1V346.1M276.5,343.1L279.9,345.1M276.5,345.1L279.9,343.1M279.2,341.0V344.9M277.5,341.9L280.9,343.9M277.5,343.9L280.9,341.9M280.2,341.1V345.1M278.5,342.1L281.9,344.1M278.5,344.1L281.9,342.1M281.2,342.3V346.2M279.5,343.3L282.9,345.3M279.5,345.3L282.9,343.3M282.2,341.1V345.0M280.5,342.1L283.9,344.0M280.5,344.0L283.9,342.1M283.2,341.2V345.1M281.5,342.2L284.9,344.2M281.5,344.2L284.9,342.2M284.2,342.2V346.1M282.5,343.2L285.9,345.1M282.5,345.1L285.9,343.2M285.2,341.5V345.5M283.5,342.5L286.9,344.5M283.5,344.5L286.9,342.5M286.2,341.7V345.6M284.5,342.7L287.9,344.6M284.5,344.6L287.9,342.7M287.2,341.3V345.2M285.5,342.3L288.9,344.2M285.5,344.2L288.9,342.3M288.2,342.7V346.7M286.5,343.7L289.9,345.7M286.5,345.7L289.9,343.7M289.2,342.2V346.1M287.5,343.2L290.9,345.1M287.5,345.1L290.9,343.2M290.2,341.1V345.0M288.5,342.1L291.9,344.0M288.5,344.0L291.9,342.1M291.2,341.4V345.4M289.5,342.4L292.9,344.4M289.5,344.4L292.9,342.4M292.2,340.8V344.7M290.5,341.8L293.9,343.8M290.5,343.8L293.9,341.8M293.2,342.0V346.0M291.5,343.0L294.9,345.0M291.5,345.0L294.9,343.0M294.2,341.5V345.5M292.5,342.5L295.9,344.5M292.5,344.5L295.9,342.5M295.2,341.8V345.7M293.5,342.7L296.9,344.7M293.5,344.7L296.9,342.7M296.2,342.3V346.3M294.5,343.3L297.9,345.3M294.5,345.3L297.9,343.3M297.2,341.2V345.1M295.5,342.1L298.9,344.1M295.5,344.1L298.9,342.1M298.2,342.3V346.3M296.5,343.3L299.9,345.3M296.5,345.3L299.9,343.3M299.2,342.2V346.1M297.5,343.2L300.9,345.2M297.5,345.2L300.9,343.2M300.2,340.6V344.5M298.5,341.6L301.9,343.5M298.5,343.5L301.9,341.6M301.2,341.0V344.9M299.5,342.0L302.9,344.0M299.5,344.0L302.9,342.0M302.2,340.2V344.1M300.5,341.2L303.9,343.2M300.5,343.2L303.9,341.2M303.2,341.8V345.7M301.5,342.8L304.9,344.7M301.5,344.7L304.9,342.8M304.2,340.2V344.1M302.5,341.2L305.9,343.1M302.5,343.1L305.9,341.2M305.2,341.1V345.0M303.5,342.0L306.9,344.0M303.5,344.0L306.9,342.0M306.2,341.4V345.3M304.5,342.4L307.9,344.4M304.5,344.4L307.9,342.4M307.2,341.1V345.1M305.5,342.1L308.9,344.1M305.5,344.1L308.9,342.1M308.2,342.3V346.2M306.5,343.3L309.9,345.2M306.5,345.2L309.9,343.3M309.2,341.6V345.5M307.5,342.6L310.9,344.6M307.5,344.6L310.9,342.6M310.2,341.1V345.1M308.5,342.1L311.9,344.1M308.5,344.1L311.9,342.1M311.2,342.2V346.2M309.5,343.2L312.9,345.2M309.5,345.2L312.9,343.2M312.2,342.0V345.9M310.5,343.0L313.9,345.0M310.5,345.0L313.9,343.0M313.2,342.4V346.4M311.5,343.4L314.9,345.4M311.5,345.4L314.9,343.4M314.2,341.0V345.0M312.5,342.0L315.9,344.0M312.5,344.0L315.9,342.0M315.2,340.9V344.9M313.5,341.9L316.9,343.9M313.5,343.9L316.9,341.9M316.2,340.7V344.6M314.5,341.7L317.9,343.7M314.5,343.7L317.9,341.7M317.2,341.4V345.3M315.5,342.4L318.9,344.3M315.5,344.3L318.9,342.4M318.2,342.2V346.2M316.5,343.2L319.9,345.2M316.5,345.2L319.9,343.2M319.2,342.3V346.2M317.5,343.2L320.9,345.2M317.5,345.2L320.9,343.2M320.2,340.6V344.6M318.5,341.6L321.9,343.6M318.5,343.6L321.9,341.6M321.2,341.5V345.4M319.5,342.5L322.9,344.5M319.5,344.5L322.9,342.5M322.2,341.5V345.4M320.5,342.5L323.9,344.5M320.5,344.5L323.9,342.5M323.2,342.2V346.1M321.5,343.2L324.9,345.2M321.5,345.2L324.9,343.2M324.2,341.9V345.8M322.5,342.9L325.9,344.8M322.5,344.8L325.9,342.9M325.2,340.8V344.8M323.5,341.8L326.9,343.8M323.5,343.8L326.9,341.8M326.2,342.0V346.0M324.5,343.0L327.9,345.0M324.5,345.0L327.9,343.0M327.2,341.7V345.7M325.5,342.7L328.9,344.7M325.5,344.7L328.9,342.7M328.2,341.7V345.7M326.5,342.7L329.9,344.7M326.5,344.7L329.9,342.7M329.2,340.4V344.4M327.5,341.4L330.9,343.4M327.5,343.4L330.9,341.4M330.2,341.7V345.6M328.5,342.7L331.9,344.6M328.5,344.6L331.9,342.7M331.2,341.5V345.5M329.5,342.5L332.9,344.5M329.5,344.5L332.9,342.5M332.2,340.9V344.9M330.5,341.9L333.9,343.9M330.5,343.9L333.9,341.9M333.2,342.1V346.0M331.5,343.1L334.9,345.1M331.5,345.1L334.9,343.1M334.2,341.0V345.0M332.5,342.0L335.9,344.0M332.5,344.0L335.9,342.0M335.2,341.8V345.7M333.5,342.8L336.9,344.8M333.5,344.8L336.9,342.8M336.2,341.1V345.0M334.5,342.1L337.9,344.0M334.5,344.0L337.9,342.1M337.2,340.9V344.9M335.5,341.9L338.9,343.9M335.5,343.9L338.9,341.9M338.2,341.1V345.0M336.5,342.1L339.9,344.0M336.5,344.0L339.9,342.1M339.2,341.6V345.6M337.5,342.6L340.9,344.6M337.5,344.6L340.9,342.6M340.2,341.5V345.4M338.5,342.5L341.9,344.4M338.5,344.4L341.9,342.5M341.2,342.1V346.0M339.5,343.1L342.9,345.0M339.5,345.0L342.9,343.1M342.2,341.6V345.5M340.5,342.6L343.9,344.5M340.5,344.5L343.9,342.6M343.2,341.3V345.3M341.5,342.3L344.9,344.3M341.5,344.3L344.9,342.3M344.2,340.5V344.5M342.5,341.5L345.9,343.5M342.5,343.5L345.9,341.5M345.2,340.1V344.0M343.5,341.1L346.9,343.0M343.5,343.0L346.9,341.1" fill="none" stroke="#3f5ba8" stroke-width="0.7"/>
<polyline points="247.20,362.75 247.70,363.94 248.20,363.99 248.70,362.64 249.20,363.30 249.70,363.29 250.20,363.67 250.70,363.68 251.20,363.07 251.70,363.97 252.20,362.80 252.70,362.71 253.20,363.76 253.70,362.66 254.20,362.75 254.70,363.23 255.20,362.97 255.70,362.68 256.20,363.87 256.70,363.15 257.20,363.62 257.70,362.77 258.20,363.80 258.70,362.71 259.20,363.77 259.70,363.30 260.20,363.84 260.70,363.52 261.20,363.29 261.70,363.13 262.20,363.62 262.70,362.96 263.20,362.41 263.70,363.68 264.20,363.50 264.70,363.29 265.20,363.38 265.70,362.57 266.20,362.92 266.70,363.47 267.20,363.67 267.70,363.60 268.20,362.40 268.70,363.21 269.20,362.99 269.70,362.75 270.20,362.37 270.70,362.31 271.20,362.82 271.70,362.84 272.20,362.48 272.70,362.62 273.20,362.90 273.70,363.21 274.20,362.93 274.70,362.26 275.20,363.37 275.70,362.55 276.20,363.47 276.70,363.49 277.20,362.17 277.70,362.84 278.20,363.43 278.70,362.51 279.20,362.76 279.70,362.38 280.20,361.92 280.70,362.19 281.20,362.05 281.70,362.29 282.20,362.82 282.70,362.70 283.20,363.29 283.70,362.87 284.20,362.35 284.70,363.26 285.20,362.75 285.70,362.60 286.20,363.09 286.70,362.77 287.20,362.28 287.70,362.65 288.20,362.16 288.70,363.19 289.20,362.05 289.70,363.17 290.20,361.74 290.70,361.64 291.20,362.47 291.70,361.92 292.20,362.37 292.70,361.74 293.20,362.85 293.70,362.56 294.20,362.56 294.70,362.92 295.20,362.99 295.70,362.48 296.20,362.50 296.70,361.36 297.20,361.40 297.70,361.95 298.20,362.76 298.70,361.70 299.20,362.07 299.70,361.16 300.20,361.76 300.70,362.48 301.20,361.96 301.70,362.31 302.20,361.02 302.70,361.30 303.20,361.25 303.70,362.27 304.20,361.13 304.70,362.43 305.20,361.40 305.70,362.37 306.20,361.82 306.70,361.53 307.20,362.55 307.70,361.69 308.20,362.16 308.70,361.19 309.20,362.39 309.70,362.63 310.20,361.28 310.70,362.27 311.20,361.54 311.70,361.35 312.20,361.68 312.70,362.14 313.20,362.59 313.70,362.65 314.20,362.65 314.70,362.06 315.20,362.10 315.70,361.32 316.20,362.20 316.70,361.91 317.20,361.61 317.70,362.44 318.20,361.42 318.70,361.24 319.20,361.25 319.70,361.23 320.20,361.90 320.70,362.22 321.20,361.21 321.70,361.74 322.20,361.84 322.70,361.80 323.20,361.56 323.70,361.76 324.20,360.92 324.70,360.98 325.20,361.54 325.70,361.23 326.20,362.03 326.70,361.22 327.20,362.12 327.70,361.20 328.20,360.95 328.70,361.54 329.20,361.39 329.70,361.30 330.20,361.96 330.70,361.10 331.20,361.79 331.70,362.04 332.20,361.43 332.70,361.50 333.20,362.14 333.70,361.63 334.20,360.96 334.70,360.78 335.20,360.78 335.70,361.16 336.20,360.77 336.70,361.63 337.20,361.27 337.70,361.08 338.20,361.39 338.70,362.04 339.20,360.95 339.70,360.80 340.20,361.02 340.70,361.04 341.20,361.94 341.70,361.61 342.20,361.17 342.70,360.75 343.20,360.55 343.70,360.66 344.20,361.78 344.70,361.46 345.20,360.68 345.70,361.40" fill="none" stroke="#544d4d" stroke-width="1.89" stroke-linejoin="round" stroke-linecap="round" />
<path d="M246.8,364.0H249.6M248.2,362.6V365.4M247.8,363.3H250.6M249.2,361.9V364.7M248.8,363.7H251.6M250.2,362.3V365.1M249.8,363.1H252.6M251.2,361.7V364.5M250.8,362.8H253.6M252.2,361.4V364.2M251.8,363.8H254.6M253.2,362.4V365.2M252.8,362.8H255.6M254.2,361.4V364.1M253.8,363.0H256.6M255.2,361.6V364.4M254.8,363.9H257.6M256.2,362.5V365.3M255.8,363.6H258.6M257.2,362.2V365.0M256.8,363.8H259.6M258.2,362.4V365.2M257.8,363.8H260.6M259.2,362.4V365.2M258.8,363.8H261.6M260.2,362.4V365.2M259.8,363.3H262.6M261.2,361.9V364.7M260.8,363.6H263.6M262.2,362.2V365.0M261.8,362.4H264.6M263.2,361.0V363.8M262.8,363.5H265.6M264.2,362.1V364.9M263.8,363.4H266.6M265.2,362.0V364.8M264.8,362.9H267.6M266.2,361.5V364.3M265.8,363.7H268.6M267.2,362.3V365.1M266.8,362.4H269.6M268.2,361.0V363.8M267.8,363.0H270.6M269.2,361.6V364.4M268.8,362.4H271.6M270.2,361.0V363.8M269.8,362.8H272.6M271.2,361.4V364.2M270.8,362.5H273.6M272.2,361.1V363.9M271.8,362.9H274.6M273.2,361.5V364.3M272.8,362.9H275.6M274.2,361.5V364.3M273.8,363.4H276.6M275.2,362.0V364.8M274.8,363.5H277.6M276.2,362.1V364.9M275.8,362.2H278.6M277.2,360.8V363.6M276.8,363.4H279.6M278.2,362.0V364.8M277.8,362.8H280.6M279.2,361.4V364.1M278.8,361.9H281.6M280.2,360.5V363.3M279.8,362.0H282.6M281.2,360.7V363.4M280.8,362.8H283.6M282.2,361.4V364.2M281.8,363.3H284.6M283.2,361.9V364.7M282.8,362.4H285.6M284.2,361.0V363.7M283.8,362.8H286.6M285.2,361.4V364.1M284.8,363.1H287.6M286.2,361.7V364.5M285.8,362.3H288.6M287.2,360.9V363.7M286.8,362.2H289.6M288.2,360.8V363.6M287.8,362.0H290.6M289.2,360.7V363.4M288.8,361.7H291.6M290.2,360.3V363.1M289.8,362.5H292.6M291.2,361.1V363.9M290.8,362.4H293.6M292.2,361.0V363.8M291.8,362.8H294.6M293.2,361.5V364.2M292.8,362.6H295.6M294.2,361.2V364.0M293.8,363.0H296.6M295.2,361.6V364.4M294.8,362.5H297.6M296.2,361.1V363.9M295.8,361.4H298.6M297.2,360.0V362.8M296.8,362.8H299.6M298.2,361.4V364.2M297.8,362.1H300.6M299.2,360.7V363.5M298.8,361.8H301.6M300.2,360.4V363.2M299.8,362.0H302.6M301.2,360.6V363.4M300.8,361.0H303.6M302.2,359.6V362.4M301.8,361.3H304.6M303.2,359.9V362.6M302.8,361.1H305.6M304.2,359.7V362.5M303.8,361.4H306.6M305.2,360.0V362.8M304.8,361.8H307.6M306.2,360.4V363.2M305.8,362.5H308.6M307.2,361.2V363.9M306.8,362.2H309.6M308.2,360.8V363.6M307.8,362.4H310.6M309.2,361.0V363.8M308.8,361.3H311.6M310.2,359.9V362.7M309.8,361.5H312.6M311.2,360.1V362.9M310.8,361.7H313.6M312.2,360.3V363.1M311.8,362.6H314.6M313.2,361.2V364.0M312.8,362.6H315.6M314.2,361.3V364.0M313.8,362.1H316.6M315.2,360.7V363.5M314.8,362.2H317.6M316.2,360.8V363.6M315.8,361.6H318.6M317.2,360.2V363.0M316.8,361.4H319.6M318.2,360.0V362.8M317.8,361.3H320.6M319.2,359.9V362.6M318.8,361.9H321.6M320.2,360.5V363.3M319.8,361.2H322.6M321.2,359.8V362.6M320.8,361.8H323.6M322.2,360.4V363.2M321.8,361.6H324.6M323.2,360.2V363.0M322.8,360.9H325.6M324.2,359.5V362.3M323.8,361.5H326.6M325.2,360.1V362.9M324.8,362.0H327.6M326.2,360.6V363.4M325.8,362.1H328.6M327.2,360.7V363.5M326.8,361.0H329.6M328.2,359.6V362.3M327.8,361.4H330.6M329.2,360.0V362.8M328.8,362.0H331.6M330.2,360.6V363.4M329.8,361.8H332.6M331.2,360.4V363.2M330.8,361.4H333.6M332.2,360.0V362.8M331.8,362.1H334.6M333.2,360.7V363.5M332.8,361.0H335.6M334.2,359.6V362.4M333.8,360.8H336.6M335.2,359.4V362.2M334.8,360.8H337.6M336.2,359.4V362.2M335.8,361.3H338.6M337.2,359.9V362.7M336.8,361.4H339.6M338.2,360.0V362.8M337.8,360.9H340.6M339.2,359.6V362.3M338.8,361.0H341.6M340.2,359.6V362.4M339.8,361.9H342.6M341.2,360.5V363.3M340.8,361.2H343.6M342.2,359.8V362.6M341.8,360.5H344.6M343.2,359.2V361.9M342.8,361.8H345.6M344.2,360.4V363.2M343.8,360.7H346.6M345.2,359.3V362.1" fill="none" stroke="#544d4d" stroke-width="0.6"/>
<polyline points="355.20,245.84 355.70,246.45 356.20,246.23 356.70,245.92 357.20,246.79 357.70,246.76 358.20,246.49 358.70,246.03 359.20,246.72 359.70,246.40 360.20,246.71 360.70,245.94 361.20,247.04 361.70,245.83 362.20,246.12 362.70,246.36 363.20,246.09 363.70,245.93 364.20,246.74 364.70,247.14 365.20,246.25 365.70,246.14 366.20,246.67 366.70,246.05 367.20,246.27 367.70,246.63 368.20,246.25 368.70,245.84 369.20,245.67 369.70,246.24 370.20,246.75 370.70,246.54 371.20,245.27 371.70,245.61 372.20,245.33 372.70,244.58 373.20,244.79 373.70,244.01 374.20,243.77 374.70,242.28 375.20,242.21 375.70,240.98 376.20,239.32 376.70,237.57 377.20,236.67 377.70,234.81 378.20,234.24 378.70,233.08 379.20,232.00 379.70,231.97 380.20,230.59 380.70,231.83 381.20,232.68 381.70,232.81 382.20,234.37 382.70,235.38 383.20,237.50 383.70,239.06 384.20,239.83 384.70,241.47 385.20,242.07 385.70,243.44 386.20,243.62 386.70,245.20 387.20,244.99 387.70,244.82 388.20,245.28 388.70,246.40 389.20,246.79 389.70,246.64 390.20,246.12 390.70,247.19 391.20,247.07 391.70,246.32 392.20,246.74 392.70,247.18 393.20,246.33 393.70,246.42 394.20,246.88 394.70,247.61 395.20,247.81 395.70,246.92 396.20,247.74 396.70,247.60 397.20,247.72 397.70,247.37 398.20,247.90 398.70,247.48 399.20,247.90 399.70,247.40 400.20,246.91 400.70,247.35 401.20,247.31 401.70,247.12 402.20,247.17 402.70,247.36 403.20,247.46 403.70,246.96 404.20,247.03 404.70,247.33 405.20,247.32 405.70,247.19 406.20,247.51 406.70,246.84 407.20,247.28 407.70,246.90 408.20,247.53 408.70,247.39 409.20,247.44 409.70,247.00 410.20,246.54 410.70,247.33 411.20,246.60 411.70,246.20 412.20,245.81 412.70,245.59 413.20,245.52 413.70,245.06 414.20,243.85 414.70,243.24 415.20,241.40 415.70,240.38 416.20,238.70 416.70,236.88 417.20,235.03 417.70,233.51 418.20,231.37 418.70,228.59 419.20,226.72 419.70,225.88 420.20,224.61 420.70,224.17 421.20,224.34 421.70,225.30 422.20,226.18 422.70,227.71 423.20,230.17 423.70,231.86 424.20,235.23 424.70,236.65 425.20,238.70 425.70,240.77 426.20,242.01 426.70,242.48 427.20,243.67 427.70,244.23 428.20,245.85 428.70,246.33 429.20,246.43 429.70,246.62 430.20,246.76 430.70,247.27 431.20,247.74 431.70,248.13 432.20,248.18 432.70,248.30 433.20,247.81 433.70,247.86 434.20,247.78 434.70,248.73 435.20,247.72 435.70,247.73 436.20,247.95 436.70,248.86 437.20,248.80 437.70,248.14 438.20,248.88 438.70,248.97 439.20,248.38 439.70,248.09 440.20,248.91 440.70,248.40 441.20,248.08 441.70,249.17 442.20,248.57 442.70,248.54 443.20,248.83 443.70,248.39 444.20,248.10 444.70,248.62 445.20,248.63 445.70,248.16 446.20,248.66 446.70,249.21 447.20,248.65 447.70,249.14 448.20,249.09 448.70,248.52 449.20,248.31 449.70,249.21 450.20,249.15 450.70,248.74 451.20,248.63 451.70,249.53 452.20,249.62 452.70,248.73 453.20,249.22 453.70,249.22 454.20,248.90 454.70,248.53 455.20,248.94" fill="none" stroke="#564f4f" stroke-width="3.4" stroke-linejoin="round" stroke-linecap="round" />
<path d="M354.7,244.0L358.7,247.9M354.7,247.9L358.7,244.0M356.2,244.5L360.2,248.5M356.2,248.5L360.2,244.5M357.7,244.4L361.7,248.4M357.7,248.4L361.7,244.4M359.2,245.1L363.2,249.0M359.2,249.0L363.2,245.1M360.7,244.4L364.7,248.3M360.7,248.3L364.7,244.4M362.2,244.8L366.2,248.7M362.2,248.7L366.2,244.8M363.7,244.2L367.7,248.1M363.7,248.1L367.7,244.2M365.2,244.3L369.2,248.2M365.2,248.2L369.2,244.3M366.7,243.9L370.7,247.8M366.7,247.8L370.7,243.9M368.2,244.8L372.2,248.7M368.2,248.7L372.2,244.8M369.7,243.7L373.7,247.6M369.7,247.6L373.7,243.7M371.2,242.8L375.2,246.8M371.2,246.8L375.2,242.8M372.7,240.3L376.7,244.2M372.7,244.2L376.7,240.3M374.2,237.4L378.2,241.3M374.2,241.3L378.2,237.4M375.7,232.9L379.7,236.8M375.7,236.8L379.7,232.9M377.2,230.0L381.2,234.0M377.2,234.0L381.2,230.0M378.7,229.9L382.7,233.8M378.7,233.8L382.7,229.9M380.2,232.4L384.2,236.3M380.2,236.3L384.2,232.4M381.7,237.1L385.7,241.0M381.7,241.0L385.7,237.1M383.2,240.1L387.2,244.0M383.2,244.0L387.2,240.1M384.7,243.2L388.7,247.2M384.7,247.2L388.7,243.2M386.2,243.3L390.2,247.2M386.2,247.2L390.2,243.3M387.7,244.7L391.7,248.6M387.7,248.6L391.7,244.7M389.2,245.1L393.2,249.0M389.2,249.0L393.2,245.1M390.7,245.2L394.7,249.1M390.7,249.1L394.7,245.2M392.2,244.9L396.2,248.8M392.2,248.8L396.2,244.9M393.7,245.0L397.7,248.9M393.7,248.9L397.7,245.0M395.2,245.8L399.2,249.7M395.2,249.7L399.2,245.8M396.7,245.5L400.7,249.4M396.7,249.4L400.7,245.5M398.2,244.9L402.2,248.9M398.2,248.9L402.2,244.9M399.7,245.2L403.7,249.1M399.7,249.1L403.7,245.2M401.2,245.5L405.2,249.4M401.2,249.4L405.2,245.5M402.7,245.4L406.7,249.3M402.7,249.3L406.7,245.4M404.2,245.5L408.2,249.5M404.2,249.5L408.2,245.5M405.7,244.9L409.7,248.9M405.7,248.9L409.7,244.9M407.2,245.5L411.2,249.4M407.2,249.4L411.2,245.5M408.7,245.4L412.7,249.3M408.7,249.3L412.7,245.4M410.2,243.8L414.2,247.8M410.2,247.8L414.2,243.8M411.7,243.1L415.7,247.0M411.7,247.0L415.7,243.1M413.2,239.4L417.2,243.4M413.2,243.4L417.2,239.4M414.7,234.9L418.7,238.8M414.7,238.8L418.7,234.9M416.2,229.4L420.2,233.3M416.2,233.3L420.2,229.4M417.7,223.9L421.7,227.8M417.7,227.8L421.7,223.9M419.2,222.4L423.2,226.3M419.2,226.3L423.2,222.4M420.7,225.8L424.7,229.7M420.7,229.7L424.7,225.8M422.2,233.3L426.2,237.2M422.2,237.2L426.2,233.3M423.7,238.8L427.7,242.7M423.7,242.7L427.7,238.8M425.2,241.7L429.2,245.6M425.2,245.6L429.2,241.7M426.7,244.4L430.7,248.3M426.7,248.3L430.7,244.4M428.2,244.8L432.2,248.7M428.2,248.7L432.2,244.8M429.7,246.2L433.7,250.1M429.7,250.1L433.7,246.2M431.2,245.8L435.2,249.8M431.2,249.8L435.2,245.8M432.7,246.8L436.7,250.7M432.7,250.7L436.7,246.8M434.2,246.0L438.2,249.9M434.2,249.9L438.2,246.0M435.7,246.2L439.7,250.1M435.7,250.1L439.7,246.2M437.2,246.4L441.2,250.3M437.2,250.3L441.2,246.4M438.7,246.4L442.7,250.4M438.7,250.4L442.7,246.4M440.2,246.6L444.2,250.5M440.2,250.5L444.2,246.6M441.7,246.4L445.7,250.4M441.7,250.4L445.7,246.4M443.2,246.7L447.2,250.6M443.2,250.6L447.2,246.7M444.7,247.3L448.7,251.2M444.7,251.2L448.7,247.3M446.2,247.1L450.2,251.0M446.2,251.0L450.2,247.1M447.7,247.3L451.7,251.2M447.7,251.2L451.7,247.3M449.2,246.7L453.2,250.6M449.2,250.6L453.2,246.7M450.7,246.8L454.7,250.7M450.7,250.7L454.7,246.8M452.2,246.9L456.2,250.9M452.2,250.9L456.2,246.9" fill="none" stroke="#564f4f" stroke-width="0.8"/>
<polyline points="355.20,261.89 355.70,261.86 356.20,261.78 356.70,261.44 357.20,261.52 357.70,261.61 358.20,261.71 358.70,261.67 359.20,262.15 359.70,261.45 360.20,262.23 360.70,261.56 361.20,262.11 361.70,261.56 362.20,261.87 362.70,261.68 363.20,261.37 363.70,262.05 364.20,262.05 364.70,261.56 365.20,262.00 365.70,261.72 366.20,262.17 366.70,261.31 367.20,261.59 367.70,261.42 368.20,261.75 368.70,261.85 369.20,261.86 369.70,261.54 370.20,261.32 370.70,261.59 371.20,260.83 371.70,260.79 372.20,261.01 372.70,260.44 373.20,260.57 373.70,259.30 374.20,259.08 374.70,258.19 375.20,257.21 375.70,256.39 376.20,255.39 376.70,254.55 377.20,253.46 377.70,252.38 378.20,251.07 378.70,250.45 379.20,249.51 379.70,249.46 380.20,248.62 380.70,249.20 381.20,249.81 381.70,250.58 382.20,252.08 382.70,252.65 383.20,254.42 383.70,255.10 384.20,256.15 384.70,257.38 385.20,258.20 385.70,258.71 386.20,259.17 386.70,260.48 387.20,260.39 387.70,260.51 388.20,261.28 388.70,261.38 389.20,261.37 389.70,261.50 390.20,262.07 390.70,261.70 391.20,261.84 391.70,262.38 392.20,261.90 392.70,261.97 393.20,261.79 393.70,262.28 394.20,262.31 394.70,262.13 395.20,262.12 395.70,261.99 396.20,262.51 396.70,262.22 397.20,262.58 397.70,262.18 398.20,262.52 398.70,261.89 399.20,262.07 399.70,262.75 400.20,262.50 400.70,262.50 401.20,262.35 401.70,262.33 402.20,262.08 402.70,262.06 403.20,262.48 403.70,262.52 404.20,262.12 404.70,262.46 405.20,262.00 405.70,262.41 406.20,262.00 406.70,262.28 407.20,262.08 407.70,262.27 408.20,261.86 408.70,262.13 409.20,262.20 409.70,261.70 410.20,261.78 410.70,262.00 411.20,261.74 411.70,261.63 412.20,261.54 412.70,261.04 413.20,260.33 413.70,260.02 414.20,259.74 414.70,258.72 415.20,257.95 415.70,256.48 416.20,255.27 416.70,254.28 417.20,252.56 417.70,250.70 418.20,248.47 418.70,247.21 419.20,245.11 419.70,244.60 420.20,243.73 420.70,243.12 421.20,242.89 421.70,244.14 422.20,244.73 422.70,246.83 423.20,248.24 423.70,249.56 424.20,252.09 424.70,253.35 425.20,255.24 425.70,256.48 426.20,257.55 426.70,258.88 427.20,259.15 427.70,260.49 428.20,260.56 428.70,260.74 429.20,261.38 429.70,261.42 430.20,261.65 430.70,262.32 431.20,262.01 431.70,262.16 432.20,262.37 432.70,262.44 433.20,263.08 433.70,263.13 434.20,263.15 434.70,263.31 435.20,262.86 435.70,263.22 436.20,262.79 436.70,263.41 437.20,263.34 437.70,263.30 438.20,262.87 438.70,262.78 439.20,263.55 439.70,263.24 440.20,263.32 440.70,263.57 441.20,262.94 441.70,263.46 442.20,263.27 442.70,263.58 443.20,263.30 443.70,263.09 444.20,263.79 444.70,263.20 445.20,263.64 445.70,263.73 446.20,263.22 446.70,263.64 447.20,263.39 447.70,263.25 448.20,263.25 448.70,263.93 449.20,263.42 449.70,263.56 450.20,263.57 450.70,263.15 451.20,263.82 451.70,263.83 452.20,263.96 452.70,263.50 453.20,263.38 453.70,263.52 454.20,263.88 454.70,263.82 455.20,263.61" fill="none" stroke="#68b234" stroke-width="3.5" stroke-linejoin="round" stroke-linecap="round" />
<polyline points="355.20,275.23 355.70,274.90 356.20,275.59 356.70,275.19 357.20,275.22 357.70,275.48 358.20,274.95 358.70,275.42 359.20,275.09 359.70,275.51 360.20,274.86 360.70,275.02 361.20,275.35 361.70,275.21 362.20,275.11 362.70,275.29 363.20,274.96 363.70,275.16 364.20,274.76 364.70,275.47 365.20,274.98 365.70,275.49 366.20,275.23 366.70,275.26 367.20,275.27 367.70,274.80 368.20,275.37 368.70,274.91 369.20,275.39 369.70,275.28 370.20,275.13 370.70,275.18 371.20,274.75 371.70,274.84 372.20,274.94 372.70,274.05 373.20,273.72 373.70,273.69 374.20,273.39 374.70,272.61 375.20,272.13 375.70,272.10 376.20,270.98 376.70,270.02 377.20,269.26 377.70,268.82 378.20,267.71 378.70,267.29 379.20,266.82 379.70,266.40 380.20,266.39 380.70,266.87 381.20,266.56 381.70,267.99 382.20,268.06 382.70,268.71 383.20,270.17 383.70,270.78 384.20,271.49 384.70,271.87 385.20,272.97 385.70,273.06 386.20,273.88 386.70,273.80 387.20,274.41 387.70,274.71 388.20,274.65 388.70,274.90 389.20,274.65 389.70,275.26 390.20,275.37 390.70,274.95 391.20,275.35 391.70,275.55 392.20,275.02 392.70,275.71 393.20,275.76 393.70,275.05 394.20,275.24 394.70,275.11 395.20,275.28 395.70,275.14 396.20,275.52 396.70,275.32 397.20,275.37 397.70,275.53 398.20,275.45 398.70,275.84 399.20,275.78 399.70,275.24 400.20,275.34 400.70,275.15 401.20,275.44 401.70,275.25 402.20,275.78 402.70,275.85 403.20,276.04 403.70,275.33 404.20,275.17 404.70,275.81 405.20,275.49 405.70,275.95 406.20,275.45 406.70,275.37 407.20,275.14 407.70,275.90 408.20,275.48 408.70,275.39 409.20,275.35 409.70,275.60 410.20,275.60 410.70,275.20 411.20,274.83 411.70,274.90 412.20,275.17 412.70,274.51 413.20,274.45 413.70,273.99 414.20,273.45 414.70,272.99 415.20,272.01 415.70,271.48 416.20,270.83 416.70,269.07 417.20,268.18 417.70,267.41 418.20,266.23 418.70,264.12 419.20,263.53 419.70,262.59 420.20,262.12 420.70,261.50 421.20,261.33 421.70,262.01 422.20,263.24 422.70,264.35 423.20,265.10 423.70,266.77 424.20,268.05 424.70,269.25 425.20,269.79 425.70,271.16 426.20,271.93 426.70,272.92 427.20,273.31 427.70,273.63 428.20,274.54 428.70,274.52 429.20,275.24 429.70,275.01 430.20,275.39 430.70,275.75 431.20,275.23 431.70,275.86 432.20,275.33 432.70,276.17 433.20,275.40 433.70,276.07 434.20,275.79 434.70,275.65 435.20,275.88 435.70,276.00 436.20,275.95 436.70,275.71 437.20,276.10 437.70,275.92 438.20,276.54 438.70,276.03 439.20,276.10 439.70,275.93 440.20,276.61 440.70,276.05 441.20,276.36 441.70,276.54 442.20,276.16 442.70,276.50 443.20,276.08 443.70,275.94 444.20,275.89 444.70,276.27 445.20,276.67 445.70,276.07 446.20,276.30 446.70,276.60 447.20,276.17 447.70,276.07 448.20,276.41 448.70,276.34 449.20,276.81 449.70,276.78 450.20,276.20 450.70,276.50 451.20,276.38 451.70,276.04 452.20,276.42 452.70,276.86 453.20,276.31 453.70,276.58 454.20,276.70 454.70,276.12 455.20,276.91" fill="none" stroke="#7597cc" stroke-width="3.8" stroke-linejoin="round" stroke-linecap="round" />
<polyline points="355.20,275.23 355.70,274.90 356.20,275.59 356.70,275.19 357.20,275.22 357.70,275.48 358.20,274.95 358.70,275.42 359.20,275.09 359.70,275.51 360.20,274.86 360.70,275.02 361.20,275.35 361.70,275.21 362.20,275.11 362.70,275.29 363.20,274.96 363.70,275.16 364.20,274.76 364.70,275.47 365.20,274.98 365.70,275.49 366.20,275.23 366.70,275.26 367.20,275.27 367.70,274.80 368.20,275.37 368.70,274.91 369.20,275.39 369.70,275.28 370.20,275.13 370.70,275.18 371.20,274.75 371.70,274.84 372.20,274.94 372.70,274.05 373.20,273.72 373.70,273.69 374.20,273.39 374.70,272.61 375.20,272.13 375.70,272.10 376.20,270.98 376.70,270.02 377.20,269.26 377.70,268.82 378.20,267.71 378.70,267.29 379.20,266.82 379.70,266.40 380.20,266.39 380.70,266.87 381.20,266.56 381.70,267.99 382.20,268.06 382.70,268.71 383.20,270.17 383.70,270.78 384.20,271.49 384.70,271.87 385.20,272.97 385.70,273.06 386.20,273.88 386.70,273.80 387.20,274.41 387.70,274.71 388.20,274.65 388.70,274.90 389.20,274.65 389.70,275.26 390.20,275.37 390.70,274.95 391.20,275.35 391.70,275.55 392.20,275.02 392.70,275.71 393.20,275.76 393.70,275.05 394.20,275.24 394.70,275.11 395.20,275.28 395.70,275.14 396.20,275.52 396.70,275.32 397.20,275.37 397.70,275.53 398.20,275.45 398.70,275.84 399.20,275.78 399.70,275.24 400.20,275.34 400.70,275.15 401.20,275.44 401.70,275.25 402.20,275.78 402.70,275.85 403.20,276.04 403.70,275.33 404.20,275.17 404.70,275.81 405.20,275.49 405.70,275.95 406.20,275.45 406.70,275.37 407.20,275.14 407.70,275.90 408.20,275.48 408.70,275.39 409.20,275.35 409.70,275.60 410.20,275.60 410.70,275.20 411.20,274.83 411.70,274.90 412.20,275.17 412.70,274.51 413.20,274.45 413.70,273.99 414.20,273.45 414.70,272.99 415.20,272.01 415.70,271.48 416.20,270.83 416.70,269.07 417.20,268.18 417.70,267.41 418.20,266.23 418.70,264.12 419.20,263.53 419.70,262.59 420.20,262.12 420.70,261.50 421.20,261.33 421.70,262.01 422.20,263.24 422.70,264.35 423.20,265.10 423.70,266.77 424.20,268.05 424.70,269.25 425.20,269.79 425.70,271.16 426.20,271.93 426.70,272.92 427.20,273.31 427.70,273.63 428.20,274.54 428.70,274.52 429.20,275.24 429.70,275.01 430.20,275.39 430.70,275.75 431.20,275.23 431.70,275.86 432.20,275.33 432.70,276.17 433.20,275.40 433.70,276.07 434.20,275.79 434.70,275.65 435.20,275.88 435.70,276.00 436.20,275.95 436.70,275.71 437.20,276.10 437.70,275.92 438.20,276.54 438.70,276.03 439.20,276.10 439.70,275.93 440.20,276.61 440.70,276.05 441.20,276.36 441.70,276.54 442.20,276.16 442.70,276.50 443.20,276.08 443.70,275.94 444.20,275.89 444.70,276.27 445.20,276.67 445.70,276.07 446.20,276.30 446.70,276.60 447.20,276.17 447.70,276.07 448.20,276.41 448.70,276.34 449.20,276.81 449.70,276.78 450.20,276.20 450.70,276.50 451.20,276.38 451.70,276.04 452.20,276.42 452.70,276.86 453.20,276.31 453.70,276.58 454.20,276.70 454.70,276.12 455.20,276.91" fill="none" stroke="#9cb4df" stroke-width="0.9" stroke-linejoin="round" stroke-linecap="round" />
<polyline points="355.20,289.33 355.70,289.68 356.20,290.43 356.70,289.18 357.20,289.82 357.70,289.37 358.20,290.00 358.70,289.18 359.20,289.42 359.70,289.55 360.20,289.29 360.70,289.31 361.20,289.50 361.70,290.08 362.20,289.39 362.70,290.62 363.20,289.89 363.70,289.59 364.20,289.57 364.70,290.64 365.20,289.21 365.70,290.46 366.20,289.29 366.70,290.81 367.20,289.83 367.70,290.16 368.20,290.62 368.70,289.23 369.20,289.15 369.70,290.25 370.20,290.02 370.70,290.22 371.20,289.36 371.70,289.67 372.20,289.01 372.70,289.32 373.20,288.88 373.70,289.21 374.20,288.44 374.70,288.08 375.20,288.38 375.70,286.96 376.20,287.79 376.70,286.73 377.20,285.72 377.70,284.98 378.20,285.18 378.70,284.71 379.20,284.74 379.70,283.90 380.20,283.92 380.70,284.91 381.20,284.08 381.70,285.76 382.20,286.10 382.70,286.80 383.20,287.26 383.70,286.56 384.20,288.05 384.70,288.14 385.20,287.81 385.70,289.59 386.20,289.25 386.70,289.79 387.20,289.54 387.70,288.84 388.20,290.38 388.70,289.24 389.20,289.47 389.70,290.17 390.20,289.46 390.70,289.99 391.20,290.47 391.70,289.38 392.20,290.42 392.70,289.44 393.20,290.12 393.70,290.45 394.20,290.53 394.70,289.38 395.20,289.66 395.70,291.05 396.20,290.04 396.70,290.11 397.20,290.02 397.70,290.61 398.20,290.69 398.70,290.54 399.20,290.09 399.70,290.40 400.20,290.31 400.70,289.72 401.20,291.09 401.70,291.12 402.20,290.78 402.70,291.17 403.20,290.22 403.70,290.89 404.20,289.81 404.70,290.71 405.20,290.66 405.70,291.06 406.20,290.86 406.70,290.93 407.20,289.82 407.70,290.75 408.20,290.17 408.70,289.86 409.20,289.94 409.70,290.69 410.20,290.73 410.70,290.69 411.20,290.31 411.70,289.34 412.20,289.21 412.70,289.82 413.20,289.01 413.70,289.02 414.20,288.33 414.70,288.09 415.20,288.70 415.70,287.34 416.20,287.92 416.70,286.36 417.20,286.62 417.70,284.91 418.20,284.11 418.70,283.60 419.20,282.24 419.70,282.45 420.20,281.96 420.70,281.13 421.20,282.74 421.70,282.18 422.20,282.01 422.70,284.38 423.20,283.78 423.70,284.58 424.20,284.91 424.70,285.75 425.20,287.51 425.70,287.86 426.20,288.24 426.70,288.21 427.20,288.65 427.70,290.19 428.20,289.35 428.70,290.66 429.20,290.63 429.70,289.38 430.20,290.78 430.70,289.36 431.20,290.66 431.70,290.89 432.20,290.72 432.70,290.50 433.20,291.00 433.70,289.84 434.20,290.55 434.70,290.08 435.20,290.34 435.70,289.98 436.20,290.93 436.70,290.70 437.20,291.09 437.70,290.83 438.20,290.79 438.70,291.38 439.20,291.19 439.70,290.76 440.20,290.34 440.70,291.43 441.20,290.44 441.70,289.97 442.20,290.39 442.70,291.07 443.20,291.48 443.70,290.98 444.20,291.01 444.70,291.52 445.20,291.24 445.70,290.65 446.20,290.68 446.70,291.22 447.20,290.44 447.70,290.07 448.20,290.99 448.70,291.34 449.20,290.34 449.70,291.12 450.20,291.51 450.70,290.14 451.20,290.16 451.70,290.80 452.20,290.52 452.70,291.64 453.20,291.73 453.70,290.74 454.20,291.37 454.70,291.09 455.20,290.27" fill="none" stroke="#878a2e" stroke-width="3.5" stroke-linejoin="round" stroke-linecap="round" />
<path d="M356.2,287.7V293.1M353.9,289.1L358.5,291.8M353.9,291.8L358.5,289.1M357.2,287.1V292.5M354.9,288.5L359.5,291.2M354.9,291.2L359.5,288.5M358.2,287.3V292.7M355.9,288.6L360.5,291.3M355.9,291.3L360.5,288.6M359.2,286.7V292.1M356.9,288.1L361.5,290.8M356.9,290.8L361.5,288.1M360.2,286.6V292.0M357.9,287.9L362.5,290.6M357.9,290.6L362.5,287.9M361.2,286.8V292.2M358.9,288.1L363.5,290.8M358.9,290.8L363.5,288.1M362.2,286.7V292.1M359.9,288.0L364.5,290.7M359.9,290.7L364.5,288.0M363.2,287.2V292.6M360.9,288.5L365.5,291.2M360.9,291.2L365.5,288.5M364.2,286.9V292.3M361.9,288.2L366.5,290.9M361.9,290.9L366.5,288.2M365.2,286.5V291.9M362.9,287.9L367.5,290.6M362.9,290.6L367.5,287.9M366.2,286.6V292.0M363.9,287.9L368.5,290.6M363.9,290.6L368.5,287.9M367.2,287.1V292.5M364.9,288.5L369.5,291.2M364.9,291.2L369.5,288.5M368.2,287.9V293.3M365.9,289.3L370.5,292.0M365.9,292.0L370.5,289.3M369.2,286.4V291.8M366.9,287.8L371.5,290.5M366.9,290.5L371.5,287.8M370.2,287.3V292.7M367.9,288.7L372.5,291.4M367.9,291.4L372.5,288.7M371.2,286.7V292.1M368.9,288.0L373.5,290.7M368.9,290.7L373.5,288.0M372.2,286.3V291.7M369.9,287.7L374.5,290.4M369.9,290.4L374.5,287.7M373.2,286.2V291.6M370.9,287.5L375.5,290.2M370.9,290.2L375.5,287.5M374.2,285.7V291.1M371.9,287.1L376.5,289.8M371.9,289.8L376.5,287.1M375.2,285.7V291.1M372.9,287.0L377.5,289.7M372.9,289.7L377.5,287.0M376.2,285.1V290.5M373.9,286.4L378.5,289.1M373.9,289.1L378.5,286.4M377.2,283.0V288.4M374.9,284.4L379.5,287.1M374.9,287.1L379.5,284.4M378.2,282.5V287.9M375.9,283.8L380.5,286.5M375.9,286.5L380.5,283.8M379.2,282.0V287.4M376.9,283.4L381.5,286.1M376.9,286.1L381.5,283.4M380.2,281.2V286.6M377.9,282.6L382.5,285.3M377.9,285.3L382.5,282.6M381.2,281.4V286.8M378.9,282.7L383.5,285.4M378.9,285.4L383.5,282.7M382.2,283.4V288.8M379.9,284.7L384.5,287.4M379.9,287.4L384.5,284.7M383.2,284.6V290.0M380.9,285.9L385.5,288.6M380.9,288.6L385.5,285.9M384.2,285.4V290.8M381.9,286.7L386.5,289.4M381.9,289.4L386.5,286.7M385.2,285.1V290.5M382.9,286.5L387.5,289.2M382.9,289.2L387.5,286.5M386.2,286.6V292.0M383.9,287.9L388.5,290.6M383.9,290.6L388.5,287.9M387.2,286.8V292.2M384.9,288.2L389.5,290.9M384.9,290.9L389.5,288.2M388.2,287.7V293.1M385.9,289.0L390.5,291.7M385.9,291.7L390.5,289.0M389.2,286.8V292.2M386.9,288.1L391.5,290.8M386.9,290.8L391.5,288.1M390.2,286.8V292.2M387.9,288.1L392.5,290.8M387.9,290.8L392.5,288.1M391.2,287.8V293.2M388.9,289.1L393.5,291.8M388.9,291.8L393.5,289.1M392.2,287.7V293.1M389.9,289.1L394.5,291.8M389.9,291.8L394.5,289.1M393.2,287.4V292.8M390.9,288.8L395.5,291.5M390.9,291.5L395.5,288.8M394.2,287.8V293.2M391.9,289.2L396.5,291.9M391.9,291.9L396.5,289.2M395.2,287.0V292.4M392.9,288.3L397.5,291.0M392.9,291.0L397.5,288.3M396.2,287.3V292.7M393.9,288.7L398.5,291.4M393.9,291.4L398.5,288.7M397.2,287.3V292.7M394.9,288.7L399.5,291.4M394.9,291.4L399.5,288.7M398.2,288.0V293.4M395.9,289.3L400.5,292.0M395.9,292.0L400.5,289.3M399.2,287.4V292.8M396.9,288.7L401.5,291.4M396.9,291.4L401.5,288.7M400.2,287.6V293.0M397.9,289.0L402.5,291.7M397.9,291.7L402.5,289.0M401.2,288.4V293.8M398.9,289.7L403.5,292.4M398.9,292.4L403.5,289.7M402.2,288.1V293.5M399.9,289.4L404.5,292.1M399.9,292.1L404.5,289.4M403.2,287.5V292.9M400.9,288.9L405.5,291.6M400.9,291.6L405.5,288.9M404.2,287.1V292.5M401.9,288.5L406.5,291.2M401.9,291.2L406.5,288.5M405.2,288.0V293.4M402.9,289.3L407.5,292.0M402.9,292.0L407.5,289.3M406.2,288.2V293.6M403.9,289.5L408.5,292.2M403.9,292.2L408.5,289.5M407.2,287.1V292.5M404.9,288.5L409.5,291.2M404.9,291.2L409.5,288.5M408.2,287.5V292.9M405.9,288.8L410.5,291.5M405.9,291.5L410.5,288.8M409.2,287.2V292.6M406.9,288.6L411.5,291.3M406.9,291.3L411.5,288.6M410.2,288.0V293.4M407.9,289.4L412.5,292.1M407.9,292.1L412.5,289.4M411.2,287.6V293.0M408.9,289.0L413.5,291.7M408.9,291.7L413.5,289.0M412.2,286.5V291.9M409.9,287.9L414.5,290.6M409.9,290.6L414.5,287.9M413.2,286.3V291.7M410.9,287.7L415.5,290.4M410.9,290.4L415.5,287.7M414.2,285.6V291.0M411.9,287.0L416.5,289.7M411.9,289.7L416.5,287.0M415.2,286.0V291.4M412.9,287.4L417.5,290.1M412.9,290.1L417.5,287.4M416.2,285.2V290.6M413.9,286.6L418.5,289.3M413.9,289.3L418.5,286.6M417.2,283.9V289.3M414.9,285.3L419.5,288.0M414.9,288.0L419.5,285.3M418.2,281.4V286.8M415.9,282.8L420.5,285.5M415.9,285.5L420.5,282.8M419.2,279.5V284.9M416.9,280.9L421.5,283.6M416.9,283.6L421.5,280.9M420.2,279.3V284.7M417.9,280.6L422.5,283.3M417.9,283.3L422.5,280.6M421.2,280.0V285.4M418.9,281.4L423.5,284.1M418.9,284.1L423.5,281.4M422.2,279.3V284.7M419.9,280.7L424.5,283.4M419.9,283.4L424.5,280.7M423.2,281.1V286.5M420.9,282.4L425.5,285.1M420.9,285.1L425.5,282.4M424.2,282.2V287.6M421.9,283.6L426.5,286.3M421.9,286.3L426.5,283.6M425.2,284.8V290.2M422.9,286.2L427.5,288.9M422.9,288.9L427.5,286.2M426.2,285.5V290.9M423.9,286.9L428.5,289.6M423.9,289.6L428.5,286.9M427.2,286.0V291.4M424.9,287.3L429.5,290.0M424.9,290.0L429.5,287.3M428.2,286.7V292.1M425.9,288.0L430.5,290.7M425.9,290.7L430.5,288.0M429.2,287.9V293.3M426.9,289.3L431.5,292.0M426.9,292.0L431.5,289.3M430.2,288.1V293.5M427.9,289.4L432.5,292.1M427.9,292.1L432.5,289.4M431.2,288.0V293.4M428.9,289.3L433.5,292.0M428.9,292.0L433.5,289.3M432.2,288.0V293.4M429.9,289.4L434.5,292.1M429.9,292.1L434.5,289.4M433.2,288.3V293.7M430.9,289.6L435.5,292.3M430.9,292.3L435.5,289.6M434.2,287.9V293.3M431.9,289.2L436.5,291.9M431.9,291.9L436.5,289.2M435.2,287.6V293.0M432.9,289.0L437.5,291.7M432.9,291.7L437.5,289.0M436.2,288.2V293.6M433.9,289.6L438.5,292.3M433.9,292.3L438.5,289.6M437.2,288.4V293.8M434.9,289.7L439.5,292.4M434.9,292.4L439.5,289.7M438.2,288.1V293.5M435.9,289.4L440.5,292.1M435.9,292.1L440.5,289.4M439.2,288.5V293.9M436.9,289.8L441.5,292.5M436.9,292.5L441.5,289.8M440.2,287.6V293.0M437.9,289.0L442.5,291.7M437.9,291.7L442.5,289.0M441.2,287.7V293.1M438.9,289.1L443.5,291.8M438.9,291.8L443.5,289.1M442.2,287.7V293.1M439.9,289.0L444.5,291.7M439.9,291.7L444.5,289.0M443.2,288.8V294.2M440.9,290.1L445.5,292.8M440.9,292.8L445.5,290.1M444.2,288.3V293.7M441.9,289.7L446.5,292.4M441.9,292.4L446.5,289.7M445.2,288.5V293.9M442.9,289.9L447.5,292.6M442.9,292.6L447.5,289.9M446.2,288.0V293.4M443.9,289.3L448.5,292.0M443.9,292.0L448.5,289.3M447.2,287.7V293.1M444.9,289.1L449.5,291.8M444.9,291.8L449.5,289.1M448.2,288.3V293.7M445.9,289.6L450.5,292.3M445.9,292.3L450.5,289.6M449.2,287.6V293.0M446.9,289.0L451.5,291.7M446.9,291.7L451.5,289.0M450.2,288.8V294.2M447.9,290.2L452.5,292.9M447.9,292.9L452.5,290.2M451.2,287.5V292.9M448.9,288.8L453.5,291.5M448.9,291.5L453.5,288.8M452.2,287.8V293.2M449.9,289.2L454.5,291.9M449.9,291.9L454.5,289.2M453.2,289.0V294.4M450.9,290.4L455.5,293.1M450.9,293.1L455.5,290.4M454.2,288.7V294.1M451.9,290.0L456.5,292.7M451.9,292.7L456.5,290.0M455.2,287.6V293.0M452.9,288.9L457.5,291.6M452.9,291.6L457.5,288.9" fill="none" stroke="#878a2e" stroke-width="0.8"/>
<polyline points="355.20,308.29 355.70,307.07 356.20,306.93 356.70,307.52 357.20,306.86 357.70,307.58 358.20,307.48 358.70,308.32 359.20,307.50 359.70,308.18 360.20,308.08 360.70,307.79 361.20,307.27 361.70,307.38 362.20,307.67 362.70,307.53 363.20,307.92 363.70,307.71 364.20,307.44 364.70,307.88 365.20,308.48 365.70,307.27 366.20,307.48 366.70,306.99 367.20,307.11 367.70,307.06 368.20,307.62 368.70,308.25 369.20,308.03 369.70,308.43 370.20,308.22 370.70,307.82 371.20,307.78 371.70,306.88 372.20,307.39 372.70,307.14 373.20,307.59 373.70,306.63 374.20,307.22 374.70,306.79 375.20,306.77 375.70,306.40 376.20,305.67 376.70,306.35 377.20,306.16 377.70,305.55 378.20,304.52 378.70,305.00 379.20,305.22 379.70,305.27 380.20,304.90 380.70,303.89 381.20,305.34 381.70,305.26 382.20,304.96 382.70,306.26 383.20,306.44 383.70,306.86 384.20,306.17 384.70,306.94 385.20,306.88 385.70,306.97 386.20,307.86 386.70,307.79 387.20,307.48 387.70,307.90 388.20,308.57 388.70,308.09 389.20,308.67 389.70,308.18 390.20,308.87 390.70,307.43 391.20,308.11 391.70,308.28 392.20,308.57 392.70,308.95 393.20,308.44 393.70,308.24 394.20,308.49 394.70,308.35 395.20,308.63 395.70,309.01 396.20,307.60 396.70,308.08 397.20,308.94 397.70,307.70 398.20,308.83 398.70,307.68 399.20,308.64 399.70,308.88 400.20,308.03 400.70,308.26 401.20,308.03 401.70,308.77 402.20,308.51 402.70,308.63 403.20,308.21 403.70,308.62 404.20,309.19 404.70,308.93 405.20,309.19 405.70,308.12 406.20,308.54 406.70,308.34 407.20,308.28 407.70,308.98 408.20,308.02 408.70,308.60 409.20,308.92 409.70,309.16 410.20,307.74 410.70,308.11 411.20,308.41 411.70,309.05 412.20,307.81 412.70,308.77 413.20,307.99 413.70,308.09 414.20,308.50 414.70,306.97 415.20,307.12 415.70,306.56 416.20,306.17 416.70,306.04 417.20,306.21 417.70,305.56 418.20,304.38 418.70,304.96 419.20,304.08 419.70,303.16 420.20,303.96 420.70,303.86 421.20,302.99 421.70,304.31 422.20,304.45 422.70,303.98 423.20,304.11 423.70,305.94 424.20,306.37 424.70,305.72 425.20,307.18 425.70,307.58 426.20,307.71 426.70,308.30 427.20,308.78 427.70,307.98 428.20,308.93 428.70,309.19 429.20,308.37 429.70,309.03 430.20,309.10 430.70,309.41 431.20,309.02 431.70,308.61 432.20,308.61 432.70,309.09 433.20,308.49 433.70,309.62 434.20,309.69 434.70,308.72 435.20,309.44 435.70,309.42 436.20,308.60 436.70,309.62 437.20,309.62 437.70,308.93 438.20,308.63 438.70,308.92 439.20,309.69 439.70,309.23 440.20,309.78 440.70,308.79 441.20,308.73 441.70,309.11 442.20,309.94 442.70,308.85 443.20,308.73 443.70,309.78 444.20,308.78 444.70,309.68 445.20,308.80 445.70,309.06 446.20,309.71 446.70,310.04 447.20,309.34 447.70,309.42 448.20,308.79 448.70,309.27 449.20,309.14 449.70,309.98 450.20,309.88 450.70,310.00 451.20,309.63 451.70,309.89 452.20,309.03 452.70,309.44 453.20,309.31 453.70,309.30 454.20,310.01 454.70,309.22 455.20,309.40" fill="none" stroke="#45bab0" stroke-width="3.2" stroke-linejoin="round" stroke-linecap="round" />
<path d="M356.2,304.7V309.1M354.3,305.8L358.1,308.0M354.3,308.0L358.1,305.8M357.2,304.7V309.1M355.3,305.8L359.1,308.0M355.3,308.0L359.1,305.8M358.2,305.3V309.7M356.3,306.4L360.1,308.6M356.3,308.6L360.1,306.4M359.2,305.3V309.7M357.3,306.4L361.1,308.6M357.3,308.6L361.1,306.4M360.2,305.9V310.3M358.3,307.0L362.1,309.2M358.3,309.2L362.1,307.0M361.2,305.1V309.5M359.3,306.2L363.1,308.4M359.3,308.4L363.1,306.2M362.2,305.5V309.9M360.3,306.6L364.1,308.8M360.3,308.8L364.1,306.6M363.2,305.7V310.1M361.3,306.8L365.1,309.0M361.3,309.0L365.1,306.8M364.2,305.2V309.6M362.3,306.3L366.1,308.5M362.3,308.5L366.1,306.3M365.2,306.3V310.7M363.3,307.4L367.1,309.6M363.3,309.6L367.1,307.4M366.2,305.3V309.7M364.3,306.4L368.1,308.6M364.3,308.6L368.1,306.4M367.2,304.9V309.3M365.3,306.0L369.1,308.2M365.3,308.2L369.1,306.0M368.2,305.4V309.8M366.3,306.5L370.1,308.7M366.3,308.7L370.1,306.5M369.2,305.8V310.2M367.3,306.9L371.1,309.1M367.3,309.1L371.1,306.9M370.2,306.0V310.4M368.3,307.1L372.1,309.3M368.3,309.3L372.1,307.1M371.2,305.6V310.0M369.3,306.7L373.1,308.9M369.3,308.9L373.1,306.7M372.2,305.2V309.6M370.3,306.3L374.1,308.5M370.3,308.5L374.1,306.3M373.2,305.4V309.8M371.3,306.5L375.1,308.7M371.3,308.7L375.1,306.5M374.2,305.0V309.4M372.3,306.1L376.1,308.3M372.3,308.3L376.1,306.1M375.2,304.6V309.0M373.3,305.7L377.1,307.9M373.3,307.9L377.1,305.7M376.2,303.5V307.9M374.3,304.6L378.1,306.8M374.3,306.8L378.1,304.6M377.2,304.0V308.4M375.3,305.1L379.1,307.3M375.3,307.3L379.1,305.1M378.2,302.3V306.7M376.3,303.4L380.1,305.6M376.3,305.6L380.1,303.4M379.2,303.0V307.4M377.3,304.1L381.1,306.3M377.3,306.3L381.1,304.1M380.2,302.7V307.1M378.3,303.8L382.1,306.0M378.3,306.0L382.1,303.8M381.2,303.1V307.5M379.3,304.2L383.1,306.4M379.3,306.4L383.1,304.2M382.2,302.8V307.2M380.3,303.9L384.1,306.1M380.3,306.1L384.1,303.9M383.2,304.2V308.6M381.3,305.3L385.1,307.5M381.3,307.5L385.1,305.3M384.2,304.0V308.4M382.3,305.1L386.1,307.3M382.3,307.3L386.1,305.1M385.2,304.7V309.1M383.3,305.8L387.1,308.0M383.3,308.0L387.1,305.8M386.2,305.7V310.1M384.3,306.8L388.1,309.0M384.3,309.0L388.1,306.8M387.2,305.3V309.7M385.3,306.4L389.1,308.6M385.3,308.6L389.1,306.4M388.2,306.4V310.8M386.3,307.5L390.1,309.7M386.3,309.7L390.1,307.5M389.2,306.5V310.9M387.3,307.6L391.1,309.8M387.3,309.8L391.1,307.6M390.2,306.7V311.1M388.3,307.8L392.1,310.0M388.3,310.0L392.1,307.8M391.2,305.9V310.3M389.3,307.0L393.1,309.2M389.3,309.2L393.1,307.0M392.2,306.4V310.8M390.3,307.5L394.1,309.7M390.3,309.7L394.1,307.5M393.2,306.2V310.6M391.3,307.3L395.1,309.5M391.3,309.5L395.1,307.3M394.2,306.3V310.7M392.3,307.4L396.1,309.6M392.3,309.6L396.1,307.4M395.2,306.4V310.8M393.3,307.5L397.1,309.7M393.3,309.7L397.1,307.5M396.2,305.4V309.8M394.3,306.5L398.1,308.7M394.3,308.7L398.1,306.5M397.2,306.7V311.1M395.3,307.8L399.1,310.0M395.3,310.0L399.1,307.8M398.2,306.6V311.0M396.3,307.7L400.1,309.9M396.3,309.9L400.1,307.7M399.2,306.4V310.8M397.3,307.5L401.1,309.7M397.3,309.7L401.1,307.5M400.2,305.8V310.2M398.3,306.9L402.1,309.1M398.3,309.1L402.1,306.9M401.2,305.8V310.2M399.3,306.9L403.1,309.1M399.3,309.1L403.1,306.9M402.2,306.3V310.7M400.3,307.4L404.1,309.6M400.3,309.6L404.1,307.4M403.2,306.0V310.4M401.3,307.1L405.1,309.3M401.3,309.3L405.1,307.1M404.2,307.0V311.4M402.3,308.1L406.1,310.3M402.3,310.3L406.1,308.1M405.2,307.0V311.4M403.3,308.1L407.1,310.3M403.3,310.3L407.1,308.1M406.2,306.3V310.7M404.3,307.4L408.1,309.6M404.3,309.6L408.1,307.4M407.2,306.1V310.5M405.3,307.2L409.1,309.4M405.3,309.4L409.1,307.2M408.2,305.8V310.2M406.3,306.9L410.1,309.1M406.3,309.1L410.1,306.9M409.2,306.7V311.1M407.3,307.8L411.1,310.0M407.3,310.0L411.1,307.8M410.2,305.5V309.9M408.3,306.6L412.1,308.8M408.3,308.8L412.1,306.6M411.2,306.2V310.6M409.3,307.3L413.1,309.5M409.3,309.5L413.1,307.3M412.2,305.6V310.0M410.3,306.7L414.1,308.9M410.3,308.9L414.1,306.7M413.2,305.8V310.2M411.3,306.9L415.1,309.1M411.3,309.1L415.1,306.9M414.2,306.3V310.7M412.3,307.4L416.1,309.6M412.3,309.6L416.1,307.4M415.2,304.9V309.3M413.3,306.0L417.1,308.2M413.3,308.2L417.1,306.0M416.2,304.0V308.4M414.3,305.1L418.1,307.3M414.3,307.3L418.1,305.1M417.2,304.0V308.4M415.3,305.1L419.1,307.3M415.3,307.3L419.1,305.1M418.2,302.2V306.6M416.3,303.3L420.1,305.5M416.3,305.5L420.1,303.3M419.2,301.9V306.3M417.3,303.0L421.1,305.2M417.3,305.2L421.1,303.0M420.2,301.8V306.2M418.3,302.9L422.1,305.1M418.3,305.1L422.1,302.9M421.2,300.8V305.2M419.3,301.9L423.1,304.1M419.3,304.1L423.1,301.9M422.2,302.2V306.6M420.3,303.3L424.1,305.5M420.3,305.5L424.1,303.3M423.2,301.9V306.3M421.3,303.0L425.1,305.2M421.3,305.2L425.1,303.0M424.2,304.2V308.6M422.3,305.3L426.1,307.5M422.3,307.5L426.1,305.3M425.2,305.0V309.4M423.3,306.1L427.1,308.3M423.3,308.3L427.1,306.1M426.2,305.5V309.9M424.3,306.6L428.1,308.8M424.3,308.8L428.1,306.6M427.2,306.6V311.0M425.3,307.7L429.1,309.9M425.3,309.9L429.1,307.7M428.2,306.7V311.1M426.3,307.8L430.1,310.0M426.3,310.0L430.1,307.8M429.2,306.2V310.6M427.3,307.3L431.1,309.5M427.3,309.5L431.1,307.3M430.2,306.9V311.3M428.3,308.0L432.1,310.2M428.3,310.2L432.1,308.0M431.2,306.8V311.2M429.3,307.9L433.1,310.1M429.3,310.1L433.1,307.9M432.2,306.4V310.8M430.3,307.5L434.1,309.7M430.3,309.7L434.1,307.5M433.2,306.3V310.7M431.3,307.4L435.1,309.6M431.3,309.6L435.1,307.4M434.2,307.5V311.9M432.3,308.6L436.1,310.8M432.3,310.8L436.1,308.6M435.2,307.2V311.6M433.3,308.3L437.1,310.5M433.3,310.5L437.1,308.3M436.2,306.4V310.8M434.3,307.5L438.1,309.7M434.3,309.7L438.1,307.5M437.2,307.4V311.8M435.3,308.5L439.1,310.7M435.3,310.7L439.1,308.5M438.2,306.4V310.8M436.3,307.5L440.1,309.7M436.3,309.7L440.1,307.5M439.2,307.5V311.9M437.3,308.6L441.1,310.8M437.3,310.8L441.1,308.6M440.2,307.6V312.0M438.3,308.7L442.1,310.9M438.3,310.9L442.1,308.7M441.2,306.5V310.9M439.3,307.6L443.1,309.8M439.3,309.8L443.1,307.6M442.2,307.7V312.1M440.3,308.8L444.1,311.0M440.3,311.0L444.1,308.8M443.2,306.5V310.9M441.3,307.6L445.1,309.8M441.3,309.8L445.1,307.6M444.2,306.6V311.0M442.3,307.7L446.1,309.9M442.3,309.9L446.1,307.7M445.2,306.6V311.0M443.3,307.7L447.1,309.9M443.3,309.9L447.1,307.7M446.2,307.5V311.9M444.3,308.6L448.1,310.8M444.3,310.8L448.1,308.6M447.2,307.1V311.5M445.3,308.2L449.1,310.4M445.3,310.4L449.1,308.2M448.2,306.6V311.0M446.3,307.7L450.1,309.9M446.3,309.9L450.1,307.7M449.2,306.9V311.3M447.3,308.0L451.1,310.2M447.3,310.2L451.1,308.0M450.2,307.7V312.1M448.3,308.8L452.1,311.0M448.3,311.0L452.1,308.8M451.2,307.4V311.8M449.3,308.5L453.1,310.7M449.3,310.7L453.1,308.5M452.2,306.8V311.2M450.3,307.9L454.1,310.1M450.3,310.1L454.1,307.9M453.2,307.1V311.5M451.3,308.2L455.1,310.4M451.3,310.4L455.1,308.2M454.2,307.8V312.2M452.3,308.9L456.1,311.1M452.3,311.1L456.1,308.9M455.2,307.2V311.6M453.3,308.3L457.1,310.5M453.3,310.5L457.1,308.3" fill="none" stroke="#45bab0" stroke-width="0.7"/>
<polyline points="355.20,324.18 355.70,324.97 356.20,324.67 356.70,324.47 357.20,324.34 357.70,325.07 358.20,325.10 358.70,324.45 359.20,324.61 359.70,325.01 360.20,324.20 360.70,324.21 361.20,324.00 361.70,324.55 362.20,324.91 362.70,324.09 363.20,324.46 363.70,325.22 364.20,324.54 364.70,324.41 365.20,325.03 365.70,325.10 366.20,324.41 366.70,324.07 367.20,324.76 367.70,324.90 368.20,325.15 368.70,324.79 369.20,324.31 369.70,324.59 370.20,324.27 370.70,324.47 371.20,324.48 371.70,325.05 372.20,325.01 372.70,324.99 373.20,324.32 373.70,324.90 374.20,323.69 374.70,324.64 375.20,324.12 375.70,324.28 376.20,323.48 376.70,324.07 377.20,322.57 377.70,323.48 378.20,323.24 378.70,322.47 379.20,322.95 379.70,322.04 380.20,322.75 380.70,322.42 381.20,322.46 381.70,322.34 382.20,323.35 382.70,323.46 383.20,322.81 383.70,324.22 384.20,323.40 384.70,323.78 385.20,324.00 385.70,324.36 386.20,324.90 386.70,325.07 387.20,324.74 387.70,324.44 388.20,324.15 388.70,324.14 389.20,324.78 389.70,324.90 390.20,324.74 390.70,325.48 391.20,324.73 391.70,324.66 392.20,324.76 392.70,324.44 393.20,325.49 393.70,325.03 394.20,324.97 394.70,324.83 395.20,324.60 395.70,324.69 396.20,324.94 396.70,324.89 397.20,325.61 397.70,325.06 398.20,324.58 398.70,324.38 399.20,324.53 399.70,324.79 400.20,325.39 400.70,325.54 401.20,324.66 401.70,325.40 402.20,324.95 402.70,325.08 403.20,325.08 403.70,324.42 404.20,324.46 404.70,325.27 405.20,325.30 405.70,324.89 406.20,325.62 406.70,325.48 407.20,324.78 407.70,324.47 408.20,325.12 408.70,325.25 409.20,324.67 409.70,324.41 410.20,325.00 410.70,324.37 411.20,325.30 411.70,325.12 412.20,324.61 412.70,324.78 413.20,324.41 413.70,324.26 414.20,324.13 414.70,324.83 415.20,324.16 415.70,324.30 416.20,323.55 416.70,323.89 417.20,323.29 417.70,323.04 418.20,322.35 418.70,322.24 419.20,321.43 419.70,322.23 420.20,321.65 420.70,321.39 421.20,321.57 421.70,321.00 422.20,321.55 422.70,321.72 423.20,322.88 423.70,322.12 424.20,323.05 424.70,323.96 425.20,324.15 425.70,324.34 426.20,324.02 426.70,324.14 427.20,324.95 427.70,324.55 428.20,325.24 428.70,324.83 429.20,325.46 429.70,325.27 430.20,325.64 430.70,325.91 431.20,325.13 431.70,325.97 432.20,324.68 432.70,325.87 433.20,324.74 433.70,325.46 434.20,325.26 434.70,325.79 435.20,325.19 435.70,325.06 436.20,325.85 436.70,325.54 437.20,325.83 437.70,325.48 438.20,324.88 438.70,325.88 439.20,325.15 439.70,325.50 440.20,324.87 440.70,325.23 441.20,325.79 441.70,325.93 442.20,325.76 442.70,325.51 443.20,325.91 443.70,325.83 444.20,325.22 444.70,325.67 445.20,325.76 445.70,325.95 446.20,325.24 446.70,325.40 447.20,325.45 447.70,325.12 448.20,325.47 448.70,325.99 449.20,325.80 449.70,325.26 450.20,326.02 450.70,325.20 451.20,326.06 451.70,325.25 452.20,325.19 452.70,325.41 453.20,325.77 453.70,325.45 454.20,326.28 454.70,326.36 455.20,325.49" fill="none" stroke="#9a6ab6" stroke-width="3.8" stroke-linejoin="round" stroke-linecap="round" />
<polyline points="355.20,342.77 355.70,342.69 356.20,342.49 356.70,342.02 357.20,343.09 357.70,343.10 358.20,341.66 358.70,342.15 359.20,342.14 359.70,341.95 360.20,342.31 360.70,343.03 361.20,341.69 361.70,342.93 362.20,342.13 362.70,341.68 363.20,343.04 363.70,342.08 364.20,341.99 364.70,341.85 365.20,342.23 365.70,341.85 366.20,341.95 366.70,342.06 367.20,342.56 367.70,342.36 368.20,342.14 368.70,342.48 369.20,342.86 369.70,342.78 370.20,342.19 370.70,343.07 371.20,342.86 371.70,342.50 372.20,342.36 372.70,342.11 373.20,341.79 373.70,342.91 374.20,342.44 374.70,341.62 375.20,342.83 375.70,342.70 376.20,341.32 376.70,342.26 377.20,341.47 377.70,341.85 378.20,342.22 378.70,341.41 379.20,341.58 379.70,341.80 380.20,341.07 380.70,341.76 381.20,341.50 381.70,342.42 382.20,341.29 382.70,342.18 383.20,341.24 383.70,341.69 384.20,341.53 384.70,341.65 385.20,342.30 385.70,341.82 386.20,342.82 386.70,341.79 387.20,342.63 387.70,343.02 388.20,341.92 388.70,342.08 389.20,342.93 389.70,342.49 390.20,343.21 390.70,342.31 391.20,342.41 391.70,343.27 392.20,342.34 392.70,343.30 393.20,343.18 393.70,342.13 394.20,342.67 394.70,343.27 395.20,342.02 395.70,343.14 396.20,343.03 396.70,343.00 397.20,342.77 397.70,342.01 398.20,343.33 398.70,342.02 399.20,343.06 399.70,342.97 400.20,342.36 400.70,342.92 401.20,342.50 401.70,343.03 402.20,341.95 402.70,343.31 403.20,342.47 403.70,343.11 404.20,342.61 404.70,343.13 405.20,342.35 405.70,342.72 406.20,341.93 406.70,342.64 407.20,342.01 407.70,343.21 408.20,342.93 408.70,342.54 409.20,343.38 409.70,343.33 410.20,343.34 410.70,342.00 411.20,342.94 411.70,342.96 412.20,342.75 412.70,341.83 413.20,343.18 413.70,342.40 414.20,342.58 414.70,342.85 415.20,341.94 415.70,341.47 416.20,342.72 416.70,341.60 417.20,341.11 417.70,341.10 418.20,342.26 418.70,341.72 419.20,340.77 419.70,340.56 420.20,341.63 420.70,341.24 421.20,341.14 421.70,340.51 422.20,341.05 422.70,342.00 423.20,340.71 423.70,341.51 424.20,341.11 424.70,342.70 425.20,341.48 425.70,342.90 426.20,342.84 426.70,342.76 427.20,341.79 427.70,342.85 428.20,342.60 428.70,342.64 429.20,342.14 429.70,342.73 430.20,343.20 430.70,342.19 431.20,343.34 431.70,342.66 432.20,342.43 432.70,342.40 433.20,342.75 433.70,343.04 434.20,342.93 434.70,343.42 435.20,342.85 435.70,342.86 436.20,343.59 436.70,342.41 437.20,342.12 437.70,342.60 438.20,342.58 438.70,342.29 439.20,342.75 439.70,342.17 440.20,343.53 440.70,342.86 441.20,343.47 441.70,343.20 442.20,343.25 442.70,343.30 443.20,342.60 443.70,343.26 444.20,342.47 444.70,343.00 445.20,343.07 445.70,343.35 446.20,342.42 446.70,342.69 447.20,343.43 447.70,343.41 448.20,343.67 448.70,342.36 449.20,342.51 449.70,342.35 450.20,343.30 450.70,343.34 451.20,343.19 451.70,343.39 452.20,342.99 452.70,343.07 453.20,343.62 453.70,343.21 454.20,343.22 454.70,343.12 455.20,342.98" fill="none" stroke="#3f5ba8" stroke-width="3.4" stroke-linejoin="round" stroke-linecap="round" />
<path d="M356.2,340.1V344.9M354.1,341.3L358.3,343.7M354.1,343.7L358.3,341.3M357.2,340.7V345.5M355.1,341.9L359.3,344.3M355.1,344.3L359.3,341.9M358.2,339.3V344.1M356.1,340.5L360.3,342.9M356.1,342.9L360.3,340.5M359.2,339.7V344.5M357.1,340.9L361.3,343.3M357.1,343.3L361.3,340.9M360.2,339.9V344.7M358.1,341.1L362.3,343.5M358.1,343.5L362.3,341.1M361.2,339.3V344.1M359.1,340.5L363.3,342.9M359.1,342.9L363.3,340.5M362.2,339.7V344.5M360.1,340.9L364.3,343.3M360.1,343.3L364.3,340.9M363.2,340.6V345.4M361.1,341.8L365.3,344.2M361.1,344.2L365.3,341.8M364.2,339.6V344.4M362.1,340.8L366.3,343.2M362.1,343.2L366.3,340.8M365.2,339.8V344.6M363.1,341.0L367.3,343.4M363.1,343.4L367.3,341.0M366.2,339.5V344.3M364.1,340.7L368.3,343.1M364.1,343.1L368.3,340.7M367.2,340.2V345.0M365.1,341.4L369.3,343.8M365.1,343.8L369.3,341.4M368.2,339.7V344.5M366.1,340.9L370.3,343.3M366.1,343.3L370.3,340.9M369.2,340.5V345.3M367.1,341.7L371.3,344.1M367.1,344.1L371.3,341.7M370.2,339.8V344.6M368.1,341.0L372.3,343.4M368.1,343.4L372.3,341.0M371.2,340.5V345.3M369.1,341.7L373.3,344.1M369.1,344.1L373.3,341.7M372.2,340.0V344.8M370.1,341.2L374.3,343.6M370.1,343.6L374.3,341.2M373.2,339.4V344.2M371.1,340.6L375.3,343.0M371.1,343.0L375.3,340.6M374.2,340.0V344.8M372.1,341.2L376.3,343.6M372.1,343.6L376.3,341.2M375.2,340.4V345.2M373.1,341.6L377.3,344.0M373.1,344.0L377.3,341.6M376.2,338.9V343.7M374.1,340.1L378.3,342.5M374.1,342.5L378.3,340.1M377.2,339.1V343.9M375.1,340.3L379.3,342.7M375.1,342.7L379.3,340.3M378.2,339.8V344.6M376.1,341.0L380.3,343.4M376.1,343.4L380.3,341.0M379.2,339.2V344.0M377.1,340.4L381.3,342.8M377.1,342.8L381.3,340.4M380.2,338.7V343.5M378.1,339.9L382.3,342.3M378.1,342.3L382.3,339.9M381.2,339.1V343.9M379.1,340.3L383.3,342.7M379.1,342.7L383.3,340.3M382.2,338.9V343.7M380.1,340.1L384.3,342.5M380.1,342.5L384.3,340.1M383.2,338.8V343.6M381.1,340.0L385.3,342.4M381.1,342.4L385.3,340.0M384.2,339.1V343.9M382.1,340.3L386.3,342.7M382.1,342.7L386.3,340.3M385.2,339.9V344.7M383.1,341.1L387.3,343.5M383.1,343.5L387.3,341.1M386.2,340.4V345.2M384.1,341.6L388.3,344.0M384.1,344.0L388.3,341.6M387.2,340.2V345.0M385.1,341.4L389.3,343.8M385.1,343.8L389.3,341.4M388.2,339.5V344.3M386.1,340.7L390.3,343.1M386.1,343.1L390.3,340.7M389.2,340.5V345.3M387.1,341.7L391.3,344.1M387.1,344.1L391.3,341.7M390.2,340.8V345.6M388.1,342.0L392.3,344.4M388.1,344.4L392.3,342.0M391.2,340.0V344.8M389.1,341.2L393.3,343.6M389.1,343.6L393.3,341.2M392.2,339.9V344.7M390.1,341.1L394.3,343.5M390.1,343.5L394.3,341.1M393.2,340.8V345.6M391.1,342.0L395.3,344.4M391.1,344.4L395.3,342.0M394.2,340.3V345.1M392.1,341.5L396.3,343.9M392.1,343.9L396.3,341.5M395.2,339.6V344.4M393.1,340.8L397.3,343.2M393.1,343.2L397.3,340.8M396.2,340.6V345.4M394.1,341.8L398.3,344.2M394.1,344.2L398.3,341.8M397.2,340.4V345.2M395.1,341.6L399.3,344.0M395.1,344.0L399.3,341.6M398.2,340.9V345.7M396.1,342.1L400.3,344.5M396.1,344.5L400.3,342.1M399.2,340.7V345.5M397.1,341.9L401.3,344.3M397.1,344.3L401.3,341.9M400.2,340.0V344.8M398.1,341.2L402.3,343.6M398.1,343.6L402.3,341.2M401.2,340.1V344.9M399.1,341.3L403.3,343.7M399.1,343.7L403.3,341.3M402.2,339.5V344.3M400.1,340.7L404.3,343.1M400.1,343.1L404.3,340.7M403.2,340.1V344.9M401.1,341.3L405.3,343.7M401.1,343.7L405.3,341.3M404.2,340.2V345.0M402.1,341.4L406.3,343.8M402.1,343.8L406.3,341.4M405.2,339.9V344.7M403.1,341.1L407.3,343.5M403.1,343.5L407.3,341.1M406.2,339.5V344.3M404.1,340.7L408.3,343.1M404.1,343.1L408.3,340.7M407.2,339.6V344.4M405.1,340.8L409.3,343.2M405.1,343.2L409.3,340.8M408.2,340.5V345.3M406.1,341.7L410.3,344.1M406.1,344.1L410.3,341.7M409.2,341.0V345.8M407.1,342.2L411.3,344.6M407.1,344.6L411.3,342.2M410.2,340.9V345.7M408.1,342.1L412.3,344.5M408.1,344.5L412.3,342.1M411.2,340.5V345.3M409.1,341.7L413.3,344.1M409.1,344.1L413.3,341.7M412.2,340.4V345.2M410.1,341.6L414.3,344.0M410.1,344.0L414.3,341.6M413.2,340.8V345.6M411.1,342.0L415.3,344.4M411.1,344.4L415.3,342.0M414.2,340.2V345.0M412.1,341.4L416.3,343.8M412.1,343.8L416.3,341.4M415.2,339.5V344.3M413.1,340.7L417.3,343.1M413.1,343.1L417.3,340.7M416.2,340.3V345.1M414.1,341.5L418.3,343.9M414.1,343.9L418.3,341.5M417.2,338.7V343.5M415.1,339.9L419.3,342.3M415.1,342.3L419.3,339.9M418.2,339.9V344.7M416.1,341.1L420.3,343.5M416.1,343.5L420.3,341.1M419.2,338.4V343.2M417.1,339.6L421.3,342.0M417.1,342.0L421.3,339.6M420.2,339.2V344.0M418.1,340.4L422.3,342.8M418.1,342.8L422.3,340.4M421.2,338.7V343.5M419.1,339.9L423.3,342.3M419.1,342.3L423.3,339.9M422.2,338.7V343.5M420.1,339.9L424.3,342.3M420.1,342.3L424.3,339.9M423.2,338.3V343.1M421.1,339.5L425.3,341.9M421.1,341.9L425.3,339.5M424.2,338.7V343.5M422.1,339.9L426.3,342.3M422.1,342.3L426.3,339.9M425.2,339.1V343.9M423.1,340.3L427.3,342.7M423.1,342.7L427.3,340.3M426.2,340.4V345.2M424.1,341.6L428.3,344.0M424.1,344.0L428.3,341.6M427.2,339.4V344.2M425.1,340.6L429.3,343.0M425.1,343.0L429.3,340.6M428.2,340.2V345.0M426.1,341.4L430.3,343.8M426.1,343.8L430.3,341.4M429.2,339.7V344.5M427.1,340.9L431.3,343.3M427.1,343.3L431.3,340.9M430.2,340.8V345.6M428.1,342.0L432.3,344.4M428.1,344.4L432.3,342.0M431.2,340.9V345.7M429.1,342.1L433.3,344.5M429.1,344.5L433.3,342.1M432.2,340.0V344.8M430.1,341.2L434.3,343.6M430.1,343.6L434.3,341.2M433.2,340.3V345.1M431.1,341.5L435.3,343.9M431.1,343.9L435.3,341.5M434.2,340.5V345.3M432.1,341.7L436.3,344.1M432.1,344.1L436.3,341.7M435.2,340.5V345.3M433.1,341.7L437.3,344.1M433.1,344.1L437.3,341.7M436.2,341.2V346.0M434.1,342.4L438.3,344.8M434.1,344.8L438.3,342.4M437.2,339.7V344.5M435.1,340.9L439.3,343.3M435.1,343.3L439.3,340.9M438.2,340.2V345.0M436.1,341.4L440.3,343.8M436.1,343.8L440.3,341.4M439.2,340.3V345.1M437.1,341.5L441.3,343.9M437.1,343.9L441.3,341.5M440.2,341.1V345.9M438.1,342.3L442.3,344.7M438.1,344.7L442.3,342.3M441.2,341.1V345.9M439.1,342.3L443.3,344.7M439.1,344.7L443.3,342.3M442.2,340.9V345.7M440.1,342.1L444.3,344.5M440.1,344.5L444.3,342.1M443.2,340.2V345.0M441.1,341.4L445.3,343.8M441.1,343.8L445.3,341.4M444.2,340.1V344.9M442.1,341.3L446.3,343.7M442.1,343.7L446.3,341.3M445.2,340.7V345.5M443.1,341.9L447.3,344.3M443.1,344.3L447.3,341.9M446.2,340.0V344.8M444.1,341.2L448.3,343.6M444.1,343.6L448.3,341.2M447.2,341.0V345.8M445.1,342.2L449.3,344.6M445.1,344.6L449.3,342.2M448.2,341.3V346.1M446.1,342.5L450.3,344.9M446.1,344.9L450.3,342.5M449.2,340.1V344.9M447.1,341.3L451.3,343.7M447.1,343.7L451.3,341.3M450.2,340.9V345.7M448.1,342.1L452.3,344.5M448.1,344.5L452.3,342.1M451.2,340.8V345.6M449.1,342.0L453.3,344.4M449.1,344.4L453.3,342.0M452.2,340.6V345.4M450.1,341.8L454.3,344.2M450.1,344.2L454.3,341.8M453.2,341.2V346.0M451.1,342.4L455.3,344.8M451.1,344.8L455.3,342.4M454.2,340.8V345.6M452.1,342.0L456.3,344.4M452.1,344.4L456.3,342.0M455.2,340.6V345.4M453.1,341.8L457.3,344.2M453.1,344.2L457.3,341.8" fill="none" stroke="#3f5ba8" stroke-width="0.7"/>
<polyline points="355.20,360.69 355.70,360.48 356.20,359.96 356.70,360.31 357.20,360.31 357.70,360.33 358.20,360.48 358.70,360.25 359.20,360.29 359.70,360.34 360.20,360.28 360.70,360.98 361.20,359.95 361.70,359.87 362.20,360.70 362.70,360.32 363.20,360.39 363.70,360.56 364.20,360.30 364.70,360.15 365.20,359.89 365.70,360.90 366.20,360.98 366.70,360.21 367.20,360.43 367.70,360.26 368.20,359.95 368.70,360.93 369.20,360.86 369.70,360.17 370.20,360.18 370.70,360.70 371.20,360.81 371.70,360.42 372.20,360.31 372.70,360.11 373.20,360.75 373.70,360.80 374.20,360.76 374.70,359.85 375.20,360.36 375.70,360.76 376.20,360.38 376.70,360.01 377.20,359.57 377.70,359.40 378.20,360.11 378.70,359.27 379.20,360.09 379.70,359.89 380.20,359.66 380.70,360.18 381.20,360.27 381.70,359.96 382.20,359.43 382.70,360.08 383.20,359.97 383.70,359.85 384.20,360.72 384.70,360.56 385.20,359.91 385.70,360.09 386.20,360.27 386.70,360.57 387.20,360.32 387.70,360.48 388.20,360.94 388.70,360.22 389.20,360.86 389.70,360.42 390.20,361.15 390.70,361.16 391.20,360.44 391.70,360.77 392.20,360.20 392.70,360.56 393.20,360.81 393.70,360.84 394.20,360.49 394.70,360.14 395.20,360.25 395.70,360.76 396.20,360.31 396.70,360.48 397.20,360.85 397.70,361.18 398.20,360.73 398.70,360.43 399.20,360.82 399.70,360.46 400.20,361.06 400.70,360.33 401.20,360.46 401.70,360.67 402.20,361.22 402.70,360.36 403.20,360.39 403.70,360.32 404.20,360.42 404.70,360.56 405.20,360.64 405.70,361.07 406.20,360.66 406.70,360.74 407.20,360.65 407.70,361.09 408.20,361.25 408.70,360.69 409.20,361.27 409.70,360.48 410.20,361.33 410.70,360.80 411.20,360.97 411.70,360.61 412.20,360.47 412.70,360.29 413.20,361.15 413.70,360.50 414.20,360.86 414.70,360.53 415.20,360.54 415.70,360.09 416.20,359.97 416.70,360.06 417.20,360.36 417.70,360.08 418.20,359.33 418.70,360.04 419.20,359.61 419.70,359.10 420.20,359.26 420.70,359.18 421.20,359.91 421.70,359.65 422.20,359.47 422.70,359.49 423.20,359.66 423.70,359.77 424.20,359.98 424.70,360.61 425.20,360.72 425.70,360.72 426.20,361.02 426.70,360.83 427.20,360.26 427.70,360.23 428.20,360.41 428.70,360.56 429.20,360.90 429.70,361.27 430.20,361.01 430.70,360.84 431.20,360.64 431.70,361.51 432.20,361.26 432.70,360.78 433.20,360.44 433.70,361.55 434.20,360.71 434.70,361.40 435.20,360.56 435.70,361.19 436.20,360.85 436.70,361.48 437.20,360.79 437.70,360.57 438.20,360.69 438.70,361.40 439.20,361.61 439.70,361.22 440.20,361.27 440.70,360.81 441.20,360.80 441.70,360.59 442.20,361.64 442.70,360.55 443.20,361.22 443.70,360.92 444.20,360.73 444.70,361.03 445.20,361.61 445.70,360.81 446.20,360.72 446.70,361.27 447.20,361.31 447.70,361.14 448.20,360.76 448.70,361.57 449.20,360.69 449.70,360.76 450.20,360.85 450.70,361.17 451.20,361.13 451.70,361.22 452.20,361.43 452.70,361.63 453.20,361.14 453.70,360.64 454.20,361.57 454.70,360.62 455.20,360.98" fill="none" stroke="#544d4d" stroke-width="2.3" stroke-linejoin="round" stroke-linecap="round" />
<path d="M354.5,360.0H357.9M356.2,358.3V361.7M355.5,360.3H358.9M357.2,358.6V362.0M356.5,360.5H359.9M358.2,358.8V362.2M357.5,360.3H360.9M359.2,358.6V362.0M358.5,360.3H361.9M360.2,358.6V362.0M359.5,360.0H362.9M361.2,358.3V361.7M360.5,360.7H363.9M362.2,359.0V362.4M361.5,360.4H364.9M363.2,358.7V362.1M362.5,360.3H365.9M364.2,358.6V362.0M363.5,359.9H366.9M365.2,358.2V361.6M364.5,361.0H367.9M366.2,359.3V362.7M365.5,360.4H368.9M367.2,358.7V362.1M366.5,360.0H369.9M368.2,358.3V361.7M367.5,360.9H370.9M369.2,359.2V362.6M368.5,360.2H371.9M370.2,358.5V361.9M369.5,360.8H372.9M371.2,359.1V362.5M370.5,360.3H373.9M372.2,358.6V362.0M371.5,360.8H374.9M373.2,359.1V362.5M372.5,360.8H375.9M374.2,359.1V362.5M373.5,360.4H376.9M375.2,358.7V362.1M374.5,360.4H377.9M376.2,358.7V362.1M375.5,359.6H378.9M377.2,357.9V361.3M376.5,360.1H379.9M378.2,358.4V361.8M377.5,360.1H380.9M379.2,358.4V361.8M378.5,359.7H381.9M380.2,358.0V361.4M379.5,360.3H382.9M381.2,358.6V362.0M380.5,359.4H383.9M382.2,357.7V361.1M381.5,360.0H384.9M383.2,358.3V361.7M382.5,360.7H385.9M384.2,359.0V362.4M383.5,359.9H386.9M385.2,358.2V361.6M384.5,360.3H387.9M386.2,358.6V362.0M385.5,360.3H388.9M387.2,358.6V362.0M386.5,360.9H389.9M388.2,359.2V362.6M387.5,360.9H390.9M389.2,359.2V362.6M388.5,361.1H391.9M390.2,359.4V362.8M389.5,360.4H392.9M391.2,358.7V362.1M390.5,360.2H393.9M392.2,358.5V361.9M391.5,360.8H394.9M393.2,359.1V362.5M392.5,360.5H395.9M394.2,358.8V362.2M393.5,360.2H396.9M395.2,358.5V361.9M394.5,360.3H397.9M396.2,358.6V362.0M395.5,360.8H398.9M397.2,359.1V362.5M396.5,360.7H399.9M398.2,359.0V362.4M397.5,360.8H400.9M399.2,359.1V362.5M398.5,361.1H401.9M400.2,359.4V362.8M399.5,360.5H402.9M401.2,358.8V362.2M400.5,361.2H403.9M402.2,359.5V362.9M401.5,360.4H404.9M403.2,358.7V362.1M402.5,360.4H405.9M404.2,358.7V362.1M403.5,360.6H406.9M405.2,358.9V362.3M404.5,360.7H407.9M406.2,359.0V362.4M405.5,360.7H408.9M407.2,359.0V362.4M406.5,361.2H409.9M408.2,359.5V362.9M407.5,361.3H410.9M409.2,359.6V363.0M408.5,361.3H411.9M410.2,359.6V363.0M409.5,361.0H412.9M411.2,359.3V362.7M410.5,360.5H413.9M412.2,358.8V362.2M411.5,361.1H414.9M413.2,359.4V362.8M412.5,360.9H415.9M414.2,359.2V362.6M413.5,360.5H416.9M415.2,358.8V362.2M414.5,360.0H417.9M416.2,358.3V361.7M415.5,360.4H418.9M417.2,358.7V362.1M416.5,359.3H419.9M418.2,357.6V361.0M417.5,359.6H420.9M419.2,357.9V361.3M418.5,359.3H421.9M420.2,357.6V361.0M419.5,359.9H422.9M421.2,358.2V361.6M420.5,359.5H423.9M422.2,357.8V361.2M421.5,359.7H424.9M423.2,358.0V361.4M422.5,360.0H425.9M424.2,358.3V361.7M423.5,360.7H426.9M425.2,359.0V362.4M424.5,361.0H427.9M426.2,359.3V362.7M425.5,360.3H428.9M427.2,358.6V362.0M426.5,360.4H429.9M428.2,358.7V362.1M427.5,360.9H430.9M429.2,359.2V362.6M428.5,361.0H431.9M430.2,359.3V362.7M429.5,360.6H432.9M431.2,358.9V362.3M430.5,361.3H433.9M432.2,359.6V363.0M431.5,360.4H434.9M433.2,358.7V362.1M432.5,360.7H435.9M434.2,359.0V362.4M433.5,360.6H436.9M435.2,358.9V362.3M434.5,360.8H437.9M436.2,359.1V362.5M435.5,360.8H438.9M437.2,359.1V362.5M436.5,360.7H439.9M438.2,359.0V362.4M437.5,361.6H440.9M439.2,359.9V363.3M438.5,361.3H441.9M440.2,359.6V363.0M439.5,360.8H442.9M441.2,359.1V362.5M440.5,361.6H443.9M442.2,359.9V363.3M441.5,361.2H444.9M443.2,359.5V362.9M442.5,360.7H445.9M444.2,359.0V362.4M443.5,361.6H446.9M445.2,359.9V363.3M444.5,360.7H447.9M446.2,359.0V362.4M445.5,361.3H448.9M447.2,359.6V363.0M446.5,360.8H449.9M448.2,359.1V362.5M447.5,360.7H450.9M449.2,359.0V362.4M448.5,360.8H451.9M450.2,359.1V362.5M449.5,361.1H452.9M451.2,359.4V362.8M450.5,361.4H453.9M452.2,359.7V363.1M451.5,361.1H454.9M453.2,359.4V362.8M452.5,361.6H455.9M454.2,359.9V363.3M453.5,361.0H456.9M455.2,359.3V362.7" fill="none" stroke="#544d4d" stroke-width="0.6"/>
<line x1="143.2" y1="196.1" x2="143.2" y2="373.8" stroke="#1a1a1a" stroke-width="1.5"/>
<line x1="239.4" y1="196.1" x2="239.4" y2="373.8" stroke="#1a1a1a" stroke-width="1.5"/>
<line x1="246.2" y1="196.1" x2="246.2" y2="373.8" stroke="#1a1a1a" stroke-width="1.5"/>
<line x1="347.1" y1="196.1" x2="347.1" y2="373.8" stroke="#1a1a1a" stroke-width="1.5"/>
<line x1="353.9" y1="196.1" x2="353.9" y2="373.8" stroke="#1a1a1a" stroke-width="1.5"/>
<line x1="456.7" y1="196.1" x2="456.7" y2="373.8" stroke="#1a1a1a" stroke-width="1.5"/>
<text x="461.0" y="225.4" font-size="10.4" fill="#3e2f88" stroke="#3e2f88" stroke-width="0.3" text-anchor="start" textLength="70.3" lengthAdjust="spacingAndGlyphs" >Etch Depth (nm)</text>
<defs><linearGradient id="ag" x1="0" y1="0" x2="0" y2="1"><stop offset="0" stop-color="#dfe7f5"/><stop offset="1" stop-color="#4d78c4"/></linearGradient></defs>
<rect x="470.5" y="239.6" width="1.0" height="127.5" fill="url(#ag)"/>
<path d="M468.3,361.5 L471,367.3 L473.7,361.5" fill="none" stroke="#4d78c4" stroke-width="0.9"/>
<line x1="479.1" y1="249.9" x2="496.9" y2="249.9" stroke="#564f4f" stroke-width="1.6"/>
<circle cx="488.2" cy="249.9" r="1.3" fill="#564f4f"/>
<text x="501.8" y="253.4" font-size="9.8" fill="#231f20" stroke="#231f20" stroke-width="0.3" text-anchor="start" textLength="10.0" lengthAdjust="spacingAndGlyphs" >70</text>
<line x1="479.1" y1="263.4" x2="496.9" y2="263.4" stroke="#68b234" stroke-width="1.6"/>
<circle cx="488.2" cy="263.4" r="1.3" fill="#68b234"/>
<text x="501.8" y="266.9" font-size="9.8" fill="#231f20" stroke="#231f20" stroke-width="0.3" text-anchor="start" textLength="10.0" lengthAdjust="spacingAndGlyphs" >88</text>
<line x1="479.1" y1="276.5" x2="496.9" y2="276.5" stroke="#7597cc" stroke-width="1.6"/>
<circle cx="488.2" cy="276.5" r="1.3" fill="#7597cc"/>
<text x="501.8" y="280.0" font-size="9.8" fill="#231f20" stroke="#231f20" stroke-width="0.3" text-anchor="start" textLength="15.0" lengthAdjust="spacingAndGlyphs" >106</text>
<line x1="479.1" y1="291.5" x2="496.9" y2="291.5" stroke="#878a2e" stroke-width="1.6"/>
<circle cx="488.2" cy="291.5" r="1.3" fill="#878a2e"/>
<text x="501.8" y="295.0" font-size="9.8" fill="#231f20" stroke="#231f20" stroke-width="0.3" text-anchor="start" textLength="15.0" lengthAdjust="spacingAndGlyphs" >135</text>
<line x1="479.1" y1="308.2" x2="496.9" y2="308.2" stroke="#45bab0" stroke-width="1.6"/>
<circle cx="488.2" cy="308.2" r="1.3" fill="#45bab0"/>
<text x="501.8" y="311.7" font-size="9.8" fill="#231f20" stroke="#231f20" stroke-width="0.3" text-anchor="start" textLength="15.0" lengthAdjust="spacingAndGlyphs" >171</text>
<line x1="479.1" y1="324.8" x2="496.9" y2="324.8" stroke="#9a6ab6" stroke-width="1.6"/>
<circle cx="488.2" cy="324.8" r="1.3" fill="#9a6ab6"/>
<text x="501.8" y="328.3" font-size="9.8" fill="#231f20" stroke="#231f20" stroke-width="0.3" text-anchor="start" textLength="15.0" lengthAdjust="spacingAndGlyphs" >206</text>
<line x1="479.1" y1="343.5" x2="496.9" y2="343.5" stroke="#3f5ba8" stroke-width="1.6"/>
<circle cx="488.2" cy="343.5" r="1.3" fill="#3f5ba8"/>
<text x="501.8" y="347.0" font-size="9.8" fill="#231f20" stroke="#231f20" stroke-width="0.3" text-anchor="start" textLength="15.0" lengthAdjust="spacingAndGlyphs" >242</text>
<line x1="479.1" y1="360.4" x2="496.9" y2="360.4" stroke="#544d4d" stroke-width="1.6"/>
<circle cx="488.2" cy="360.4" r="1.3" fill="#544d4d"/>
<text x="501.8" y="363.9" font-size="9.8" fill="#231f20" stroke="#231f20" stroke-width="0.3" text-anchor="start" textLength="15.0" lengthAdjust="spacingAndGlyphs" >295</text>
</svg></body></html>
